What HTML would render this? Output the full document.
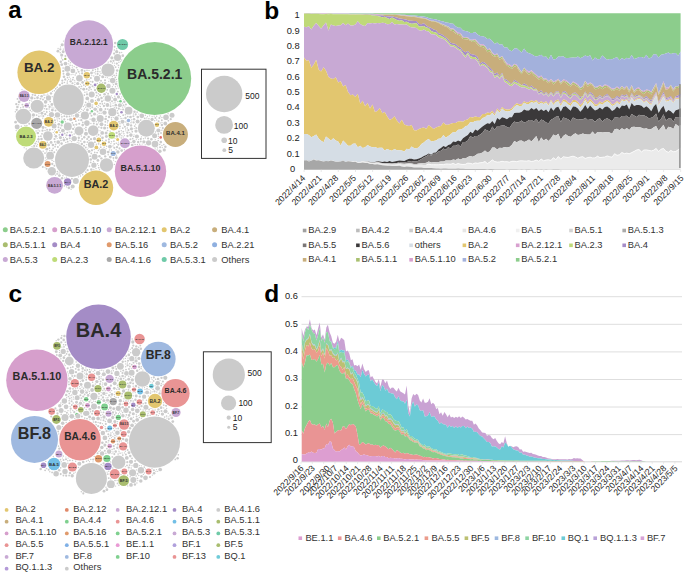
<!DOCTYPE html>
<html><head><meta charset="utf-8"><style>
html,body{margin:0;padding:0;background:#fff;width:685px;height:574px;overflow:hidden}
svg{display:block;font-family:"Liberation Sans", sans-serif}
</style></head><body>
<svg width="685" height="574" viewBox="0 0 685 574">
<rect width="685" height="574" fill="#fff"/>
<text x="8.3" y="17.9" font-size="24" text-anchor="start" font-weight="bold" fill="#000" >a</text>
<text x="264.3" y="18.6" font-size="24.5" text-anchor="start" font-weight="bold" fill="#000" >b</text>
<text x="8.5" y="302.0" font-size="24.5" text-anchor="start" font-weight="bold" fill="#000" >c</text>
<text x="264.2" y="302.3" font-size="24.5" text-anchor="start" font-weight="bold" fill="#000" >d</text>
<circle cx="154.7" cy="78.5" r="36.50" fill="#8ccd8c"/>
<circle cx="88.7" cy="44.7" r="24.40" fill="#c8a9d4"/>
<circle cx="39.2" cy="72.3" r="21.80" fill="#e2c66f"/>
<circle cx="140.5" cy="171.3" r="25.70" fill="#d69fcc"/>
<circle cx="96.0" cy="187.8" r="17.20" fill="#e2c66f"/>
<circle cx="175.4" cy="134.5" r="12.50" fill="#c8ae7c"/>
<circle cx="26.0" cy="136.6" r="10.00" fill="#bedb78"/>
<circle cx="122.5" cy="44.5" r="5.60" fill="#6fcaa8"/>
<circle cx="24.1" cy="96.2" r="5.70" fill="#c8a9d4"/>
<circle cx="36.7" cy="123.4" r="5.60" fill="#a9a9a9"/>
<circle cx="48.7" cy="121.8" r="4.90" fill="#e2c66f"/>
<circle cx="101.3" cy="88.3" r="4.70" fill="#a9bd6f"/>
<circle cx="54.6" cy="185.3" r="8.40" fill="#c8a9d4"/>
<circle cx="124.9" cy="143.2" r="5.00" fill="#c8a9d4"/>
<circle cx="113.7" cy="125.6" r="4.90" fill="#e2c66f"/>
<circle cx="111.8" cy="135.4" r="3.30" fill="#bedb78"/>
<circle cx="67.6" cy="182.0" r="3.70" fill="#a48cc6"/>
<circle cx="26.7" cy="105.4" r="2.30" fill="#c8a9d4"/>
<circle cx="86.8" cy="75.2" r="3.20" fill="#e2c66f"/>
<circle cx="87.3" cy="83.5" r="2.30" fill="#e2c66f"/>
<circle cx="42.8" cy="144.8" r="3.90" fill="#e2c66f"/>
<circle cx="47.6" cy="164.0" r="3.00" fill="#e09a6c"/>
<circle cx="113.2" cy="153.5" r="2.60" fill="#9fb9e0"/>
<circle cx="128.5" cy="120.5" r="1.80" fill="#9fb9e0"/>
<circle cx="98.8" cy="140.0" r="2.40" fill="#e2c66f"/>
<circle cx="104.0" cy="143.7" r="2.30" fill="#e2c66f"/>
<circle cx="96.4" cy="147.4" r="1.90" fill="#e2c66f"/>
<circle cx="117.6" cy="139.5" r="1.50" fill="#e2c66f"/>
<circle cx="157.0" cy="124.7" r="2.20" fill="#e2c66f"/>
<circle cx="96.1" cy="103.4" r="1.80" fill="#e2c66f"/>
<circle cx="160.7" cy="137.4" r="1.30" fill="#e07070"/>
<circle cx="62.2" cy="122.0" r="1.70" fill="#7fd08f"/>
<circle cx="65.3" cy="58.9" r="1.20" fill="#a9bd6f"/>
<circle cx="120.5" cy="101.3" r="1.30" fill="#7fd08f"/>
<circle cx="91.9" cy="111.2" r="1.20" fill="#7fd08f"/>
<circle cx="95.1" cy="84.9" r="1.40" fill="#a48cc6"/>
<circle cx="116.8" cy="94.0" r="1.20" fill="#a48cc6"/>
<circle cx="121.5" cy="112.3" r="1.30" fill="#a48cc6"/>
<circle cx="62.3" cy="134.8" r="1.20" fill="#a48cc6"/>
<circle cx="69.9" cy="135.4" r="1.20" fill="#a48cc6"/>
<circle cx="74.4" cy="118.8" r="1.30" fill="#e09a6c"/>
<circle cx="56.7" cy="132.3" r="1.30" fill="#e2c66f"/>
<circle cx="68.4" cy="99.7" r="15.30" fill="#cbcbcb"/>
<circle cx="72.0" cy="159.9" r="17.00" fill="#cbcbcb"/>
<circle cx="33.7" cy="158.1" r="10.50" fill="#cbcbcb"/>
<circle cx="23.4" cy="116.5" r="7.80" fill="#cbcbcb"/>
<circle cx="37.2" cy="106.2" r="6.50" fill="#cbcbcb"/>
<circle cx="108.0" cy="70.0" r="6.60" fill="#cbcbcb"/>
<circle cx="146.3" cy="128.3" r="8.50" fill="#cbcbcb"/>
<circle cx="93.2" cy="130.6" r="5.30" fill="#cbcbcb"/>
<circle cx="106.5" cy="165.0" r="6.70" fill="#cbcbcb"/>
<circle cx="47.9" cy="136.0" r="4.80" fill="#cbcbcb"/>
<circle cx="50.1" cy="155.7" r="3.90" fill="#cbcbcb"/>
<circle cx="51.8" cy="171.3" r="4.20" fill="#cbcbcb"/>
<circle cx="84.9" cy="115.5" r="4.10" fill="#cbcbcb"/>
<circle cx="112.3" cy="112.2" r="4.10" fill="#cbcbcb"/>
<circle cx="128.6" cy="110.7" r="3.90" fill="#cbcbcb"/>
<circle cx="100.2" cy="118.4" r="3.50" fill="#cbcbcb"/>
<circle cx="117.6" cy="57.5" r="3.60" fill="#cbcbcb"/>
<circle cx="79.4" cy="78.3" r="3.30" fill="#cbcbcb"/>
<circle cx="97.0" cy="78.8" r="3.00" fill="#cbcbcb"/>
<circle cx="91.7" cy="94.5" r="3.00" fill="#cbcbcb"/>
<circle cx="107.9" cy="98.5" r="3.20" fill="#cbcbcb"/>
<circle cx="112.4" cy="90.8" r="3.00" fill="#cbcbcb"/>
<circle cx="67.4" cy="68.7" r="3.00" fill="#cbcbcb"/>
<circle cx="67.8" cy="126.4" r="4.00" fill="#cbcbcb"/>
<circle cx="79.0" cy="130.9" r="4.50" fill="#cbcbcb"/>
<circle cx="57.4" cy="114.9" r="2.70" fill="#cbcbcb"/>
<circle cx="91.1" cy="144.8" r="3.20" fill="#cbcbcb"/>
<circle cx="103.0" cy="151.8" r="3.30" fill="#cbcbcb"/>
<circle cx="94.6" cy="156.7" r="3.00" fill="#cbcbcb"/>
<circle cx="155.0" cy="144.1" r="3.40" fill="#cbcbcb"/>
<circle cx="154.6" cy="135.8" r="2.50" fill="#cbcbcb"/>
<circle cx="166.0" cy="117.3" r="2.80" fill="#cbcbcb"/>
<circle cx="172.0" cy="115.2" r="2.50" fill="#cbcbcb"/>
<circle cx="75.8" cy="181.0" r="3.00" fill="#cbcbcb"/>
<circle cx="72.7" cy="186.4" r="2.00" fill="#cbcbcb"/>
<circle cx="54.1" cy="126.0" r="2.50" fill="#cbcbcb"/>
<circle cx="51.5" cy="114.5" r="2.60" fill="#cbcbcb"/>
<circle cx="86.9" cy="123.1" r="2.80" fill="#cbcbcb"/>
<circle cx="63.2" cy="51.8" r="1.48" fill="#cbcbcb"/>
<circle cx="119.0" cy="131.6" r="1.09" fill="#cbcbcb"/>
<circle cx="88.8" cy="105.0" r="2.58" fill="#cbcbcb"/>
<circle cx="94.5" cy="138.7" r="1.58" fill="#cbcbcb"/>
<circle cx="57.9" cy="51.2" r="1.40" fill="#cbcbcb"/>
<circle cx="103.9" cy="106.0" r="1.14" fill="#cbcbcb"/>
<circle cx="81.9" cy="70.4" r="1.28" fill="#cbcbcb"/>
<circle cx="48.5" cy="97.9" r="2.61" fill="#cbcbcb"/>
<circle cx="67.3" cy="83.0" r="0.84" fill="#cbcbcb"/>
<circle cx="52.9" cy="145.1" r="1.26" fill="#cbcbcb"/>
<circle cx="61.7" cy="64.7" r="1.37" fill="#cbcbcb"/>
<circle cx="112.7" cy="80.6" r="2.78" fill="#cbcbcb"/>
<circle cx="73.6" cy="125.0" r="1.05" fill="#cbcbcb"/>
<circle cx="124.9" cy="126.8" r="1.06" fill="#cbcbcb"/>
<circle cx="159.7" cy="144.5" r="0.79" fill="#cbcbcb"/>
<circle cx="132.2" cy="145.0" r="1.37" fill="#cbcbcb"/>
<circle cx="106.1" cy="133.0" r="1.50" fill="#cbcbcb"/>
<circle cx="107.6" cy="130.5" r="0.85" fill="#cbcbcb"/>
<circle cx="107.4" cy="105.0" r="1.91" fill="#cbcbcb"/>
<circle cx="91.5" cy="73.0" r="1.42" fill="#cbcbcb"/>
<circle cx="119.9" cy="105.2" r="2.06" fill="#cbcbcb"/>
<circle cx="67.0" cy="139.2" r="1.16" fill="#cbcbcb"/>
<circle cx="93.9" cy="165.2" r="2.60" fill="#cbcbcb"/>
<circle cx="86.7" cy="79.8" r="0.88" fill="#cbcbcb"/>
<circle cx="86.0" cy="133.8" r="2.02" fill="#cbcbcb"/>
<circle cx="16.7" cy="109.8" r="1.14" fill="#cbcbcb"/>
<circle cx="88.7" cy="137.0" r="1.17" fill="#cbcbcb"/>
<circle cx="117.0" cy="147.1" r="1.18" fill="#cbcbcb"/>
<circle cx="137.1" cy="112.1" r="0.85" fill="#cbcbcb"/>
<circle cx="148.6" cy="142.8" r="2.63" fill="#cbcbcb"/>
<circle cx="130.9" cy="135.1" r="1.80" fill="#cbcbcb"/>
<circle cx="104.5" cy="112.6" r="2.20" fill="#cbcbcb"/>
<circle cx="51.1" cy="142.4" r="1.38" fill="#cbcbcb"/>
<circle cx="71.5" cy="132.2" r="1.01" fill="#cbcbcb"/>
<circle cx="84.4" cy="95.1" r="0.84" fill="#cbcbcb"/>
<circle cx="116.5" cy="118.5" r="2.19" fill="#cbcbcb"/>
<circle cx="52.0" cy="150.6" r="0.99" fill="#cbcbcb"/>
<circle cx="53.1" cy="148.4" r="0.86" fill="#cbcbcb"/>
<circle cx="33.4" cy="114.9" r="1.73" fill="#cbcbcb"/>
<circle cx="94.9" cy="142.2" r="0.88" fill="#cbcbcb"/>
<circle cx="96.9" cy="124.4" r="1.07" fill="#cbcbcb"/>
<circle cx="115.1" cy="99.5" r="1.98" fill="#cbcbcb"/>
<circle cx="159.9" cy="151.2" r="1.72" fill="#cbcbcb"/>
<circle cx="116.6" cy="132.9" r="1.10" fill="#cbcbcb"/>
<circle cx="105.6" cy="119.0" r="1.35" fill="#cbcbcb"/>
<circle cx="41.9" cy="113.3" r="1.48" fill="#cbcbcb"/>
<circle cx="60.4" cy="137.6" r="1.60" fill="#cbcbcb"/>
<circle cx="114.3" cy="107.3" r="0.66" fill="#cbcbcb"/>
<circle cx="58.2" cy="142.1" r="1.90" fill="#cbcbcb"/>
<circle cx="114.1" cy="53.6" r="1.10" fill="#cbcbcb"/>
<circle cx="122.5" cy="121.7" r="2.05" fill="#cbcbcb"/>
<circle cx="127.8" cy="124.5" r="1.74" fill="#cbcbcb"/>
<circle cx="76.6" cy="67.6" r="0.97" fill="#cbcbcb"/>
<circle cx="101.5" cy="124.3" r="1.95" fill="#cbcbcb"/>
<circle cx="133.6" cy="136.6" r="0.75" fill="#cbcbcb"/>
<circle cx="93.5" cy="119.7" r="2.27" fill="#cbcbcb"/>
<circle cx="82.6" cy="82.4" r="1.32" fill="#cbcbcb"/>
<circle cx="128.4" cy="130.1" r="1.09" fill="#cbcbcb"/>
<circle cx="57.9" cy="146.9" r="1.00" fill="#cbcbcb"/>
<circle cx="31.8" cy="97.9" r="1.65" fill="#cbcbcb"/>
<circle cx="46.8" cy="149.2" r="1.40" fill="#cbcbcb"/>
<circle cx="165.3" cy="123.5" r="1.88" fill="#cbcbcb"/>
<circle cx="17.5" cy="98.9" r="0.93" fill="#cbcbcb"/>
<circle cx="158.6" cy="121.3" r="0.97" fill="#cbcbcb"/>
<circle cx="63.9" cy="140.0" r="1.47" fill="#cbcbcb"/>
<circle cx="46.7" cy="109.1" r="1.07" fill="#cbcbcb"/>
<circle cx="76.4" cy="124.6" r="1.12" fill="#cbcbcb"/>
<circle cx="121.7" cy="60.0" r="0.64" fill="#cbcbcb"/>
<circle cx="134.5" cy="111.8" r="1.24" fill="#cbcbcb"/>
<circle cx="131.4" cy="128.8" r="1.61" fill="#cbcbcb"/>
<circle cx="125.5" cy="118.0" r="1.23" fill="#cbcbcb"/>
<circle cx="62.0" cy="178.2" r="1.25" fill="#cbcbcb"/>
<circle cx="115.6" cy="67.1" r="0.94" fill="#cbcbcb"/>
<circle cx="74.2" cy="138.6" r="2.69" fill="#cbcbcb"/>
<circle cx="116.7" cy="51.7" r="1.60" fill="#cbcbcb"/>
<circle cx="59.4" cy="121.3" r="0.66" fill="#cbcbcb"/>
<circle cx="97.2" cy="114.9" r="0.62" fill="#cbcbcb"/>
<circle cx="109.9" cy="146.6" r="1.92" fill="#cbcbcb"/>
<circle cx="101.4" cy="158.3" r="1.17" fill="#cbcbcb"/>
<circle cx="72.9" cy="70.9" r="2.41" fill="#cbcbcb"/>
<circle cx="37.5" cy="97.7" r="1.34" fill="#cbcbcb"/>
<circle cx="49.1" cy="109.1" r="0.76" fill="#cbcbcb"/>
<circle cx="72.7" cy="79.7" r="0.91" fill="#cbcbcb"/>
<circle cx="130.4" cy="139.3" r="1.07" fill="#cbcbcb"/>
<circle cx="29.3" cy="103.0" r="0.68" fill="#cbcbcb"/>
<circle cx="41.5" cy="139.1" r="1.23" fill="#cbcbcb"/>
<circle cx="89.6" cy="87.5" r="1.25" fill="#cbcbcb"/>
<circle cx="36.6" cy="115.1" r="0.97" fill="#cbcbcb"/>
<circle cx="101.5" cy="97.9" r="1.23" fill="#cbcbcb"/>
<circle cx="102.2" cy="132.9" r="1.87" fill="#cbcbcb"/>
<circle cx="104.6" cy="94.2" r="1.31" fill="#cbcbcb"/>
<circle cx="134.1" cy="119.2" r="1.22" fill="#cbcbcb"/>
<circle cx="43.3" cy="116.1" r="1.04" fill="#cbcbcb"/>
<circle cx="127.4" cy="132.7" r="1.12" fill="#cbcbcb"/>
<circle cx="17.2" cy="127.0" r="2.49" fill="#cbcbcb"/>
<circle cx="124.3" cy="101.7" r="1.19" fill="#cbcbcb"/>
<circle cx="37.8" cy="133.0" r="1.29" fill="#cbcbcb"/>
<circle cx="73.2" cy="77.5" r="0.86" fill="#cbcbcb"/>
<circle cx="44.0" cy="111.5" r="0.78" fill="#cbcbcb"/>
<circle cx="92.0" cy="101.0" r="1.97" fill="#cbcbcb"/>
<circle cx="102.5" cy="137.8" r="1.36" fill="#cbcbcb"/>
<circle cx="64.3" cy="116.2" r="0.91" fill="#cbcbcb"/>
<circle cx="59.4" cy="175.6" r="1.38" fill="#cbcbcb"/>
<circle cx="79.1" cy="86.9" r="0.88" fill="#cbcbcb"/>
<circle cx="87.1" cy="139.1" r="1.00" fill="#cbcbcb"/>
<circle cx="76.2" cy="73.0" r="0.87" fill="#cbcbcb"/>
<circle cx="106.1" cy="116.3" r="0.86" fill="#cbcbcb"/>
<circle cx="141.8" cy="115.8" r="2.37" fill="#cbcbcb"/>
<circle cx="137.6" cy="121.5" r="2.03" fill="#cbcbcb"/>
<circle cx="110.9" cy="143.6" r="0.71" fill="#cbcbcb"/>
<circle cx="35.4" cy="143.5" r="1.05" fill="#cbcbcb"/>
<circle cx="122.6" cy="107.1" r="0.69" fill="#cbcbcb"/>
<circle cx="110.6" cy="106.2" r="0.96" fill="#cbcbcb"/>
<circle cx="61.6" cy="143.6" r="1.28" fill="#cbcbcb"/>
<circle cx="118.3" cy="144.6" r="1.12" fill="#cbcbcb"/>
<circle cx="78.8" cy="137.7" r="1.19" fill="#cbcbcb"/>
<circle cx="70.8" cy="119.5" r="1.78" fill="#cbcbcb"/>
<circle cx="49.6" cy="106.7" r="1.18" fill="#cbcbcb"/>
<circle cx="98.5" cy="99.8" r="1.77" fill="#cbcbcb"/>
<circle cx="77.7" cy="83.5" r="1.62" fill="#cbcbcb"/>
<circle cx="83.3" cy="110.5" r="0.63" fill="#cbcbcb"/>
<circle cx="83.4" cy="106.5" r="0.67" fill="#cbcbcb"/>
<circle cx="78.6" cy="71.8" r="1.00" fill="#cbcbcb"/>
<circle cx="73.1" cy="128.9" r="1.14" fill="#cbcbcb"/>
<circle cx="62.9" cy="130.6" r="1.91" fill="#cbcbcb"/>
<circle cx="97.1" cy="152.6" r="0.95" fill="#cbcbcb"/>
<circle cx="134.7" cy="126.1" r="0.90" fill="#cbcbcb"/>
<circle cx="109.0" cy="117.0" r="1.19" fill="#cbcbcb"/>
<circle cx="131.1" cy="125.4" r="1.18" fill="#cbcbcb"/>
<circle cx="105.3" cy="121.8" r="0.91" fill="#cbcbcb"/>
<circle cx="100.1" cy="130.7" r="0.62" fill="#cbcbcb"/>
<circle cx="131.7" cy="119.3" r="0.62" fill="#cbcbcb"/>
<circle cx="87.0" cy="94.3" r="1.15" fill="#cbcbcb"/>
<circle cx="108.9" cy="142.2" r="1.15" fill="#cbcbcb"/>
<circle cx="67.9" cy="74.2" r="1.99" fill="#cbcbcb"/>
<circle cx="140.7" cy="120.1" r="0.82" fill="#cbcbcb"/>
<circle cx="60.6" cy="128.2" r="0.83" fill="#cbcbcb"/>
<circle cx="90.7" cy="162.4" r="0.91" fill="#cbcbcb"/>
<circle cx="118.8" cy="108.7" r="1.09" fill="#cbcbcb"/>
<circle cx="81.3" cy="120.1" r="1.19" fill="#cbcbcb"/>
<circle cx="60.2" cy="52.7" r="0.76" fill="#cbcbcb"/>
<circle cx="96.8" cy="95.6" r="0.90" fill="#cbcbcb"/>
<circle cx="52.3" cy="164.0" r="1.13" fill="#cbcbcb"/>
<circle cx="55.5" cy="175.2" r="0.64" fill="#cbcbcb"/>
<circle cx="82.8" cy="122.4" r="0.88" fill="#cbcbcb"/>
<circle cx="95.0" cy="90.1" r="1.15" fill="#cbcbcb"/>
<circle cx="160.8" cy="142.1" r="1.30" fill="#cbcbcb"/>
<circle cx="65.2" cy="79.5" r="1.14" fill="#cbcbcb"/>
<circle cx="152.1" cy="119.4" r="1.60" fill="#cbcbcb"/>
<circle cx="52.4" cy="110.0" r="1.41" fill="#cbcbcb"/>
<circle cx="54.9" cy="120.3" r="0.97" fill="#cbcbcb"/>
<circle cx="136.9" cy="136.5" r="2.07" fill="#cbcbcb"/>
<circle cx="82.7" cy="125.1" r="1.31" fill="#cbcbcb"/>
<circle cx="123.3" cy="131.6" r="0.94" fill="#cbcbcb"/>
<circle cx="108.5" cy="86.0" r="2.28" fill="#cbcbcb"/>
<circle cx="87.4" cy="110.0" r="1.40" fill="#cbcbcb"/>
<circle cx="121.7" cy="150.6" r="1.33" fill="#cbcbcb"/>
<circle cx="84.2" cy="137.3" r="1.20" fill="#cbcbcb"/>
<circle cx="38.1" cy="130.1" r="0.68" fill="#cbcbcb"/>
<circle cx="48.6" cy="144.9" r="1.35" fill="#cbcbcb"/>
<circle cx="113.5" cy="60.8" r="1.11" fill="#cbcbcb"/>
<circle cx="51.0" cy="93.4" r="1.21" fill="#cbcbcb"/>
<circle cx="109.1" cy="78.8" r="0.63" fill="#cbcbcb"/>
<circle cx="95.2" cy="109.2" r="1.82" fill="#cbcbcb"/>
<circle cx="87.3" cy="98.4" r="1.87" fill="#cbcbcb"/>
<circle cx="152.1" cy="116.6" r="0.68" fill="#cbcbcb"/>
<circle cx="136.2" cy="128.0" r="0.94" fill="#cbcbcb"/>
<circle cx="158.2" cy="140.5" r="0.86" fill="#cbcbcb"/>
<circle cx="55.1" cy="146.7" r="0.91" fill="#cbcbcb"/>
<circle cx="114.8" cy="96.2" r="0.73" fill="#cbcbcb"/>
<circle cx="94.5" cy="114.0" r="1.61" fill="#cbcbcb"/>
<circle cx="89.4" cy="166.3" r="0.97" fill="#cbcbcb"/>
<circle cx="116.8" cy="63.6" r="1.11" fill="#cbcbcb"/>
<circle cx="100.1" cy="95.1" r="1.08" fill="#cbcbcb"/>
<circle cx="139.7" cy="144.3" r="0.74" fill="#cbcbcb"/>
<circle cx="44.5" cy="97.8" r="0.82" fill="#cbcbcb"/>
<circle cx="79.2" cy="123.7" r="1.05" fill="#cbcbcb"/>
<circle cx="45.4" cy="106.0" r="1.19" fill="#cbcbcb"/>
<circle cx="106.0" cy="140.5" r="0.90" fill="#cbcbcb"/>
<circle cx="20.7" cy="107.8" r="0.74" fill="#cbcbcb"/>
<circle cx="90.8" cy="78.0" r="1.11" fill="#cbcbcb"/>
<circle cx="111.5" cy="141.7" r="0.78" fill="#cbcbcb"/>
<circle cx="85.9" cy="130.0" r="0.94" fill="#cbcbcb"/>
<circle cx="65.5" cy="63.6" r="1.90" fill="#cbcbcb"/>
<circle cx="81.8" cy="143.9" r="1.25" fill="#cbcbcb"/>
<circle cx="110.1" cy="131.2" r="0.68" fill="#cbcbcb"/>
<circle cx="117.9" cy="91.6" r="0.91" fill="#cbcbcb"/>
<circle cx="17.4" cy="106.9" r="1.27" fill="#cbcbcb"/>
<circle cx="29.7" cy="100.4" r="0.77" fill="#cbcbcb"/>
<circle cx="90.2" cy="156.2" r="0.87" fill="#cbcbcb"/>
<circle cx="108.9" cy="139.4" r="1.05" fill="#cbcbcb"/>
<circle cx="97.8" cy="68.9" r="0.89" fill="#cbcbcb"/>
<circle cx="71.1" cy="74.7" r="0.62" fill="#cbcbcb"/>
<circle cx="87.4" cy="142.2" r="0.83" fill="#cbcbcb"/>
<circle cx="86.9" cy="92.0" r="0.64" fill="#cbcbcb"/>
<circle cx="62.2" cy="83.3" r="1.03" fill="#cbcbcb"/>
<circle cx="91.2" cy="89.4" r="0.75" fill="#cbcbcb"/>
<circle cx="84.2" cy="128.6" r="0.63" fill="#cbcbcb"/>
<circle cx="53.9" cy="107.9" r="0.63" fill="#cbcbcb"/>
<circle cx="66.6" cy="135.2" r="1.07" fill="#cbcbcb"/>
<circle cx="110.1" cy="102.3" r="0.62" fill="#cbcbcb"/>
<circle cx="70.6" cy="81.3" r="1.17" fill="#cbcbcb"/>
<circle cx="137.4" cy="144.5" r="0.70" fill="#cbcbcb"/>
<circle cx="122.8" cy="55.7" r="1.36" fill="#cbcbcb"/>
<circle cx="161.8" cy="120.2" r="0.94" fill="#cbcbcb"/>
<circle cx="119.6" cy="52.7" r="0.89" fill="#cbcbcb"/>
<circle cx="15.6" cy="122.2" r="1.34" fill="#cbcbcb"/>
<circle cx="103.9" cy="100.2" r="0.63" fill="#cbcbcb"/>
<circle cx="55.9" cy="136.3" r="1.36" fill="#cbcbcb"/>
<circle cx="61.6" cy="125.4" r="1.16" fill="#cbcbcb"/>
<circle cx="96.3" cy="92.4" r="1.01" fill="#cbcbcb"/>
<circle cx="116.4" cy="107.9" r="0.89" fill="#cbcbcb"/>
<circle cx="100.7" cy="109.7" r="1.87" fill="#cbcbcb"/>
<circle cx="92.5" cy="81.8" r="1.09" fill="#cbcbcb"/>
<circle cx="51.9" cy="104.5" r="1.38" fill="#cbcbcb"/>
<circle cx="84.4" cy="141.9" r="1.26" fill="#cbcbcb"/>
<circle cx="58.5" cy="127.3" r="0.96" fill="#cbcbcb"/>
<circle cx="108.2" cy="152.1" r="1.34" fill="#cbcbcb"/>
<circle cx="100.6" cy="144.8" r="0.75" fill="#cbcbcb"/>
<circle cx="148.9" cy="118.8" r="0.80" fill="#cbcbcb"/>
<circle cx="54.5" cy="131.1" r="0.70" fill="#cbcbcb"/>
<circle cx="102.7" cy="76.8" r="1.53" fill="#cbcbcb"/>
<circle cx="158.4" cy="130.5" r="2.12" fill="#cbcbcb"/>
<circle cx="40.5" cy="98.8" r="1.00" fill="#cbcbcb"/>
<circle cx="67.2" cy="132.6" r="0.90" fill="#cbcbcb"/>
<circle cx="38.5" cy="139.3" r="1.22" fill="#cbcbcb"/>
<circle cx="61.7" cy="55.1" r="1.57" fill="#cbcbcb"/>
<circle cx="154.7" cy="120.7" r="0.71" fill="#cbcbcb"/>
<circle cx="118.5" cy="65.4" r="0.86" fill="#cbcbcb"/>
<circle cx="89.1" cy="151.5" r="1.45" fill="#cbcbcb"/>
<circle cx="135.7" cy="114.4" r="1.07" fill="#cbcbcb"/>
<circle cx="116.3" cy="157.8" r="1.44" fill="#cbcbcb"/>
<circle cx="84.7" cy="70.9" r="1.02" fill="#cbcbcb"/>
<circle cx="58.9" cy="130.3" r="1.13" fill="#cbcbcb"/>
<circle cx="109.5" cy="149.9" r="0.69" fill="#cbcbcb"/>
<circle cx="118.5" cy="96.9" r="1.57" fill="#cbcbcb"/>
<circle cx="49.8" cy="129.8" r="1.12" fill="#cbcbcb"/>
<circle cx="45.2" cy="114.2" r="1.15" fill="#cbcbcb"/>
<circle cx="123.1" cy="109.4" r="1.02" fill="#cbcbcb"/>
<circle cx="80.9" cy="88.7" r="0.83" fill="#cbcbcb"/>
<circle cx="45.6" cy="101.9" r="1.80" fill="#cbcbcb"/>
<circle cx="42.8" cy="166.9" r="1.02" fill="#cbcbcb"/>
<circle cx="132.7" cy="138.6" r="0.85" fill="#cbcbcb"/>
<circle cx="35.1" cy="95.3" r="1.01" fill="#cbcbcb"/>
<circle cx="95.5" cy="100.4" r="0.70" fill="#cbcbcb"/>
<circle cx="74.7" cy="80.3" r="0.62" fill="#cbcbcb"/>
<circle cx="47.8" cy="115.6" r="0.68" fill="#cbcbcb"/>
<circle cx="38.7" cy="136.6" r="0.88" fill="#cbcbcb"/>
<circle cx="63.3" cy="71.1" r="1.18" fill="#cbcbcb"/>
<circle cx="141.5" cy="136.8" r="0.66" fill="#cbcbcb"/>
<circle cx="97.6" cy="163.8" r="0.81" fill="#cbcbcb"/>
<circle cx="123.9" cy="133.7" r="0.74" fill="#cbcbcb"/>
<circle cx="47.8" cy="94.2" r="0.62" fill="#cbcbcb"/>
<circle cx="122.8" cy="128.1" r="0.87" fill="#cbcbcb"/>
<circle cx="93.8" cy="76.0" r="0.68" fill="#cbcbcb"/>
<circle cx="106.4" cy="136.5" r="1.48" fill="#cbcbcb"/>
<circle cx="101.4" cy="127.8" r="1.10" fill="#cbcbcb"/>
<circle cx="125.3" cy="114.7" r="0.73" fill="#cbcbcb"/>
<circle cx="116.9" cy="136.3" r="1.25" fill="#cbcbcb"/>
<circle cx="70.1" cy="65.3" r="0.83" fill="#cbcbcb"/>
<circle cx="87.0" cy="70.4" r="0.78" fill="#cbcbcb"/>
<circle cx="111.9" cy="57.8" r="1.59" fill="#cbcbcb"/>
<circle cx="127.7" cy="116.5" r="0.86" fill="#cbcbcb"/>
<circle cx="102.4" cy="103.9" r="0.85" fill="#cbcbcb"/>
<circle cx="61.9" cy="116.8" r="0.90" fill="#cbcbcb"/>
<circle cx="158.4" cy="134.0" r="0.90" fill="#cbcbcb"/>
<circle cx="64.0" cy="76.7" r="1.32" fill="#cbcbcb"/>
<circle cx="116.7" cy="48.8" r="0.72" fill="#cbcbcb"/>
<circle cx="91.3" cy="169.4" r="1.23" fill="#cbcbcb"/>
<circle cx="99.4" cy="156.2" r="1.19" fill="#cbcbcb"/>
<circle cx="69.5" cy="116.4" r="0.89" fill="#cbcbcb"/>
<circle cx="60.8" cy="61.7" r="1.21" fill="#cbcbcb"/>
<circle cx="161.0" cy="133.0" r="0.91" fill="#cbcbcb"/>
<circle cx="59.8" cy="85.0" r="1.15" fill="#cbcbcb"/>
<circle cx="164.3" cy="149.9" r="1.60" fill="#cbcbcb"/>
<circle cx="43.2" cy="151.2" r="0.69" fill="#cbcbcb"/>
<circle cx="143.9" cy="141.8" r="1.63" fill="#cbcbcb"/>
<circle cx="115.3" cy="77.3" r="0.88" fill="#cbcbcb"/>
<circle cx="98.5" cy="134.8" r="0.93" fill="#cbcbcb"/>
<circle cx="120.0" cy="123.8" r="0.72" fill="#cbcbcb"/>
<circle cx="114.6" cy="46.8" r="0.99" fill="#cbcbcb"/>
<circle cx="70.5" cy="78.9" r="0.65" fill="#cbcbcb"/>
<circle cx="116.5" cy="79.4" r="0.67" fill="#cbcbcb"/>
<circle cx="92.3" cy="107.2" r="1.05" fill="#cbcbcb"/>
<circle cx="72.2" cy="65.3" r="0.67" fill="#cbcbcb"/>
<circle cx="52.1" cy="160.4" r="0.70" fill="#cbcbcb"/>
<circle cx="118.2" cy="88.1" r="0.72" fill="#cbcbcb"/>
<circle cx="41.6" cy="96.2" r="1.29" fill="#cbcbcb"/>
<circle cx="101.1" cy="113.2" r="0.70" fill="#cbcbcb"/>
<circle cx="116.3" cy="143.2" r="0.81" fill="#cbcbcb"/>
<circle cx="78.7" cy="120.1" r="0.85" fill="#cbcbcb"/>
<circle cx="110.8" cy="61.4" r="1.11" fill="#cbcbcb"/>
<circle cx="107.8" cy="109.1" r="0.85" fill="#cbcbcb"/>
<circle cx="44.0" cy="95.1" r="0.81" fill="#cbcbcb"/>
<circle cx="156.7" cy="116.2" r="0.69" fill="#cbcbcb"/>
<circle cx="104.6" cy="128.0" r="1.53" fill="#cbcbcb"/>
<circle cx="117.8" cy="113.2" r="0.91" fill="#cbcbcb"/>
<circle cx="138.2" cy="142.0" r="1.19" fill="#cbcbcb"/>
<circle cx="121.7" cy="52.5" r="0.65" fill="#cbcbcb"/>
<circle cx="105.2" cy="156.3" r="1.17" fill="#cbcbcb"/>
<circle cx="90.1" cy="119.2" r="0.62" fill="#cbcbcb"/>
<circle cx="62.2" cy="44.8" r="1.55" fill="#cbcbcb"/>
<circle cx="82.1" cy="73.3" r="1.11" fill="#cbcbcb"/>
<circle cx="162.8" cy="128.1" r="1.08" fill="#cbcbcb"/>
<circle cx="43.1" cy="127.6" r="1.49" fill="#cbcbcb"/>
<circle cx="161.9" cy="125.0" r="1.19" fill="#cbcbcb"/>
<circle cx="133.9" cy="141.6" r="1.79" fill="#cbcbcb"/>
<circle cx="60.2" cy="132.5" r="0.81" fill="#cbcbcb"/>
<circle cx="116.4" cy="75.4" r="0.81" fill="#cbcbcb"/>
<circle cx="93.8" cy="123.5" r="0.98" fill="#cbcbcb"/>
<circle cx="46.7" cy="151.9" r="0.65" fill="#cbcbcb"/>
<circle cx="81.7" cy="109.4" r="0.64" fill="#cbcbcb"/>
<circle cx="112.3" cy="97.7" r="0.69" fill="#cbcbcb"/>
<circle cx="91.5" cy="115.7" r="0.99" fill="#cbcbcb"/>
<circle cx="136.3" cy="139.6" r="0.62" fill="#cbcbcb"/>
<circle cx="105.1" cy="83.1" r="1.21" fill="#cbcbcb"/>
<circle cx="75.2" cy="74.9" r="0.75" fill="#cbcbcb"/>
<circle cx="68.9" cy="187.8" r="1.38" fill="#cbcbcb"/>
<circle cx="151.4" cy="139.3" r="1.26" fill="#cbcbcb"/>
<circle cx="136.0" cy="131.1" r="1.64" fill="#cbcbcb"/>
<circle cx="160.1" cy="147.3" r="1.01" fill="#cbcbcb"/>
<circle cx="99.1" cy="113.2" r="0.75" fill="#cbcbcb"/>
<circle cx="29.3" cy="107.8" r="0.68" fill="#cbcbcb"/>
<circle cx="113.4" cy="158.0" r="0.93" fill="#cbcbcb"/>
<circle cx="38.4" cy="141.9" r="0.78" fill="#cbcbcb"/>
<circle cx="87.2" cy="149.6" r="0.67" fill="#cbcbcb"/>
<circle cx="99.2" cy="148.9" r="0.74" fill="#cbcbcb"/>
<circle cx="118.6" cy="115.4" r="0.95" fill="#cbcbcb"/>
<circle cx="88.1" cy="148.0" r="0.62" fill="#cbcbcb"/>
<circle cx="131.7" cy="121.0" r="0.62" fill="#cbcbcb"/>
<circle cx="83.7" cy="89.2" r="1.46" fill="#cbcbcb"/>
<circle cx="86.7" cy="89.0" r="1.01" fill="#cbcbcb"/>
<circle cx="148.1" cy="138.5" r="1.09" fill="#cbcbcb"/>
<circle cx="121.3" cy="138.0" r="0.81" fill="#cbcbcb"/>
<circle cx="67.8" cy="119.4" r="0.73" fill="#cbcbcb"/>
<circle cx="23.2" cy="106.9" r="0.95" fill="#cbcbcb"/>
<circle cx="120.7" cy="98.7" r="0.75" fill="#cbcbcb"/>
<circle cx="105.0" cy="80.3" r="0.99" fill="#cbcbcb"/>
<circle cx="110.3" cy="157.1" r="1.47" fill="#cbcbcb"/>
<circle cx="63.5" cy="73.7" r="0.95" fill="#cbcbcb"/>
<circle cx="61.6" cy="58.0" r="0.71" fill="#cbcbcb"/>
<circle cx="149.6" cy="115.8" r="0.64" fill="#cbcbcb"/>
<circle cx="96.4" cy="144.2" r="0.71" fill="#cbcbcb"/>
<circle cx="85.8" cy="147.5" r="0.97" fill="#cbcbcb"/>
<circle cx="97.6" cy="73.9" r="1.03" fill="#cbcbcb"/>
<circle cx="19.1" cy="101.9" r="1.38" fill="#cbcbcb"/>
<circle cx="60.3" cy="49.3" r="1.11" fill="#cbcbcb"/>
<circle cx="107.9" cy="120.7" r="0.99" fill="#cbcbcb"/>
<circle cx="123.3" cy="99.6" r="0.67" fill="#cbcbcb"/>
<circle cx="165.4" cy="146.7" r="1.24" fill="#cbcbcb"/>
<circle cx="101.0" cy="80.8" r="0.95" fill="#cbcbcb"/>
<circle cx="87.6" cy="170.2" r="1.12" fill="#cbcbcb"/>
<circle cx="41.0" cy="116.0" r="0.69" fill="#cbcbcb"/>
<circle cx="108.1" cy="93.8" r="0.95" fill="#cbcbcb"/>
<circle cx="70.5" cy="62.8" r="0.73" fill="#cbcbcb"/>
<circle cx="137.8" cy="117.1" r="1.36" fill="#cbcbcb"/>
<circle cx="115.8" cy="105.2" r="1.35" fill="#cbcbcb"/>
<circle cx="119.5" cy="148.4" r="1.04" fill="#cbcbcb"/>
<circle cx="158.3" cy="138.4" r="0.66" fill="#cbcbcb"/>
<circle cx="160.3" cy="115.9" r="0.75" fill="#cbcbcb"/>
<circle cx="52.0" cy="107.1" r="0.67" fill="#cbcbcb"/>
<circle cx="95.4" cy="69.6" r="0.78" fill="#cbcbcb"/>
<circle cx="55.6" cy="144.4" r="0.85" fill="#cbcbcb"/>
<circle cx="108.2" cy="154.8" r="0.78" fill="#cbcbcb"/>
<circle cx="155.3" cy="139.5" r="0.61" fill="#cbcbcb"/>
<circle cx="31.9" cy="111.7" r="0.64" fill="#cbcbcb"/>
<circle cx="130.5" cy="117.0" r="1.37" fill="#cbcbcb"/>
<circle cx="117.5" cy="110.7" r="0.74" fill="#cbcbcb"/>
<circle cx="21.3" cy="126.3" r="0.77" fill="#cbcbcb"/>
<circle cx="80.4" cy="84.3" r="0.64" fill="#cbcbcb"/>
<circle cx="91.0" cy="139.2" r="1.12" fill="#cbcbcb"/>
<circle cx="97.3" cy="83.4" r="0.77" fill="#cbcbcb"/>
<circle cx="32.6" cy="94.7" r="0.96" fill="#cbcbcb"/>
<circle cx="123.1" cy="118.3" r="0.61" fill="#cbcbcb"/>
<circle cx="117.2" cy="70.5" r="1.28" fill="#cbcbcb"/>
<circle cx="72.3" cy="135.0" r="0.69" fill="#cbcbcb"/>
<circle cx="97.8" cy="71.4" r="0.90" fill="#cbcbcb"/>
<circle cx="60.5" cy="46.9" r="0.63" fill="#cbcbcb"/>
<circle cx="107.2" cy="89.8" r="0.87" fill="#cbcbcb"/>
<circle cx="159.4" cy="118.0" r="1.03" fill="#cbcbcb"/>
<circle cx="124.4" cy="149.7" r="0.69" fill="#cbcbcb"/>
<circle cx="107.3" cy="77.7" r="0.61" fill="#cbcbcb"/>
<circle cx="112.4" cy="86.6" r="0.69" fill="#cbcbcb"/>
<circle cx="162.3" cy="147.5" r="0.64" fill="#cbcbcb"/>
<circle cx="119.6" cy="134.4" r="1.28" fill="#cbcbcb"/>
<circle cx="99.9" cy="71.8" r="0.73" fill="#cbcbcb"/>
<circle cx="112.0" cy="101.3" r="0.96" fill="#cbcbcb"/>
<circle cx="72.3" cy="67.2" r="0.67" fill="#cbcbcb"/>
<circle cx="81.4" cy="86.3" r="0.91" fill="#cbcbcb"/>
<circle cx="54.3" cy="152.3" r="0.97" fill="#cbcbcb"/>
<circle cx="97.9" cy="160.4" r="1.38" fill="#cbcbcb"/>
<circle cx="111.4" cy="150.0" r="0.67" fill="#cbcbcb"/>
<circle cx="46.7" cy="112.0" r="0.92" fill="#cbcbcb"/>
<circle cx="155.4" cy="118.0" r="1.02" fill="#cbcbcb"/>
<circle cx="77.0" cy="115.6" r="2.26" fill="#cbcbcb"/>
<circle cx="64.3" cy="119.4" r="1.10" fill="#cbcbcb"/>
<circle cx="120.1" cy="93.9" r="0.85" fill="#cbcbcb"/>
<circle cx="22.4" cy="104.6" r="0.94" fill="#cbcbcb"/>
<circle cx="65.6" cy="137.3" r="0.64" fill="#cbcbcb"/>
<circle cx="40.9" cy="136.2" r="0.84" fill="#cbcbcb"/>
<circle cx="114.3" cy="147.8" r="1.09" fill="#cbcbcb"/>
<circle cx="57.6" cy="120.8" r="0.62" fill="#cbcbcb"/>
<circle cx="63.1" cy="68.1" r="0.78" fill="#cbcbcb"/>
<circle cx="45.8" cy="127.7" r="0.72" fill="#cbcbcb"/>
<circle cx="120.4" cy="116.6" r="0.68" fill="#cbcbcb"/>
<circle cx="116.1" cy="83.9" r="1.41" fill="#cbcbcb"/>
<circle cx="82.1" cy="139.1" r="0.98" fill="#cbcbcb"/>
<circle cx="54.5" cy="139.0" r="1.12" fill="#cbcbcb"/>
<circle cx="92.0" cy="150.3" r="1.13" fill="#cbcbcb"/>
<circle cx="105.2" cy="125.0" r="0.96" fill="#cbcbcb"/>
<circle cx="123.2" cy="115.2" r="0.91" fill="#cbcbcb"/>
<circle cx="75.8" cy="121.2" r="0.90" fill="#cbcbcb"/>
<circle cx="111.6" cy="119.7" r="0.78" fill="#cbcbcb"/>
<circle cx="144.7" cy="118.3" r="0.90" fill="#cbcbcb"/>
<circle cx="103.8" cy="96.6" r="0.71" fill="#cbcbcb"/>
<circle cx="102.0" cy="101.4" r="1.04" fill="#cbcbcb"/>
<circle cx="157.1" cy="149.9" r="0.75" fill="#cbcbcb"/>
<circle cx="84.9" cy="92.2" r="0.76" fill="#cbcbcb"/>
<circle cx="39.7" cy="131.0" r="0.65" fill="#cbcbcb"/>
<circle cx="114.2" cy="143.9" r="0.88" fill="#cbcbcb"/>
<circle cx="66.8" cy="116.6" r="1.09" fill="#cbcbcb"/>
<circle cx="155.5" cy="132.0" r="0.65" fill="#cbcbcb"/>
<circle cx="58.8" cy="124.3" r="1.35" fill="#cbcbcb"/>
<circle cx="18.7" cy="104.8" r="0.70" fill="#cbcbcb"/>
<circle cx="93.5" cy="161.4" r="0.67" fill="#cbcbcb"/>
<circle cx="62.3" cy="80.6" r="1.08" fill="#cbcbcb"/>
<circle cx="140.8" cy="138.9" r="1.04" fill="#cbcbcb"/>
<circle cx="100.7" cy="147.2" r="0.90" fill="#cbcbcb"/>
<circle cx="134.1" cy="134.8" r="0.61" fill="#cbcbcb"/>
<circle cx="84.0" cy="145.7" r="1.01" fill="#cbcbcb"/>
<circle cx="90.9" cy="123.5" r="0.66" fill="#cbcbcb"/>
<circle cx="44.5" cy="108.7" r="0.65" fill="#cbcbcb"/>
<circle cx="79.0" cy="112.5" r="0.79" fill="#cbcbcb"/>
<circle cx="123.5" cy="105.2" r="0.96" fill="#cbcbcb"/>
<circle cx="73.0" cy="74.5" r="0.62" fill="#cbcbcb"/>
<circle cx="90.3" cy="108.5" r="0.70" fill="#cbcbcb"/>
<circle cx="54.4" cy="165.8" r="0.96" fill="#cbcbcb"/>
<circle cx="106.2" cy="148.6" r="0.63" fill="#cbcbcb"/>
<circle cx="95.7" cy="71.7" r="0.71" fill="#cbcbcb"/>
<circle cx="160.0" cy="127.6" r="0.61" fill="#cbcbcb"/>
<circle cx="116.2" cy="88.7" r="0.77" fill="#cbcbcb"/>
<circle cx="117.9" cy="101.5" r="0.76" fill="#cbcbcb"/>
<circle cx="26.9" cy="125.4" r="0.71" fill="#cbcbcb"/>
<circle cx="34.2" cy="145.9" r="1.08" fill="#cbcbcb"/>
<circle cx="140.8" cy="141.5" r="0.89" fill="#cbcbcb"/>
<circle cx="67.5" cy="77.6" r="0.88" fill="#cbcbcb"/>
<circle cx="85.7" cy="102.4" r="0.82" fill="#cbcbcb"/>
<circle cx="49.5" cy="148.2" r="0.91" fill="#cbcbcb"/>
<circle cx="115.4" cy="161.6" r="0.66" fill="#cbcbcb"/>
<circle cx="59.3" cy="118.6" r="0.88" fill="#cbcbcb"/>
<circle cx="115.2" cy="43.0" r="1.26" fill="#cbcbcb"/>
<circle cx="38.9" cy="116.4" r="0.88" fill="#cbcbcb"/>
<circle cx="104.1" cy="147.3" r="0.75" fill="#cbcbcb"/>
<circle cx="16.3" cy="104.2" r="1.16" fill="#cbcbcb"/>
<circle cx="58.1" cy="48.5" r="0.63" fill="#cbcbcb"/>
<circle cx="104.6" cy="103.3" r="0.75" fill="#cbcbcb"/>
<circle cx="120.0" cy="126.4" r="0.89" fill="#cbcbcb"/>
<circle cx="55.7" cy="88.8" r="0.89" fill="#cbcbcb"/>
<circle cx="125.6" cy="129.0" r="0.67" fill="#cbcbcb"/>
<circle cx="32.0" cy="146.6" r="0.61" fill="#cbcbcb"/>
<circle cx="145.2" cy="144.8" r="0.65" fill="#cbcbcb"/>
<circle cx="124.9" cy="106.9" r="0.72" fill="#cbcbcb"/>
<circle cx="125.8" cy="130.8" r="0.61" fill="#cbcbcb"/>
<circle cx="127.5" cy="136.0" r="1.15" fill="#cbcbcb"/>
<circle cx="163.8" cy="144.6" r="0.83" fill="#cbcbcb"/>
<circle cx="114.4" cy="65.3" r="0.66" fill="#cbcbcb"/>
<circle cx="64.8" cy="177.9" r="0.71" fill="#cbcbcb"/>
<circle cx="133.6" cy="122.4" r="1.13" fill="#cbcbcb"/>
<circle cx="91.3" cy="153.4" r="0.88" fill="#cbcbcb"/>
<circle cx="95.4" cy="73.9" r="0.62" fill="#cbcbcb"/>
<circle cx="113.9" cy="141.1" r="0.92" fill="#cbcbcb"/>
<circle cx="57.4" cy="171.6" r="0.84" fill="#cbcbcb"/>
<circle cx="48.3" cy="104.6" r="0.66" fill="#cbcbcb"/>
<circle cx="69.7" cy="138.2" r="1.01" fill="#cbcbcb"/>
<circle cx="36.5" cy="141.5" r="0.65" fill="#cbcbcb"/>
<circle cx="72.4" cy="122.8" r="0.87" fill="#cbcbcb"/>
<circle cx="90.8" cy="84.6" r="0.79" fill="#cbcbcb"/>
<circle cx="65.4" cy="121.7" r="0.72" fill="#cbcbcb"/>
<circle cx="123.6" cy="124.9" r="0.67" fill="#cbcbcb"/>
<circle cx="90.8" cy="159.6" r="1.23" fill="#cbcbcb"/>
<circle cx="62.9" cy="175.8" r="0.79" fill="#cbcbcb"/>
<circle cx="117.9" cy="152.1" r="1.73" fill="#cbcbcb"/>
<circle cx="22.0" cy="89.6" r="0.62" fill="#cbcbcb"/>
<circle cx="74.2" cy="66.6" r="0.71" fill="#cbcbcb"/>
<circle cx="115.4" cy="86.8" r="0.71" fill="#cbcbcb"/>
<circle cx="43.0" cy="99.6" r="1.00" fill="#cbcbcb"/>
<circle cx="78.9" cy="143.0" r="0.68" fill="#cbcbcb"/>
<circle cx="97.5" cy="111.5" r="0.93" fill="#cbcbcb"/>
<circle cx="100.3" cy="106.5" r="0.72" fill="#cbcbcb"/>
<circle cx="107.5" cy="127.9" r="0.80" fill="#cbcbcb"/>
<circle cx="29.3" cy="123.8" r="1.05" fill="#cbcbcb"/>
<circle cx="98.7" cy="167.7" r="0.92" fill="#cbcbcb"/>
<circle cx="71.9" cy="178.7" r="0.97" fill="#cbcbcb"/>
<circle cx="162.0" cy="122.6" r="0.68" fill="#cbcbcb"/>
<circle cx="54.6" cy="134.2" r="0.60" fill="#cbcbcb"/>
<circle cx="125.9" cy="104.4" r="1.00" fill="#cbcbcb"/>
<circle cx="107.4" cy="122.8" r="0.67" fill="#cbcbcb"/>
<circle cx="98.8" cy="127.0" r="0.84" fill="#cbcbcb"/>
<circle cx="135.6" cy="124.2" r="0.66" fill="#cbcbcb"/>
<circle cx="155.2" cy="148.8" r="0.64" fill="#cbcbcb"/>
<circle cx="56.5" cy="150.0" r="0.78" fill="#cbcbcb"/>
<circle cx="57.2" cy="87.2" r="0.81" fill="#cbcbcb"/>
<circle cx="26.3" cy="148.9" r="0.70" fill="#cbcbcb"/>
<circle cx="92.8" cy="70.3" r="0.99" fill="#cbcbcb"/>
<circle cx="54.8" cy="141.7" r="0.95" fill="#cbcbcb"/>
<circle cx="59.3" cy="134.8" r="0.89" fill="#cbcbcb"/>
<circle cx="67.4" cy="80.9" r="0.74" fill="#cbcbcb"/>
<circle cx="132.3" cy="131.7" r="0.85" fill="#cbcbcb"/>
<circle cx="94.2" cy="149.5" r="0.64" fill="#cbcbcb"/>
<circle cx="42.0" cy="133.8" r="0.92" fill="#cbcbcb"/>
<circle cx="36.7" cy="146.1" r="0.86" fill="#cbcbcb"/>
<circle cx="64.4" cy="82.5" r="0.83" fill="#cbcbcb"/>
<circle cx="63.4" cy="41.1" r="0.61" fill="#cbcbcb"/>
<circle cx="94.7" cy="152.3" r="0.85" fill="#cbcbcb"/>
<circle cx="121.8" cy="135.7" r="0.71" fill="#cbcbcb"/>
<circle cx="118.4" cy="142.1" r="0.63" fill="#cbcbcb"/>
<circle cx="68.7" cy="61.0" r="0.84" fill="#cbcbcb"/>
<circle cx="72.5" cy="83.3" r="1.05" fill="#cbcbcb"/>
<circle cx="77.6" cy="69.7" r="0.77" fill="#cbcbcb"/>
<circle cx="78.6" cy="140.4" r="0.93" fill="#cbcbcb"/>
<circle cx="85.5" cy="86.5" r="0.64" fill="#cbcbcb"/>
<circle cx="47.1" cy="129.7" r="0.97" fill="#cbcbcb"/>
<circle cx="107.5" cy="125.4" r="0.72" fill="#cbcbcb"/>
<circle cx="90.2" cy="81.5" r="0.70" fill="#cbcbcb"/>
<circle cx="98.7" cy="105.5" r="0.71" fill="#cbcbcb"/>
<circle cx="118.6" cy="67.6" r="0.63" fill="#cbcbcb"/>
<circle cx="135.1" cy="144.5" r="0.80" fill="#cbcbcb"/>
<circle cx="71.6" cy="141.7" r="0.67" fill="#cbcbcb"/>
<circle cx="80.8" cy="141.1" r="0.83" fill="#cbcbcb"/>
<circle cx="122.5" cy="103.2" r="0.61" fill="#cbcbcb"/>
<circle cx="158.4" cy="136.2" r="0.69" fill="#cbcbcb"/>
<circle cx="54.4" cy="90.8" r="0.74" fill="#cbcbcb"/>
<circle cx="100.1" cy="103.6" r="0.94" fill="#cbcbcb"/>
<circle cx="138.6" cy="139.5" r="0.62" fill="#cbcbcb"/>
<circle cx="92.7" cy="105.0" r="0.64" fill="#cbcbcb"/>
<circle cx="85.9" cy="127.4" r="0.88" fill="#cbcbcb"/>
<circle cx="102.7" cy="82.6" r="0.63" fill="#cbcbcb"/>
<circle cx="95.7" cy="97.4" r="0.62" fill="#cbcbcb"/>
<circle cx="42.5" cy="130.7" r="1.11" fill="#cbcbcb"/>
<circle cx="113.0" cy="105.8" r="0.72" fill="#cbcbcb"/>
<circle cx="67.7" cy="141.7" r="0.88" fill="#cbcbcb"/>
<circle cx="77.2" cy="142.3" r="0.61" fill="#cbcbcb"/>
<circle cx="96.8" cy="136.1" r="0.66" fill="#cbcbcb"/>
<circle cx="59.1" cy="173.0" r="0.63" fill="#cbcbcb"/>
<circle cx="133.4" cy="114.0" r="0.64" fill="#cbcbcb"/>
<circle cx="61.0" cy="140.5" r="0.81" fill="#cbcbcb"/>
<circle cx="113.4" cy="84.8" r="0.73" fill="#cbcbcb"/>
<circle cx="96.3" cy="121.7" r="0.67" fill="#cbcbcb"/>
<circle cx="83.8" cy="85.1" r="0.94" fill="#cbcbcb"/>
<circle cx="53.3" cy="132.5" r="0.62" fill="#cbcbcb"/>
<circle cx="116.1" cy="149.7" r="0.73" fill="#cbcbcb"/>
<circle cx="73.6" cy="115.8" r="0.62" fill="#cbcbcb"/>
<circle cx="114.4" cy="50.0" r="0.74" fill="#cbcbcb"/>
<circle cx="55.5" cy="110.6" r="1.02" fill="#cbcbcb"/>
<circle cx="85.8" cy="172.2" r="0.88" fill="#cbcbcb"/>
<circle cx="105.4" cy="109.0" r="0.95" fill="#cbcbcb"/>
<circle cx="112.5" cy="63.0" r="0.74" fill="#cbcbcb"/>
<circle cx="92.5" cy="86.3" r="1.02" fill="#cbcbcb"/>
<circle cx="24.2" cy="147.7" r="0.65" fill="#cbcbcb"/>
<circle cx="65.4" cy="56.0" r="0.97" fill="#cbcbcb"/>
<circle cx="121.1" cy="118.6" r="0.81" fill="#cbcbcb"/>
<circle cx="66.5" cy="186.9" r="0.60" fill="#cbcbcb"/>
<circle cx="168.1" cy="113.8" r="0.70" fill="#cbcbcb"/>
<circle cx="99.8" cy="75.4" r="0.88" fill="#cbcbcb"/>
<circle cx="24.9" cy="125.4" r="0.68" fill="#cbcbcb"/>
<circle cx="46.6" cy="168.8" r="1.02" fill="#cbcbcb"/>
<circle cx="111.4" cy="95.8" r="0.67" fill="#cbcbcb"/>
<circle cx="84.9" cy="105.1" r="0.78" fill="#cbcbcb"/>
<circle cx="110.7" cy="104.0" r="0.65" fill="#cbcbcb"/>
<circle cx="32.9" cy="117.7" r="0.61" fill="#cbcbcb"/>
<circle cx="124.4" cy="135.6" r="0.65" fill="#cbcbcb"/>
<circle cx="86.7" cy="144.6" r="0.62" fill="#cbcbcb"/>
<circle cx="129.7" cy="132.4" r="0.62" fill="#cbcbcb"/>
<circle cx="111.4" cy="117.7" r="0.71" fill="#cbcbcb"/>
<circle cx="49.6" cy="111.3" r="0.61" fill="#cbcbcb"/>
<circle cx="84.7" cy="80.7" r="0.70" fill="#cbcbcb"/>
<circle cx="146.8" cy="118.0" r="0.69" fill="#cbcbcb"/>
<circle cx="116.4" cy="73.2" r="0.78" fill="#cbcbcb"/>
<circle cx="161.9" cy="117.5" r="0.72" fill="#cbcbcb"/>
<circle cx="57.2" cy="138.5" r="0.62" fill="#cbcbcb"/>
<circle cx="49.8" cy="150.5" r="0.70" fill="#cbcbcb"/>
<circle cx="156.7" cy="119.9" r="0.74" fill="#cbcbcb"/>
<circle cx="120.7" cy="61.6" r="0.67" fill="#cbcbcb"/>
<circle cx="47.3" cy="142.3" r="0.72" fill="#cbcbcb"/>
<circle cx="96.0" cy="168.5" r="0.70" fill="#cbcbcb"/>
<circle cx="98.3" cy="93.7" r="0.70" fill="#cbcbcb"/>
<circle cx="52.5" cy="129.5" r="0.76" fill="#cbcbcb"/>
<circle cx="59.5" cy="145.1" r="0.69" fill="#cbcbcb"/>
<circle cx="50.2" cy="101.6" r="0.91" fill="#cbcbcb"/>
<circle cx="15.4" cy="111.8" r="0.74" fill="#cbcbcb"/>
<circle cx="78.4" cy="176.9" r="0.60" fill="#cbcbcb"/>
<circle cx="145.4" cy="115.2" r="0.68" fill="#cbcbcb"/>
<circle cx="119.8" cy="128.5" r="0.67" fill="#cbcbcb"/>
<circle cx="93.8" cy="169.3" r="0.67" fill="#cbcbcb"/>
<circle cx="54.5" cy="117.6" r="0.65" fill="#cbcbcb"/>
<circle cx="114.4" cy="164.4" r="0.70" fill="#cbcbcb"/>
<circle cx="80.1" cy="117.6" r="0.60" fill="#cbcbcb"/>
<circle cx="45.2" cy="160.3" r="0.61" fill="#cbcbcb"/>
<circle cx="98.6" cy="143.8" r="0.84" fill="#cbcbcb"/>
<circle cx="36.1" cy="131.1" r="0.74" fill="#cbcbcb"/>
<circle cx="115.0" cy="138.5" r="0.61" fill="#cbcbcb"/>
<circle cx="55.4" cy="122.5" r="0.72" fill="#cbcbcb"/>
<circle cx="117.7" cy="86.0" r="0.69" fill="#cbcbcb"/>
<circle cx="89.0" cy="79.6" r="0.69" fill="#cbcbcb"/>
<circle cx="100.5" cy="136.1" r="0.76" fill="#cbcbcb"/>
<circle cx="113.1" cy="103.1" r="0.63" fill="#cbcbcb"/>
<circle cx="108.8" cy="81.3" r="0.62" fill="#cbcbcb"/>
<circle cx="147.5" cy="116.3" r="0.61" fill="#cbcbcb"/>
<circle cx="90.2" cy="113.4" r="1.05" fill="#cbcbcb"/>
<circle cx="133.4" cy="116.3" r="1.06" fill="#cbcbcb"/>
<circle cx="115.0" cy="102.7" r="0.69" fill="#cbcbcb"/>
<circle cx="74.6" cy="127.1" r="0.65" fill="#cbcbcb"/>
<circle cx="84.5" cy="109.0" r="0.77" fill="#cbcbcb"/>
<circle cx="127.3" cy="127.9" r="0.77" fill="#cbcbcb"/>
<circle cx="142.2" cy="144.0" r="0.61" fill="#cbcbcb"/>
<circle cx="55.6" cy="129.4" r="0.69" fill="#cbcbcb"/>
<circle cx="52.5" cy="91.3" r="0.63" fill="#cbcbcb"/>
<circle cx="63.4" cy="49.1" r="0.68" fill="#cbcbcb"/>
<circle cx="100.5" cy="68.0" r="0.60" fill="#cbcbcb"/>
<circle cx="102.5" cy="140.5" r="0.67" fill="#cbcbcb"/>
<circle cx="170.7" cy="119.2" r="1.16" fill="#cbcbcb"/>
<circle cx="119.7" cy="136.9" r="0.60" fill="#cbcbcb"/>
<circle cx="82.7" cy="174.7" r="0.75" fill="#cbcbcb"/>
<circle cx="161.9" cy="130.2" r="0.68" fill="#cbcbcb"/>
<circle cx="121.3" cy="130.8" r="0.73" fill="#cbcbcb"/>
<circle cx="98.3" cy="150.6" r="0.73" fill="#cbcbcb"/>
<circle cx="119.0" cy="121.8" r="0.88" fill="#cbcbcb"/>
<circle cx="145.3" cy="138.0" r="0.75" fill="#cbcbcb"/>
<circle cx="65.8" cy="142.4" r="0.68" fill="#cbcbcb"/>
<circle cx="74.9" cy="82.2" r="0.67" fill="#cbcbcb"/>
<circle cx="96.7" cy="106.4" r="0.71" fill="#cbcbcb"/>
<circle cx="160.2" cy="123.0" r="0.65" fill="#cbcbcb"/>
<circle cx="30.2" cy="110.4" r="0.78" fill="#cbcbcb"/>
<circle cx="81.4" cy="136.1" r="0.74" fill="#cbcbcb"/>
<circle cx="69.5" cy="77.1" r="0.71" fill="#cbcbcb"/>
<circle cx="143.5" cy="138.7" r="0.63" fill="#cbcbcb"/>
<circle cx="42.7" cy="118.2" r="0.62" fill="#cbcbcb"/>
<circle cx="74.8" cy="84.5" r="0.66" fill="#cbcbcb"/>
<circle cx="88.9" cy="90.1" r="0.86" fill="#cbcbcb"/>
<circle cx="116.6" cy="155.2" r="0.60" fill="#cbcbcb"/>
<circle cx="16.2" cy="130.5" r="0.63" fill="#cbcbcb"/>
<circle cx="121.8" cy="96.8" r="0.63" fill="#cbcbcb"/>
<circle cx="106.6" cy="146.3" r="0.80" fill="#cbcbcb"/>
<circle cx="98.6" cy="122.8" r="0.63" fill="#cbcbcb"/>
<circle cx="99.5" cy="169.7" r="0.67" fill="#cbcbcb"/>
<circle cx="89.0" cy="70.4" r="0.68" fill="#cbcbcb"/>
<circle cx="64.7" cy="133.4" r="0.87" fill="#cbcbcb"/>
<circle cx="138.8" cy="114.0" r="0.62" fill="#cbcbcb"/>
<circle cx="38.6" cy="95.3" r="0.63" fill="#cbcbcb"/>
<circle cx="70.1" cy="140.7" r="0.61" fill="#cbcbcb"/>
<circle cx="168.4" cy="120.7" r="0.84" fill="#cbcbcb"/>
<circle cx="45.0" cy="130.4" r="0.73" fill="#cbcbcb"/>
<circle cx="57.1" cy="119.0" r="0.66" fill="#cbcbcb"/>
<circle cx="157.6" cy="147.9" r="0.63" fill="#cbcbcb"/>
<circle cx="74.2" cy="134.1" r="0.75" fill="#cbcbcb"/>
<circle cx="45.0" cy="153.1" r="0.88" fill="#cbcbcb"/>
<circle cx="113.0" cy="145.9" r="0.65" fill="#cbcbcb"/>
<circle cx="99.8" cy="82.6" r="0.60" fill="#cbcbcb"/>
<circle cx="62.7" cy="59.8" r="0.89" fill="#cbcbcb"/>
<circle cx="89.0" cy="140.6" r="0.80" fill="#cbcbcb"/>
<circle cx="161.9" cy="145.5" r="0.68" fill="#cbcbcb"/>
<circle cx="114.1" cy="75.3" r="0.89" fill="#cbcbcb"/>
<circle cx="118.9" cy="62.3" r="0.73" fill="#cbcbcb"/>
<circle cx="123.2" cy="137.0" r="0.63" fill="#cbcbcb"/>
<circle cx="85.7" cy="107.3" r="0.71" fill="#cbcbcb"/>
<circle cx="52.2" cy="96.7" r="0.67" fill="#cbcbcb"/>
<circle cx="98.5" cy="165.5" r="0.61" fill="#cbcbcb"/>
<circle cx="131.0" cy="122.8" r="0.77" fill="#cbcbcb"/>
<circle cx="108.2" cy="62.1" r="0.72" fill="#cbcbcb"/>
<circle cx="80.5" cy="176.0" r="0.67" fill="#cbcbcb"/>
<circle cx="114.5" cy="63.1" r="0.65" fill="#cbcbcb"/>
<circle cx="34.8" cy="98.4" r="0.82" fill="#cbcbcb"/>
<circle cx="66.6" cy="177.2" r="0.61" fill="#cbcbcb"/>
<circle cx="31.6" cy="101.0" r="0.61" fill="#cbcbcb"/>
<circle cx="120.9" cy="109.4" r="0.60" fill="#cbcbcb"/>
<circle cx="105.3" cy="77.3" r="0.61" fill="#cbcbcb"/>
<circle cx="64.4" cy="185.9" r="0.81" fill="#cbcbcb"/>
<circle cx="106.3" cy="92.3" r="0.63" fill="#cbcbcb"/>
<circle cx="68.7" cy="63.8" r="0.62" fill="#cbcbcb"/>
<circle cx="68.7" cy="79.4" r="0.64" fill="#cbcbcb"/>
<circle cx="69.2" cy="131.9" r="0.65" fill="#cbcbcb"/>
<circle cx="94.1" cy="72.7" r="0.63" fill="#cbcbcb"/>
<circle cx="37.5" cy="144.3" r="0.63" fill="#cbcbcb"/>
<circle cx="112.4" cy="76.5" r="0.67" fill="#cbcbcb"/>
<circle cx="98.5" cy="96.8" r="0.64" fill="#cbcbcb"/>
<circle cx="45.5" cy="157.9" r="0.61" fill="#cbcbcb"/>
<circle cx="63.4" cy="137.4" r="0.65" fill="#cbcbcb"/>
<circle cx="61.7" cy="119.1" r="0.67" fill="#cbcbcb"/>
<circle cx="88.7" cy="101.1" r="0.64" fill="#cbcbcb"/>
<circle cx="46.9" cy="159.7" r="0.68" fill="#cbcbcb"/>
<circle cx="61.3" cy="114.7" r="0.63" fill="#cbcbcb"/>
<circle cx="101.0" cy="73.4" r="0.61" fill="#cbcbcb"/>
<circle cx="125.9" cy="122.1" r="0.74" fill="#cbcbcb"/>
<circle cx="71.1" cy="189.3" r="0.72" fill="#cbcbcb"/>
<circle cx="39.0" cy="113.7" r="0.64" fill="#cbcbcb"/>
<circle cx="98.0" cy="107.7" r="0.62" fill="#cbcbcb"/>
<circle cx="57.1" cy="173.9" r="0.89" fill="#cbcbcb"/>
<circle cx="116.8" cy="81.3" r="0.65" fill="#cbcbcb"/>
<circle cx="46.0" cy="95.1" r="0.62" fill="#cbcbcb"/>
<circle cx="91.8" cy="75.6" r="0.67" fill="#cbcbcb"/>
<circle cx="45.0" cy="167.3" r="0.60" fill="#cbcbcb"/>
<circle cx="79.6" cy="73.8" r="0.64" fill="#cbcbcb"/>
<circle cx="134.2" cy="128.6" r="0.62" fill="#cbcbcb"/>
<circle cx="131.1" cy="142.5" r="0.64" fill="#cbcbcb"/>
<circle cx="71.8" cy="115.9" r="0.63" fill="#cbcbcb"/>
<circle cx="113.6" cy="160.1" r="0.61" fill="#cbcbcb"/>
<circle cx="94.1" cy="87.8" r="0.60" fill="#cbcbcb"/>
<circle cx="113.3" cy="117.5" r="0.61" fill="#cbcbcb"/>
<circle cx="80.8" cy="111.7" r="0.66" fill="#cbcbcb"/>
<circle cx="154.2" cy="116.2" r="0.63" fill="#cbcbcb"/>
<circle cx="121.7" cy="133.1" r="0.62" fill="#cbcbcb"/>
<circle cx="53.8" cy="161.4" r="0.65" fill="#cbcbcb"/>
<text x="154.7" y="78.5" font-size="14" text-anchor="middle" font-weight="bold" fill="#2b2b2b" >BA.5.2.1</text>
<text x="88.7" y="44.7" font-size="8.4" text-anchor="middle" font-weight="bold" fill="#2b2b2b" >BA.2.12.1</text>
<text x="39.2" y="72.3" font-size="13.4" text-anchor="middle" font-weight="bold" fill="#2b2b2b" >BA.2</text>
<text x="140.5" y="171.3" font-size="8.9" text-anchor="middle" font-weight="bold" fill="#2b2b2b" >BA.5.1.10</text>
<text x="96.0" y="187.8" font-size="10.8" text-anchor="middle" font-weight="bold" fill="#2b2b2b" >BA.2</text>
<text x="175.4" y="134.5" font-size="6" text-anchor="middle" font-weight="bold" fill="#2b2b2b" >BA.4.1</text>
<text x="26.0" y="138.1" font-size="4.2" text-anchor="middle" font-weight="bold" fill="#2b2b2b" >BA.2.3</text>
<text x="122.5" y="45.3" font-size="2.21" text-anchor="middle" font-weight="bold" fill="#333" >BA.5.3.1</text>
<text x="24.1" y="97.2" font-size="2.86" text-anchor="middle" font-weight="bold" fill="#333" >BA.5.3</text>
<text x="36.7" y="124.2" font-size="2.21" text-anchor="middle" font-weight="bold" fill="#333" >BA.4.1.6</text>
<text x="48.7" y="123.0" font-size="3.36" text-anchor="middle" font-weight="bold" fill="#333" >BA.2</text>
<text x="101.3" y="89.0" font-size="1.86" text-anchor="middle" font-weight="bold" fill="#333" >BA.5.1.1</text>
<text x="54.6" y="186.5" font-size="3.32" text-anchor="middle" font-weight="bold" fill="#333" >BA.5.3.1</text>
<text x="124.9" y="143.9" font-size="1.98" text-anchor="middle" font-weight="bold" fill="#333" >BA.5.3.1</text>
<text x="113.7" y="126.8" font-size="3.36" text-anchor="middle" font-weight="bold" fill="#333" >BA.2</text>
<text x="111.8" y="136.0" font-size="1.65" text-anchor="middle" font-weight="bold" fill="#333" >BA.2.3</text>
<text x="67.6" y="182.9" font-size="2.53" text-anchor="middle" font-weight="bold" fill="#333" >BA.4</text>
<text x="26.7" y="105.8" font-size="1.15" text-anchor="middle" font-weight="bold" fill="#333" >BA.5.3</text>
<text x="86.8" y="76.0" font-size="2.19" text-anchor="middle" font-weight="bold" fill="#333" >BA.2</text>
<text x="87.3" y="84.1" font-size="1.58" text-anchor="middle" font-weight="bold" fill="#333" >BA.2</text>
<text x="42.8" y="145.8" font-size="2.67" text-anchor="middle" font-weight="bold" fill="#333" >BA.2</text>
<text x="47.6" y="164.5" font-size="1.28" text-anchor="middle" font-weight="bold" fill="#333" >BA.5.16</text>
<text x="113.2" y="154.0" font-size="1.3" text-anchor="middle" font-weight="bold" fill="#333" >BA.5.2</text>
<text x="98.8" y="140.6" font-size="1.64" text-anchor="middle" font-weight="bold" fill="#333" >BA.2</text>
<text x="104.0" y="144.3" font-size="1.58" text-anchor="middle" font-weight="bold" fill="#333" >BA.2</text>
<text x="157.0" y="125.2" font-size="1.51" text-anchor="middle" font-weight="bold" fill="#333" >BA.2</text>
<circle cx="98.5" cy="336.8" r="32.30" fill="#a48cc6"/>
<circle cx="36.9" cy="380.3" r="30.70" fill="#d69fcc"/>
<circle cx="34.5" cy="439.4" r="23.50" fill="#9fb9e0"/>
<circle cx="80.0" cy="439.7" r="20.70" fill="#e99494"/>
<circle cx="158.3" cy="359.0" r="17.30" fill="#9fb9e0"/>
<circle cx="175.5" cy="393.2" r="14.10" fill="#e99494"/>
<circle cx="154.5" cy="442.1" r="25.60" fill="#cbcbcb"/>
<circle cx="91.4" cy="478.4" r="15.50" fill="#cbcbcb"/>
<circle cx="142.4" cy="379.0" r="7.70" fill="#cbcbcb"/>
<circle cx="118.6" cy="462.2" r="6.80" fill="#cbcbcb"/>
<circle cx="155.0" cy="401.0" r="7.20" fill="#e2c66f"/>
<circle cx="139.6" cy="339.0" r="5.20" fill="#e99494"/>
<circle cx="54.0" cy="464.0" r="6.30" fill="#72bfe6"/>
<circle cx="176.0" cy="412.5" r="4.60" fill="#c8a9d4"/>
<circle cx="58.9" cy="454.0" r="3.50" fill="#c8a9d4"/>
<circle cx="43.5" cy="465.3" r="2.80" fill="#a48cc6"/>
<circle cx="72.4" cy="467.0" r="4.60" fill="#e99494"/>
<circle cx="57.0" cy="345.8" r="3.90" fill="#a9bd6f"/>
<circle cx="56.4" cy="419.5" r="4.40" fill="#a9bd6f"/>
<circle cx="51.7" cy="411.6" r="3.30" fill="#e99494"/>
<circle cx="74.8" cy="383.3" r="4.30" fill="#e99494"/>
<circle cx="91.6" cy="377.3" r="3.70" fill="#e99494"/>
<circle cx="109.6" cy="378.9" r="4.20" fill="#c8a9d4"/>
<circle cx="122.5" cy="384.5" r="3.90" fill="#a9bd6f"/>
<circle cx="98.0" cy="388.7" r="3.60" fill="#a9bd6f"/>
<circle cx="128.2" cy="395.4" r="4.00" fill="#a9bd6f"/>
<circle cx="140.1" cy="391.5" r="2.90" fill="#72bfe6"/>
<circle cx="151.4" cy="386.1" r="2.30" fill="#6fcbd8"/>
<circle cx="108.4" cy="389.0" r="2.40" fill="#d69fcc"/>
<circle cx="118.2" cy="393.6" r="2.50" fill="#e2c66f"/>
<circle cx="134.5" cy="367.0" r="2.30" fill="#d69fcc"/>
<circle cx="113.2" cy="401.6" r="3.70" fill="#a9a9a9"/>
<circle cx="104.6" cy="406.9" r="3.40" fill="#7fd08f"/>
<circle cx="108.5" cy="413.8" r="3.00" fill="#c8a9d4"/>
<circle cx="97.0" cy="413.1" r="3.00" fill="#e99494"/>
<circle cx="86.2" cy="399.2" r="2.30" fill="#7fd08f"/>
<circle cx="87.5" cy="405.3" r="2.40" fill="#d69fcc"/>
<circle cx="80.8" cy="409.8" r="2.80" fill="#a9bd6f"/>
<circle cx="75.3" cy="407.0" r="2.40" fill="#e99494"/>
<circle cx="98.8" cy="402.3" r="2.20" fill="#7fd08f"/>
<circle cx="126.0" cy="404.0" r="2.40" fill="#e99494"/>
<circle cx="139.4" cy="402.0" r="2.80" fill="#e99494"/>
<circle cx="133.3" cy="404.9" r="2.30" fill="#a48cc6"/>
<circle cx="142.8" cy="414.2" r="3.00" fill="#a9bd6f"/>
<circle cx="152.7" cy="412.7" r="2.40" fill="#e99494"/>
<circle cx="118.3" cy="417.4" r="2.60" fill="#7fd08f"/>
<circle cx="109.7" cy="427.9" r="2.50" fill="#72bfe6"/>
<circle cx="114.9" cy="425.6" r="2.00" fill="#e99494"/>
<circle cx="124.1" cy="424.5" r="5.20" fill="#e99494"/>
<circle cx="123.7" cy="434.1" r="3.00" fill="#e99494"/>
<circle cx="113.0" cy="441.3" r="2.20" fill="#e09a6c"/>
<circle cx="119.3" cy="438.5" r="2.00" fill="#e09a6c"/>
<circle cx="109.7" cy="446.1" r="2.30" fill="#d69fcc"/>
<circle cx="123.1" cy="446.4" r="4.20" fill="#e99494"/>
<circle cx="98.5" cy="458.8" r="3.70" fill="#e09a6c"/>
<circle cx="106.9" cy="458.5" r="3.60" fill="#7fd08f"/>
<circle cx="108.0" cy="466.4" r="3.70" fill="#a48cc6"/>
<circle cx="114.7" cy="474.1" r="5.00" fill="#e99494"/>
<circle cx="123.7" cy="480.6" r="5.40" fill="#a9bd6f"/>
<circle cx="124.4" cy="471.5" r="3.00" fill="#e99494"/>
<circle cx="148.6" cy="471.4" r="3.00" fill="#e99494"/>
<circle cx="134.0" cy="389.6" r="2.20" fill="#e99494"/>
<circle cx="76.8" cy="414.3" r="1.60" fill="#7fd08f"/>
<circle cx="101.5" cy="427.5" r="1.80" fill="#e99494"/>
<circle cx="69.3" cy="361.0" r="4.40" fill="#cbcbcb"/>
<circle cx="63.2" cy="351.4" r="2.60" fill="#cbcbcb"/>
<circle cx="136.1" cy="352.3" r="4.20" fill="#cbcbcb"/>
<circle cx="120.4" cy="366.3" r="3.40" fill="#cbcbcb"/>
<circle cx="80.0" cy="376.0" r="3.50" fill="#cbcbcb"/>
<circle cx="87.5" cy="385.3" r="3.50" fill="#cbcbcb"/>
<circle cx="93.9" cy="396.3" r="3.60" fill="#cbcbcb"/>
<circle cx="131.6" cy="372.7" r="3.00" fill="#cbcbcb"/>
<circle cx="108.0" cy="371.6" r="2.40" fill="#cbcbcb"/>
<circle cx="165.3" cy="377.8" r="2.10" fill="#cbcbcb"/>
<circle cx="157.7" cy="383.3" r="2.40" fill="#cbcbcb"/>
<circle cx="157.6" cy="388.3" r="2.40" fill="#cbcbcb"/>
<circle cx="133.3" cy="480.0" r="3.00" fill="#cbcbcb"/>
<circle cx="132.6" cy="472.7" r="3.50" fill="#cbcbcb"/>
<circle cx="140.9" cy="470.3" r="3.20" fill="#cbcbcb"/>
<circle cx="135.8" cy="465.4" r="2.60" fill="#cbcbcb"/>
<circle cx="110.9" cy="484.2" r="3.90" fill="#cbcbcb"/>
<circle cx="65.0" cy="471.5" r="2.70" fill="#cbcbcb"/>
<circle cx="64.2" cy="464.9" r="2.80" fill="#cbcbcb"/>
<circle cx="79.3" cy="463.7" r="2.00" fill="#cbcbcb"/>
<circle cx="65.0" cy="417.4" r="3.50" fill="#cbcbcb"/>
<circle cx="64.4" cy="401.0" r="2.70" fill="#cbcbcb"/>
<circle cx="94.0" cy="406.5" r="3.00" fill="#cbcbcb"/>
<circle cx="126.0" cy="410.3" r="2.70" fill="#cbcbcb"/>
<circle cx="117.4" cy="432.7" r="2.30" fill="#cbcbcb"/>
<circle cx="104.9" cy="437.9" r="2.40" fill="#cbcbcb"/>
<circle cx="137.3" cy="410.8" r="2.40" fill="#cbcbcb"/>
<circle cx="145.9" cy="407.2" r="2.50" fill="#cbcbcb"/>
<circle cx="165.5" cy="411.3" r="2.00" fill="#cbcbcb"/>
<circle cx="131.8" cy="358.7" r="2.60" fill="#cbcbcb"/>
<circle cx="61.1" cy="410.4" r="2.50" fill="#cbcbcb"/>
<circle cx="58.8" cy="427.6" r="2.50" fill="#cbcbcb"/>
<circle cx="71.8" cy="416.3" r="2.40" fill="#cbcbcb"/>
<circle cx="85.4" cy="413.5" r="2.40" fill="#cbcbcb"/>
<circle cx="93.3" cy="418.5" r="2.00" fill="#cbcbcb"/>
<circle cx="77.9" cy="365.8" r="2.20" fill="#cbcbcb"/>
<circle cx="82.1" cy="391.6" r="2.30" fill="#cbcbcb"/>
<circle cx="77.2" cy="397.8" r="2.50" fill="#cbcbcb"/>
<circle cx="118.3" cy="408.3" r="2.60" fill="#cbcbcb"/>
<circle cx="116.9" cy="373.4" r="2.60" fill="#cbcbcb"/>
<circle cx="98.1" cy="373.2" r="2.30" fill="#cbcbcb"/>
<circle cx="126.4" cy="373.4" r="2.30" fill="#cbcbcb"/>
<circle cx="86.9" cy="413.2" r="2.50" fill="#cbcbcb"/>
<circle cx="77.9" cy="416.0" r="2.50" fill="#cbcbcb"/>
<circle cx="123.5" cy="401.2" r="0.80" fill="#cbcbcb"/>
<circle cx="123.1" cy="438.9" r="1.24" fill="#cbcbcb"/>
<circle cx="147.1" cy="392.4" r="1.92" fill="#cbcbcb"/>
<circle cx="133.1" cy="383.6" r="0.99" fill="#cbcbcb"/>
<circle cx="106.8" cy="448.6" r="0.94" fill="#cbcbcb"/>
<circle cx="67.6" cy="351.4" r="1.00" fill="#cbcbcb"/>
<circle cx="86.6" cy="392.5" r="1.32" fill="#cbcbcb"/>
<circle cx="129.0" cy="386.5" r="1.89" fill="#cbcbcb"/>
<circle cx="93.2" cy="459.5" r="1.07" fill="#cbcbcb"/>
<circle cx="136.0" cy="360.9" r="1.62" fill="#cbcbcb"/>
<circle cx="137.2" cy="419.8" r="1.88" fill="#cbcbcb"/>
<circle cx="81.1" cy="384.5" r="1.44" fill="#cbcbcb"/>
<circle cx="88.1" cy="395.4" r="1.37" fill="#cbcbcb"/>
<circle cx="155.1" cy="409.9" r="0.74" fill="#cbcbcb"/>
<circle cx="119.8" cy="404.2" r="1.23" fill="#cbcbcb"/>
<circle cx="153.8" cy="377.4" r="1.07" fill="#cbcbcb"/>
<circle cx="60.7" cy="467.8" r="0.84" fill="#cbcbcb"/>
<circle cx="144.1" cy="396.7" r="2.17" fill="#cbcbcb"/>
<circle cx="100.1" cy="384.0" r="1.02" fill="#cbcbcb"/>
<circle cx="69.7" cy="398.5" r="0.95" fill="#cbcbcb"/>
<circle cx="122.9" cy="415.8" r="1.73" fill="#cbcbcb"/>
<circle cx="130.4" cy="382.8" r="1.27" fill="#cbcbcb"/>
<circle cx="109.6" cy="420.9" r="2.45" fill="#cbcbcb"/>
<circle cx="129.1" cy="415.4" r="1.29" fill="#cbcbcb"/>
<circle cx="60.2" cy="355.5" r="1.94" fill="#cbcbcb"/>
<circle cx="111.7" cy="390.6" r="0.68" fill="#cbcbcb"/>
<circle cx="74.9" cy="392.5" r="2.69" fill="#cbcbcb"/>
<circle cx="100.4" cy="410.3" r="0.83" fill="#cbcbcb"/>
<circle cx="126.0" cy="369.6" r="0.95" fill="#cbcbcb"/>
<circle cx="56.3" cy="351.7" r="1.48" fill="#cbcbcb"/>
<circle cx="122.8" cy="455.1" r="0.86" fill="#cbcbcb"/>
<circle cx="108.3" cy="434.2" r="0.98" fill="#cbcbcb"/>
<circle cx="152.0" cy="468.8" r="0.70" fill="#cbcbcb"/>
<circle cx="127.8" cy="383.3" r="0.85" fill="#cbcbcb"/>
<circle cx="71.6" cy="371.8" r="2.75" fill="#cbcbcb"/>
<circle cx="137.4" cy="478.3" r="0.91" fill="#cbcbcb"/>
<circle cx="71.6" cy="401.3" r="1.02" fill="#cbcbcb"/>
<circle cx="103.5" cy="420.2" r="0.97" fill="#cbcbcb"/>
<circle cx="136.0" cy="386.1" r="1.29" fill="#cbcbcb"/>
<circle cx="127.6" cy="365.3" r="1.10" fill="#cbcbcb"/>
<circle cx="150.4" cy="393.1" r="0.93" fill="#cbcbcb"/>
<circle cx="114.3" cy="388.3" r="1.38" fill="#cbcbcb"/>
<circle cx="120.6" cy="413.9" r="0.68" fill="#cbcbcb"/>
<circle cx="124.0" cy="398.7" r="0.78" fill="#cbcbcb"/>
<circle cx="84.9" cy="370.3" r="1.03" fill="#cbcbcb"/>
<circle cx="130.0" cy="428.2" r="1.21" fill="#cbcbcb"/>
<circle cx="109.1" cy="451.6" r="2.28" fill="#cbcbcb"/>
<circle cx="158.4" cy="415.6" r="0.66" fill="#cbcbcb"/>
<circle cx="141.5" cy="366.7" r="0.61" fill="#cbcbcb"/>
<circle cx="88.3" cy="460.2" r="0.81" fill="#cbcbcb"/>
<circle cx="101.9" cy="447.6" r="1.77" fill="#cbcbcb"/>
<circle cx="112.8" cy="417.5" r="1.63" fill="#cbcbcb"/>
<circle cx="133.3" cy="413.7" r="1.54" fill="#cbcbcb"/>
<circle cx="103.0" cy="379.8" r="1.27" fill="#cbcbcb"/>
<circle cx="66.0" cy="459.2" r="1.07" fill="#cbcbcb"/>
<circle cx="122.5" cy="373.0" r="1.08" fill="#cbcbcb"/>
<circle cx="166.1" cy="405.8" r="1.07" fill="#cbcbcb"/>
<circle cx="125.2" cy="376.9" r="0.83" fill="#cbcbcb"/>
<circle cx="117.7" cy="444.4" r="1.05" fill="#cbcbcb"/>
<circle cx="110.6" cy="435.4" r="1.09" fill="#cbcbcb"/>
<circle cx="79.5" cy="405.9" r="0.73" fill="#cbcbcb"/>
<circle cx="114.7" cy="438.0" r="0.99" fill="#cbcbcb"/>
<circle cx="80.5" cy="403.2" r="1.70" fill="#cbcbcb"/>
<circle cx="116.8" cy="389.2" r="0.80" fill="#cbcbcb"/>
<circle cx="153.9" cy="470.2" r="1.07" fill="#cbcbcb"/>
<circle cx="86.7" cy="374.3" r="1.21" fill="#cbcbcb"/>
<circle cx="130.8" cy="400.8" r="0.97" fill="#cbcbcb"/>
<circle cx="106.9" cy="489.7" r="1.38" fill="#cbcbcb"/>
<circle cx="113.0" cy="412.5" r="1.16" fill="#cbcbcb"/>
<circle cx="145.5" cy="477.8" r="2.38" fill="#cbcbcb"/>
<circle cx="106.1" cy="442.1" r="1.00" fill="#cbcbcb"/>
<circle cx="161.1" cy="407.7" r="1.36" fill="#cbcbcb"/>
<circle cx="84.7" cy="418.1" r="0.82" fill="#cbcbcb"/>
<circle cx="128.5" cy="389.8" r="0.86" fill="#cbcbcb"/>
<circle cx="67.7" cy="368.2" r="1.05" fill="#cbcbcb"/>
<circle cx="102.9" cy="432.9" r="2.26" fill="#cbcbcb"/>
<circle cx="123.6" cy="390.9" r="1.73" fill="#cbcbcb"/>
<circle cx="111.9" cy="394.4" r="1.38" fill="#cbcbcb"/>
<circle cx="61.9" cy="347.1" r="0.65" fill="#cbcbcb"/>
<circle cx="112.9" cy="368.0" r="1.48" fill="#cbcbcb"/>
<circle cx="66.1" cy="406.8" r="2.37" fill="#cbcbcb"/>
<circle cx="141.5" cy="476.4" r="1.32" fill="#cbcbcb"/>
<circle cx="125.4" cy="361.3" r="0.92" fill="#cbcbcb"/>
<circle cx="72.2" cy="376.0" r="0.94" fill="#cbcbcb"/>
<circle cx="69.9" cy="388.5" r="1.35" fill="#cbcbcb"/>
<circle cx="162.4" cy="414.1" r="1.67" fill="#cbcbcb"/>
<circle cx="128.3" cy="436.0" r="0.77" fill="#cbcbcb"/>
<circle cx="123.6" cy="358.9" r="0.63" fill="#cbcbcb"/>
<circle cx="98.2" cy="426.2" r="1.13" fill="#cbcbcb"/>
<circle cx="106.6" cy="431.2" r="1.14" fill="#cbcbcb"/>
<circle cx="126.5" cy="440.1" r="1.84" fill="#cbcbcb"/>
<circle cx="104.9" cy="445.1" r="1.53" fill="#cbcbcb"/>
<circle cx="117.4" cy="441.3" r="0.87" fill="#cbcbcb"/>
<circle cx="74.7" cy="375.9" r="1.07" fill="#cbcbcb"/>
<circle cx="102.1" cy="453.4" r="2.23" fill="#cbcbcb"/>
<circle cx="137.3" cy="405.8" r="0.94" fill="#cbcbcb"/>
<circle cx="133.0" cy="392.8" r="0.65" fill="#cbcbcb"/>
<circle cx="61.2" cy="414.4" r="0.78" fill="#cbcbcb"/>
<circle cx="132.1" cy="425.3" r="1.84" fill="#cbcbcb"/>
<circle cx="136.3" cy="346.4" r="1.18" fill="#cbcbcb"/>
<circle cx="134.9" cy="484.5" r="1.22" fill="#cbcbcb"/>
<circle cx="56.1" cy="473.8" r="2.75" fill="#cbcbcb"/>
<circle cx="128.7" cy="470.1" r="0.64" fill="#cbcbcb"/>
<circle cx="144.5" cy="387.6" r="0.64" fill="#cbcbcb"/>
<circle cx="132.2" cy="398.7" r="0.64" fill="#cbcbcb"/>
<circle cx="59.8" cy="405.8" r="1.77" fill="#cbcbcb"/>
<circle cx="128.8" cy="467.6" r="1.14" fill="#cbcbcb"/>
<circle cx="145.6" cy="403.1" r="1.10" fill="#cbcbcb"/>
<circle cx="115.7" cy="451.5" r="1.28" fill="#cbcbcb"/>
<circle cx="175.3" cy="459.4" r="0.85" fill="#cbcbcb"/>
<circle cx="64.0" cy="346.8" r="0.88" fill="#cbcbcb"/>
<circle cx="55.4" cy="408.4" r="1.08" fill="#cbcbcb"/>
<circle cx="97.6" cy="453.3" r="1.04" fill="#cbcbcb"/>
<circle cx="52.1" cy="472.4" r="0.89" fill="#cbcbcb"/>
<circle cx="107.5" cy="400.2" r="1.60" fill="#cbcbcb"/>
<circle cx="117.3" cy="447.8" r="1.19" fill="#cbcbcb"/>
<circle cx="99.0" cy="393.7" r="0.91" fill="#cbcbcb"/>
<circle cx="105.8" cy="424.0" r="1.08" fill="#cbcbcb"/>
<circle cx="74.3" cy="412.2" r="1.10" fill="#cbcbcb"/>
<circle cx="57.0" cy="410.3" r="0.87" fill="#cbcbcb"/>
<circle cx="120.8" cy="378.9" r="1.36" fill="#cbcbcb"/>
<circle cx="133.6" cy="421.3" r="1.47" fill="#cbcbcb"/>
<circle cx="135.4" cy="399.7" r="1.22" fill="#cbcbcb"/>
<circle cx="129.0" cy="452.8" r="1.48" fill="#cbcbcb"/>
<circle cx="103.9" cy="400.5" r="1.50" fill="#cbcbcb"/>
<circle cx="141.1" cy="368.6" r="0.81" fill="#cbcbcb"/>
<circle cx="105.2" cy="390.8" r="0.68" fill="#cbcbcb"/>
<circle cx="67.5" cy="391.3" r="1.32" fill="#cbcbcb"/>
<circle cx="99.1" cy="379.2" r="0.91" fill="#cbcbcb"/>
<circle cx="103.8" cy="374.3" r="2.04" fill="#cbcbcb"/>
<circle cx="66.2" cy="422.6" r="0.73" fill="#cbcbcb"/>
<circle cx="69.4" cy="403.3" r="0.99" fill="#cbcbcb"/>
<circle cx="103.6" cy="463.4" r="1.09" fill="#cbcbcb"/>
<circle cx="100.3" cy="423.1" r="1.09" fill="#cbcbcb"/>
<circle cx="118.2" cy="428.5" r="0.94" fill="#cbcbcb"/>
<circle cx="121.6" cy="396.3" r="0.90" fill="#cbcbcb"/>
<circle cx="80.9" cy="400.3" r="0.61" fill="#cbcbcb"/>
<circle cx="103.9" cy="393.4" r="1.74" fill="#cbcbcb"/>
<circle cx="163.1" cy="384.3" r="0.60" fill="#cbcbcb"/>
<circle cx="70.7" cy="408.7" r="1.09" fill="#cbcbcb"/>
<circle cx="166.7" cy="408.4" r="0.62" fill="#cbcbcb"/>
<circle cx="68.4" cy="396.6" r="0.78" fill="#cbcbcb"/>
<circle cx="98.9" cy="407.4" r="1.43" fill="#cbcbcb"/>
<circle cx="108.7" cy="478.1" r="0.96" fill="#cbcbcb"/>
<circle cx="110.9" cy="385.7" r="1.16" fill="#cbcbcb"/>
<circle cx="136.2" cy="396.1" r="1.48" fill="#cbcbcb"/>
<circle cx="126.4" cy="414.8" r="0.89" fill="#cbcbcb"/>
<circle cx="109.1" cy="395.4" r="1.03" fill="#cbcbcb"/>
<circle cx="92.0" cy="402.6" r="0.88" fill="#cbcbcb"/>
<circle cx="92.1" cy="390.0" r="1.89" fill="#cbcbcb"/>
<circle cx="139.6" cy="465.6" r="0.64" fill="#cbcbcb"/>
<circle cx="128.0" cy="358.1" r="0.71" fill="#cbcbcb"/>
<circle cx="128.6" cy="431.8" r="1.72" fill="#cbcbcb"/>
<circle cx="104.0" cy="491.2" r="1.36" fill="#cbcbcb"/>
<circle cx="126.3" cy="356.1" r="0.97" fill="#cbcbcb"/>
<circle cx="115.0" cy="435.6" r="0.82" fill="#cbcbcb"/>
<circle cx="127.6" cy="449.9" r="0.98" fill="#cbcbcb"/>
<circle cx="112.3" cy="456.9" r="0.89" fill="#cbcbcb"/>
<circle cx="139.1" cy="366.9" r="1.32" fill="#cbcbcb"/>
<circle cx="48.7" cy="469.8" r="0.99" fill="#cbcbcb"/>
<circle cx="78.6" cy="369.7" r="1.17" fill="#cbcbcb"/>
<circle cx="108.8" cy="471.3" r="0.72" fill="#cbcbcb"/>
<circle cx="122.6" cy="407.2" r="1.26" fill="#cbcbcb"/>
<circle cx="138.9" cy="358.4" r="1.57" fill="#cbcbcb"/>
<circle cx="101.3" cy="395.4" r="0.93" fill="#cbcbcb"/>
<circle cx="72.2" cy="475.8" r="1.68" fill="#cbcbcb"/>
<circle cx="104.0" cy="417.0" r="1.63" fill="#cbcbcb"/>
<circle cx="65.2" cy="365.6" r="0.65" fill="#cbcbcb"/>
<circle cx="80.4" cy="395.2" r="1.06" fill="#cbcbcb"/>
<circle cx="178.3" cy="454.8" r="0.83" fill="#cbcbcb"/>
<circle cx="106.9" cy="393.3" r="0.71" fill="#cbcbcb"/>
<circle cx="150.0" cy="477.0" r="1.11" fill="#cbcbcb"/>
<circle cx="126.8" cy="457.9" r="1.89" fill="#cbcbcb"/>
<circle cx="114.3" cy="454.1" r="1.05" fill="#cbcbcb"/>
<circle cx="72.8" cy="366.9" r="0.96" fill="#cbcbcb"/>
<circle cx="80.1" cy="388.6" r="0.78" fill="#cbcbcb"/>
<circle cx="132.0" cy="465.7" r="0.68" fill="#cbcbcb"/>
<circle cx="157.2" cy="411.8" r="0.96" fill="#cbcbcb"/>
<circle cx="84.7" cy="394.5" r="0.90" fill="#cbcbcb"/>
<circle cx="82.7" cy="368.4" r="1.29" fill="#cbcbcb"/>
<circle cx="159.6" cy="393.4" r="1.17" fill="#cbcbcb"/>
<circle cx="105.4" cy="421.6" r="0.75" fill="#cbcbcb"/>
<circle cx="139.2" cy="363.6" r="1.43" fill="#cbcbcb"/>
<circle cx="131.1" cy="418.8" r="1.50" fill="#cbcbcb"/>
<circle cx="164.6" cy="417.1" r="0.83" fill="#cbcbcb"/>
<circle cx="83.2" cy="396.5" r="1.05" fill="#cbcbcb"/>
<circle cx="113.8" cy="433.9" r="0.71" fill="#cbcbcb"/>
<circle cx="68.4" cy="375.8" r="0.61" fill="#cbcbcb"/>
<circle cx="66.9" cy="412.7" r="1.02" fill="#cbcbcb"/>
<circle cx="105.5" cy="384.1" r="1.84" fill="#cbcbcb"/>
<circle cx="83.6" cy="388.3" r="0.81" fill="#cbcbcb"/>
<circle cx="82.9" cy="405.3" r="0.95" fill="#cbcbcb"/>
<circle cx="63.7" cy="339.9" r="1.28" fill="#cbcbcb"/>
<circle cx="131.0" cy="461.8" r="2.11" fill="#cbcbcb"/>
<circle cx="64.5" cy="364.0" r="0.61" fill="#cbcbcb"/>
<circle cx="137.2" cy="370.7" r="1.23" fill="#cbcbcb"/>
<circle cx="132.0" cy="458.3" r="0.92" fill="#cbcbcb"/>
<circle cx="131.7" cy="364.6" r="0.85" fill="#cbcbcb"/>
<circle cx="154.5" cy="391.4" r="1.10" fill="#cbcbcb"/>
<circle cx="114.7" cy="383.3" r="1.95" fill="#cbcbcb"/>
<circle cx="45.1" cy="470.3" r="0.92" fill="#cbcbcb"/>
<circle cx="114.4" cy="430.5" r="0.87" fill="#cbcbcb"/>
<circle cx="120.3" cy="400.7" r="1.74" fill="#cbcbcb"/>
<circle cx="102.4" cy="442.8" r="1.31" fill="#cbcbcb"/>
<circle cx="101.8" cy="370.2" r="0.69" fill="#cbcbcb"/>
<circle cx="147.0" cy="388.8" r="0.91" fill="#cbcbcb"/>
<circle cx="59.2" cy="470.2" r="1.26" fill="#cbcbcb"/>
<circle cx="127.6" cy="475.2" r="0.70" fill="#cbcbcb"/>
<circle cx="116.0" cy="439.8" r="0.62" fill="#cbcbcb"/>
<circle cx="117.7" cy="380.6" r="0.98" fill="#cbcbcb"/>
<circle cx="145.4" cy="410.9" r="0.64" fill="#cbcbcb"/>
<circle cx="110.4" cy="407.7" r="1.45" fill="#cbcbcb"/>
<circle cx="162.9" cy="381.5" r="1.09" fill="#cbcbcb"/>
<circle cx="107.8" cy="474.1" r="0.90" fill="#cbcbcb"/>
<circle cx="76.5" cy="402.2" r="1.45" fill="#cbcbcb"/>
<circle cx="166.6" cy="416.0" r="0.87" fill="#cbcbcb"/>
<circle cx="140.8" cy="480.9" r="1.74" fill="#cbcbcb"/>
<circle cx="96.9" cy="381.6" r="1.65" fill="#cbcbcb"/>
<circle cx="147.1" cy="411.6" r="0.63" fill="#cbcbcb"/>
<circle cx="151.0" cy="408.4" r="0.66" fill="#cbcbcb"/>
<circle cx="154.1" cy="473.2" r="1.29" fill="#cbcbcb"/>
<circle cx="113.7" cy="408.7" r="1.44" fill="#cbcbcb"/>
<circle cx="140.3" cy="345.6" r="0.92" fill="#cbcbcb"/>
<circle cx="132.2" cy="348.1" r="1.03" fill="#cbcbcb"/>
<circle cx="89.5" cy="461.7" r="0.61" fill="#cbcbcb"/>
<circle cx="63.9" cy="357.7" r="1.34" fill="#cbcbcb"/>
<circle cx="117.3" cy="423.5" r="0.64" fill="#cbcbcb"/>
<circle cx="140.9" cy="348.8" r="1.18" fill="#cbcbcb"/>
<circle cx="89.9" cy="409.2" r="1.34" fill="#cbcbcb"/>
<circle cx="82.8" cy="401.1" r="0.76" fill="#cbcbcb"/>
<circle cx="118.1" cy="454.1" r="0.78" fill="#cbcbcb"/>
<circle cx="143.0" cy="400.1" r="0.73" fill="#cbcbcb"/>
<circle cx="125.4" cy="451.3" r="0.68" fill="#cbcbcb"/>
<circle cx="135.1" cy="461.0" r="0.95" fill="#cbcbcb"/>
<circle cx="89.6" cy="416.9" r="1.49" fill="#cbcbcb"/>
<circle cx="130.0" cy="412.4" r="1.23" fill="#cbcbcb"/>
<circle cx="89.4" cy="401.8" r="1.06" fill="#cbcbcb"/>
<circle cx="89.8" cy="372.0" r="1.32" fill="#cbcbcb"/>
<circle cx="121.4" cy="440.9" r="0.68" fill="#cbcbcb"/>
<circle cx="122.6" cy="412.6" r="0.83" fill="#cbcbcb"/>
<circle cx="92.1" cy="413.7" r="0.98" fill="#cbcbcb"/>
<circle cx="81.9" cy="416.6" r="0.98" fill="#cbcbcb"/>
<circle cx="112.1" cy="449.6" r="0.75" fill="#cbcbcb"/>
<circle cx="132.8" cy="342.0" r="1.63" fill="#cbcbcb"/>
<circle cx="58.4" cy="339.6" r="1.19" fill="#cbcbcb"/>
<circle cx="99.0" cy="451.5" r="0.65" fill="#cbcbcb"/>
<circle cx="133.3" cy="345.6" r="1.12" fill="#cbcbcb"/>
<circle cx="132.6" cy="409.5" r="1.78" fill="#cbcbcb"/>
<circle cx="98.1" cy="418.4" r="1.84" fill="#cbcbcb"/>
<circle cx="67.8" cy="460.7" r="0.74" fill="#cbcbcb"/>
<circle cx="130.2" cy="456.1" r="1.29" fill="#cbcbcb"/>
<circle cx="100.9" cy="419.9" r="0.75" fill="#cbcbcb"/>
<circle cx="163.7" cy="405.1" r="0.87" fill="#cbcbcb"/>
<circle cx="83.2" cy="462.0" r="1.31" fill="#cbcbcb"/>
<circle cx="120.1" cy="453.3" r="0.81" fill="#cbcbcb"/>
<circle cx="117.3" cy="385.2" r="0.76" fill="#cbcbcb"/>
<circle cx="119.7" cy="376.2" r="0.82" fill="#cbcbcb"/>
<circle cx="119.0" cy="451.7" r="0.67" fill="#cbcbcb"/>
<circle cx="68.0" cy="410.7" r="0.67" fill="#cbcbcb"/>
<circle cx="133.4" cy="417.3" r="0.70" fill="#cbcbcb"/>
<circle cx="128.8" cy="351.1" r="0.67" fill="#cbcbcb"/>
<circle cx="128.0" cy="417.7" r="0.79" fill="#cbcbcb"/>
<circle cx="103.5" cy="412.3" r="0.91" fill="#cbcbcb"/>
<circle cx="129.9" cy="421.8" r="0.67" fill="#cbcbcb"/>
<circle cx="172.8" cy="421.6" r="1.35" fill="#cbcbcb"/>
<circle cx="118.9" cy="485.3" r="0.76" fill="#cbcbcb"/>
<circle cx="122.7" cy="361.7" r="1.18" fill="#cbcbcb"/>
<circle cx="62.7" cy="423.3" r="1.80" fill="#cbcbcb"/>
<circle cx="136.9" cy="483.0" r="0.73" fill="#cbcbcb"/>
<circle cx="66.2" cy="475.7" r="1.08" fill="#cbcbcb"/>
<circle cx="113.7" cy="446.1" r="1.14" fill="#cbcbcb"/>
<circle cx="168.9" cy="419.1" r="1.00" fill="#cbcbcb"/>
<circle cx="128.8" cy="354.9" r="1.28" fill="#cbcbcb"/>
<circle cx="77.9" cy="404.6" r="0.62" fill="#cbcbcb"/>
<circle cx="78.5" cy="467.6" r="0.75" fill="#cbcbcb"/>
<circle cx="170.4" cy="415.2" r="1.04" fill="#cbcbcb"/>
<circle cx="69.2" cy="393.6" r="0.92" fill="#cbcbcb"/>
<circle cx="93.1" cy="385.9" r="1.44" fill="#cbcbcb"/>
<circle cx="53.3" cy="456.5" r="0.64" fill="#cbcbcb"/>
<circle cx="116.1" cy="397.5" r="0.71" fill="#cbcbcb"/>
<circle cx="70.0" cy="378.7" r="1.79" fill="#cbcbcb"/>
<circle cx="126.1" cy="389.4" r="0.61" fill="#cbcbcb"/>
<circle cx="110.1" cy="392.3" r="0.74" fill="#cbcbcb"/>
<circle cx="139.2" cy="407.3" r="0.91" fill="#cbcbcb"/>
<circle cx="105.8" cy="402.4" r="0.62" fill="#cbcbcb"/>
<circle cx="63.3" cy="456.1" r="0.80" fill="#cbcbcb"/>
<circle cx="114.9" cy="391.9" r="0.64" fill="#cbcbcb"/>
<circle cx="63.2" cy="360.8" r="1.17" fill="#cbcbcb"/>
<circle cx="72.8" cy="410.5" r="0.64" fill="#cbcbcb"/>
<circle cx="128.7" cy="379.3" r="1.47" fill="#cbcbcb"/>
<circle cx="125.7" cy="366.7" r="0.74" fill="#cbcbcb"/>
<circle cx="112.2" cy="423.4" r="0.64" fill="#cbcbcb"/>
<circle cx="70.0" cy="472.9" r="1.22" fill="#cbcbcb"/>
<circle cx="141.4" cy="418.3" r="0.78" fill="#cbcbcb"/>
<circle cx="161.5" cy="377.8" r="1.17" fill="#cbcbcb"/>
<circle cx="141.5" cy="406.1" r="1.19" fill="#cbcbcb"/>
<circle cx="140.6" cy="409.3" r="0.72" fill="#cbcbcb"/>
<circle cx="149.0" cy="411.8" r="0.67" fill="#cbcbcb"/>
<circle cx="108.6" cy="440.7" r="0.91" fill="#cbcbcb"/>
<circle cx="137.5" cy="473.7" r="0.94" fill="#cbcbcb"/>
<circle cx="132.3" cy="379.9" r="1.64" fill="#cbcbcb"/>
<circle cx="128.0" cy="360.8" r="1.07" fill="#cbcbcb"/>
<circle cx="82.8" cy="380.6" r="1.36" fill="#cbcbcb"/>
<circle cx="116.2" cy="377.6" r="0.93" fill="#cbcbcb"/>
<circle cx="84.6" cy="407.7" r="0.82" fill="#cbcbcb"/>
<circle cx="103.0" cy="397.5" r="1.14" fill="#cbcbcb"/>
<circle cx="98.1" cy="422.5" r="0.70" fill="#cbcbcb"/>
<circle cx="160.2" cy="469.5" r="1.85" fill="#cbcbcb"/>
<circle cx="61.2" cy="461.7" r="0.71" fill="#cbcbcb"/>
<circle cx="153.6" cy="381.0" r="0.91" fill="#cbcbcb"/>
<circle cx="40.7" cy="468.9" r="1.23" fill="#cbcbcb"/>
<circle cx="65.0" cy="411.4" r="0.74" fill="#cbcbcb"/>
<circle cx="158.1" cy="379.1" r="1.26" fill="#cbcbcb"/>
<circle cx="65.3" cy="342.3" r="0.81" fill="#cbcbcb"/>
<circle cx="95.7" cy="422.2" r="1.10" fill="#cbcbcb"/>
<circle cx="93.5" cy="401.1" r="0.62" fill="#cbcbcb"/>
<circle cx="101.2" cy="464.6" r="0.85" fill="#cbcbcb"/>
<circle cx="69.0" cy="384.4" r="0.93" fill="#cbcbcb"/>
<circle cx="158.4" cy="409.4" r="1.19" fill="#cbcbcb"/>
<circle cx="177.6" cy="458.2" r="1.22" fill="#cbcbcb"/>
<circle cx="133.5" cy="362.8" r="1.02" fill="#cbcbcb"/>
<circle cx="130.3" cy="349.3" r="0.63" fill="#cbcbcb"/>
<circle cx="70.3" cy="410.9" r="0.69" fill="#cbcbcb"/>
<circle cx="63.5" cy="344.7" r="0.68" fill="#cbcbcb"/>
<circle cx="119.2" cy="389.1" r="1.05" fill="#cbcbcb"/>
<circle cx="155.6" cy="379.2" r="0.75" fill="#cbcbcb"/>
<circle cx="95.3" cy="384.0" r="0.67" fill="#cbcbcb"/>
<circle cx="138.7" cy="387.4" r="0.90" fill="#cbcbcb"/>
<circle cx="117.5" cy="483.4" r="0.88" fill="#cbcbcb"/>
<circle cx="69.9" cy="460.3" r="0.89" fill="#cbcbcb"/>
<circle cx="60.7" cy="474.1" r="1.03" fill="#cbcbcb"/>
<circle cx="150.1" cy="415.2" r="0.70" fill="#cbcbcb"/>
<circle cx="83.3" cy="493.4" r="1.05" fill="#cbcbcb"/>
<circle cx="62.6" cy="404.5" r="0.67" fill="#cbcbcb"/>
<circle cx="145.4" cy="468.8" r="0.60" fill="#cbcbcb"/>
<circle cx="72.5" cy="460.4" r="0.76" fill="#cbcbcb"/>
<circle cx="57.5" cy="413.5" r="1.14" fill="#cbcbcb"/>
<circle cx="118.5" cy="413.7" r="0.60" fill="#cbcbcb"/>
<circle cx="86.2" cy="379.8" r="0.96" fill="#cbcbcb"/>
<circle cx="126.0" cy="400.2" r="0.76" fill="#cbcbcb"/>
<circle cx="61.3" cy="338.1" r="1.15" fill="#cbcbcb"/>
<circle cx="71.9" cy="399.1" r="0.67" fill="#cbcbcb"/>
<circle cx="103.6" cy="370.9" r="0.64" fill="#cbcbcb"/>
<circle cx="63.5" cy="459.9" r="0.98" fill="#cbcbcb"/>
<circle cx="104.3" cy="388.7" r="1.05" fill="#cbcbcb"/>
<circle cx="141.4" cy="465.8" r="0.63" fill="#cbcbcb"/>
<circle cx="63.4" cy="475.5" r="0.92" fill="#cbcbcb"/>
<circle cx="125.7" cy="363.9" r="0.68" fill="#cbcbcb"/>
<circle cx="45.8" cy="461.4" r="0.70" fill="#cbcbcb"/>
<circle cx="103.0" cy="386.8" r="0.74" fill="#cbcbcb"/>
<circle cx="161.5" cy="411.0" r="0.98" fill="#cbcbcb"/>
<circle cx="120.8" cy="371.3" r="0.78" fill="#cbcbcb"/>
<circle cx="127.3" cy="462.2" r="1.08" fill="#cbcbcb"/>
<circle cx="116.0" cy="413.0" r="0.93" fill="#cbcbcb"/>
<circle cx="159.4" cy="411.7" r="0.67" fill="#cbcbcb"/>
<circle cx="114.9" cy="421.5" r="1.58" fill="#cbcbcb"/>
<circle cx="73.1" cy="403.1" r="0.81" fill="#cbcbcb"/>
<circle cx="67.0" cy="348.7" r="0.80" fill="#cbcbcb"/>
<circle cx="118.3" cy="397.4" r="0.77" fill="#cbcbcb"/>
<circle cx="152.4" cy="475.1" r="0.71" fill="#cbcbcb"/>
<circle cx="129.9" cy="366.5" r="0.91" fill="#cbcbcb"/>
<circle cx="111.5" cy="437.6" r="0.69" fill="#cbcbcb"/>
<circle cx="123.2" cy="370.4" r="1.00" fill="#cbcbcb"/>
<circle cx="80.4" cy="381.5" r="0.63" fill="#cbcbcb"/>
<circle cx="125.8" cy="380.1" r="0.94" fill="#cbcbcb"/>
<circle cx="130.7" cy="352.8" r="0.69" fill="#cbcbcb"/>
<circle cx="75.7" cy="461.2" r="0.70" fill="#cbcbcb"/>
<circle cx="89.5" cy="369.5" r="0.64" fill="#cbcbcb"/>
<circle cx="144.5" cy="472.9" r="0.64" fill="#cbcbcb"/>
<circle cx="111.7" cy="373.2" r="1.07" fill="#cbcbcb"/>
<circle cx="70.1" cy="395.7" r="0.64" fill="#cbcbcb"/>
<circle cx="127.7" cy="442.9" r="0.63" fill="#cbcbcb"/>
<circle cx="127.7" cy="485.9" r="0.67" fill="#cbcbcb"/>
<circle cx="65.1" cy="355.4" r="0.69" fill="#cbcbcb"/>
<circle cx="61.3" cy="342.3" r="1.14" fill="#cbcbcb"/>
<circle cx="102.5" cy="423.7" r="0.61" fill="#cbcbcb"/>
<circle cx="56.8" cy="354.9" r="0.90" fill="#cbcbcb"/>
<circle cx="148.3" cy="395.9" r="0.70" fill="#cbcbcb"/>
<circle cx="122.6" cy="376.0" r="1.31" fill="#cbcbcb"/>
<circle cx="71.8" cy="405.0" r="0.89" fill="#cbcbcb"/>
<circle cx="129.0" cy="407.1" r="1.10" fill="#cbcbcb"/>
<circle cx="168.2" cy="413.3" r="0.80" fill="#cbcbcb"/>
<circle cx="161.1" cy="385.4" r="0.98" fill="#cbcbcb"/>
<circle cx="100.6" cy="381.5" r="0.93" fill="#cbcbcb"/>
<circle cx="122.1" cy="452.9" r="0.66" fill="#cbcbcb"/>
<circle cx="129.0" cy="369.0" r="0.96" fill="#cbcbcb"/>
<circle cx="98.7" cy="398.5" r="1.01" fill="#cbcbcb"/>
<circle cx="136.4" cy="469.9" r="0.69" fill="#cbcbcb"/>
<circle cx="67.9" cy="463.2" r="0.73" fill="#cbcbcb"/>
<circle cx="123.6" cy="378.5" r="0.85" fill="#cbcbcb"/>
<circle cx="138.8" cy="415.5" r="0.61" fill="#cbcbcb"/>
<circle cx="64.4" cy="336.1" r="1.23" fill="#cbcbcb"/>
<circle cx="91.3" cy="370.0" r="0.62" fill="#cbcbcb"/>
<circle cx="152.2" cy="391.8" r="0.67" fill="#cbcbcb"/>
<circle cx="156.8" cy="391.9" r="0.73" fill="#cbcbcb"/>
<circle cx="70.1" cy="406.3" r="0.66" fill="#cbcbcb"/>
<circle cx="136.6" cy="416.4" r="0.98" fill="#cbcbcb"/>
<circle cx="59.5" cy="350.4" r="0.69" fill="#cbcbcb"/>
<circle cx="131.2" cy="468.1" r="0.74" fill="#cbcbcb"/>
<circle cx="75.7" cy="368.8" r="0.92" fill="#cbcbcb"/>
<circle cx="89.3" cy="391.5" r="0.68" fill="#cbcbcb"/>
<circle cx="58.8" cy="433.9" r="0.72" fill="#cbcbcb"/>
<circle cx="69.1" cy="475.5" r="0.88" fill="#cbcbcb"/>
<circle cx="120.6" cy="430.5" r="1.03" fill="#cbcbcb"/>
<circle cx="96.6" cy="378.2" r="0.82" fill="#cbcbcb"/>
<circle cx="163.7" cy="407.9" r="0.64" fill="#cbcbcb"/>
<circle cx="85.7" cy="390.2" r="0.61" fill="#cbcbcb"/>
<circle cx="87.3" cy="370.0" r="0.90" fill="#cbcbcb"/>
<circle cx="49.8" cy="471.8" r="0.73" fill="#cbcbcb"/>
<circle cx="112.0" cy="453.6" r="0.65" fill="#cbcbcb"/>
<circle cx="108.5" cy="436.5" r="0.73" fill="#cbcbcb"/>
<circle cx="81.4" cy="398.3" r="0.95" fill="#cbcbcb"/>
<circle cx="69.3" cy="354.8" r="1.21" fill="#cbcbcb"/>
<circle cx="133.5" cy="376.5" r="0.73" fill="#cbcbcb"/>
<circle cx="150.6" cy="390.9" r="0.61" fill="#cbcbcb"/>
<circle cx="171.8" cy="417.8" r="1.42" fill="#cbcbcb"/>
<circle cx="69.1" cy="400.7" r="0.82" fill="#cbcbcb"/>
<circle cx="101.2" cy="417.7" r="0.72" fill="#cbcbcb"/>
<circle cx="152.1" cy="379.6" r="0.63" fill="#cbcbcb"/>
<circle cx="92.8" cy="411.1" r="1.07" fill="#cbcbcb"/>
<circle cx="133.2" cy="386.3" r="0.68" fill="#cbcbcb"/>
<circle cx="116.3" cy="369.0" r="0.95" fill="#cbcbcb"/>
<circle cx="130.2" cy="476.8" r="0.71" fill="#cbcbcb"/>
<circle cx="58.5" cy="446.1" r="0.84" fill="#cbcbcb"/>
<circle cx="79.5" cy="386.6" r="0.70" fill="#cbcbcb"/>
<circle cx="107.1" cy="472.1" r="0.62" fill="#cbcbcb"/>
<circle cx="92.6" cy="382.3" r="0.80" fill="#cbcbcb"/>
<circle cx="73.0" cy="388.8" r="0.91" fill="#cbcbcb"/>
<circle cx="150.8" cy="381.9" r="0.62" fill="#cbcbcb"/>
<circle cx="122.2" cy="404.2" r="0.63" fill="#cbcbcb"/>
<circle cx="75.7" cy="388.7" r="0.62" fill="#cbcbcb"/>
<circle cx="142.9" cy="370.1" r="0.63" fill="#cbcbcb"/>
<circle cx="118.3" cy="378.2" r="0.64" fill="#cbcbcb"/>
<circle cx="119.4" cy="412.1" r="0.64" fill="#cbcbcb"/>
<circle cx="125.9" cy="454.4" r="0.99" fill="#cbcbcb"/>
<circle cx="62.4" cy="458.0" r="0.62" fill="#cbcbcb"/>
<circle cx="101.0" cy="378.2" r="0.73" fill="#cbcbcb"/>
<circle cx="104.8" cy="450.7" r="1.04" fill="#cbcbcb"/>
<circle cx="112.9" cy="436.4" r="0.62" fill="#cbcbcb"/>
<circle cx="155.9" cy="471.3" r="0.66" fill="#cbcbcb"/>
<circle cx="73.8" cy="399.2" r="0.66" fill="#cbcbcb"/>
<circle cx="106.0" cy="395.4" r="0.63" fill="#cbcbcb"/>
<circle cx="121.2" cy="411.0" r="0.72" fill="#cbcbcb"/>
<circle cx="110.9" cy="433.1" r="0.77" fill="#cbcbcb"/>
<circle cx="168.9" cy="416.8" r="0.67" fill="#cbcbcb"/>
<circle cx="132.2" cy="339.1" r="0.73" fill="#cbcbcb"/>
<circle cx="128.7" cy="376.2" r="0.80" fill="#cbcbcb"/>
<circle cx="73.9" cy="364.2" r="0.61" fill="#cbcbcb"/>
<circle cx="82.5" cy="371.5" r="1.08" fill="#cbcbcb"/>
<circle cx="109.5" cy="404.8" r="0.63" fill="#cbcbcb"/>
<circle cx="87.0" cy="418.6" r="0.95" fill="#cbcbcb"/>
<circle cx="59.3" cy="448.6" r="1.20" fill="#cbcbcb"/>
<circle cx="70.7" cy="367.7" r="0.83" fill="#cbcbcb"/>
<circle cx="161.5" cy="383.3" r="0.63" fill="#cbcbcb"/>
<circle cx="115.0" cy="480.5" r="0.84" fill="#cbcbcb"/>
<circle cx="149.1" cy="409.5" r="0.88" fill="#cbcbcb"/>
<circle cx="84.7" cy="376.1" r="0.61" fill="#cbcbcb"/>
<circle cx="102.7" cy="382.9" r="0.64" fill="#cbcbcb"/>
<circle cx="129.9" cy="402.8" r="0.65" fill="#cbcbcb"/>
<circle cx="103.6" cy="425.4" r="0.62" fill="#cbcbcb"/>
<circle cx="135.2" cy="392.7" r="0.62" fill="#cbcbcb"/>
<circle cx="77.6" cy="388.1" r="0.74" fill="#cbcbcb"/>
<circle cx="113.4" cy="428.4" r="0.65" fill="#cbcbcb"/>
<circle cx="99.9" cy="430.2" r="0.78" fill="#cbcbcb"/>
<circle cx="71.8" cy="395.0" r="0.71" fill="#cbcbcb"/>
<circle cx="105.1" cy="426.6" r="0.66" fill="#cbcbcb"/>
<circle cx="71.4" cy="397.3" r="0.64" fill="#cbcbcb"/>
<circle cx="115.6" cy="486.1" r="0.63" fill="#cbcbcb"/>
<circle cx="76.2" cy="362.0" r="0.82" fill="#cbcbcb"/>
<circle cx="125.3" cy="466.6" r="0.62" fill="#cbcbcb"/>
<circle cx="94.7" cy="370.2" r="0.81" fill="#cbcbcb"/>
<circle cx="127.0" cy="465.4" r="0.92" fill="#cbcbcb"/>
<circle cx="145.0" cy="389.4" r="0.62" fill="#cbcbcb"/>
<circle cx="131.0" cy="484.9" r="1.87" fill="#cbcbcb"/>
<circle cx="160.0" cy="391.0" r="0.65" fill="#cbcbcb"/>
<circle cx="101.2" cy="412.2" r="0.66" fill="#cbcbcb"/>
<circle cx="106.0" cy="487.2" r="0.68" fill="#cbcbcb"/>
<circle cx="69.4" cy="420.6" r="0.63" fill="#cbcbcb"/>
<circle cx="76.0" cy="372.2" r="1.11" fill="#cbcbcb"/>
<circle cx="89.9" cy="419.6" r="0.65" fill="#cbcbcb"/>
<circle cx="148.1" cy="413.4" r="0.62" fill="#cbcbcb"/>
<circle cx="70.4" cy="391.5" r="0.88" fill="#cbcbcb"/>
<circle cx="125.4" cy="358.4" r="0.69" fill="#cbcbcb"/>
<circle cx="121.0" cy="474.4" r="0.74" fill="#cbcbcb"/>
<circle cx="147.6" cy="415.5" r="0.99" fill="#cbcbcb"/>
<circle cx="116.1" cy="428.7" r="0.66" fill="#cbcbcb"/>
<circle cx="75.3" cy="472.1" r="0.70" fill="#cbcbcb"/>
<circle cx="118.9" cy="449.8" r="0.62" fill="#cbcbcb"/>
<circle cx="60.5" cy="459.7" r="0.84" fill="#cbcbcb"/>
<circle cx="66.2" cy="395.0" r="1.22" fill="#cbcbcb"/>
<circle cx="146.5" cy="400.3" r="0.77" fill="#cbcbcb"/>
<circle cx="152.9" cy="409.1" r="0.63" fill="#cbcbcb"/>
<circle cx="115.5" cy="366.6" r="0.93" fill="#cbcbcb"/>
<circle cx="135.2" cy="423.6" r="0.63" fill="#cbcbcb"/>
<circle cx="139.8" cy="396.7" r="1.15" fill="#cbcbcb"/>
<circle cx="156.5" cy="469.6" r="0.65" fill="#cbcbcb"/>
<circle cx="153.1" cy="389.4" r="0.79" fill="#cbcbcb"/>
<circle cx="102.7" cy="414.3" r="0.64" fill="#cbcbcb"/>
<circle cx="129.7" cy="363.7" r="0.82" fill="#cbcbcb"/>
<circle cx="138.7" cy="347.3" r="0.82" fill="#cbcbcb"/>
<circle cx="136.2" cy="475.9" r="0.73" fill="#cbcbcb"/>
<circle cx="102.8" cy="390.5" r="0.74" fill="#cbcbcb"/>
<circle cx="137.8" cy="480.6" r="0.68" fill="#cbcbcb"/>
<circle cx="112.7" cy="414.8" r="0.60" fill="#cbcbcb"/>
<circle cx="152.6" cy="382.9" r="0.60" fill="#cbcbcb"/>
<circle cx="135.6" cy="407.6" r="0.62" fill="#cbcbcb"/>
<circle cx="143.4" cy="474.4" r="0.68" fill="#cbcbcb"/>
<circle cx="94.4" cy="373.3" r="0.62" fill="#cbcbcb"/>
<circle cx="115.2" cy="380.0" r="0.79" fill="#cbcbcb"/>
<circle cx="106.3" cy="419.1" r="0.74" fill="#cbcbcb"/>
<circle cx="87.9" cy="390.0" r="0.71" fill="#cbcbcb"/>
<circle cx="114.6" cy="396.4" r="0.61" fill="#cbcbcb"/>
<circle cx="82.0" cy="387.0" r="0.68" fill="#cbcbcb"/>
<circle cx="66.6" cy="353.9" r="0.84" fill="#cbcbcb"/>
<circle cx="130.7" cy="390.9" r="0.64" fill="#cbcbcb"/>
<circle cx="159.3" cy="413.5" r="0.63" fill="#cbcbcb"/>
<circle cx="109.7" cy="438.6" r="0.78" fill="#cbcbcb"/>
<circle cx="128.5" cy="419.6" r="0.60" fill="#cbcbcb"/>
<circle cx="78.3" cy="390.5" r="0.70" fill="#cbcbcb"/>
<circle cx="149.0" cy="389.6" r="0.63" fill="#cbcbcb"/>
<circle cx="125.8" cy="416.8" r="0.64" fill="#cbcbcb"/>
<circle cx="65.9" cy="457.0" r="0.62" fill="#cbcbcb"/>
<circle cx="73.8" cy="473.3" r="0.74" fill="#cbcbcb"/>
<circle cx="122.2" cy="393.7" r="0.90" fill="#cbcbcb"/>
<circle cx="151.4" cy="377.8" r="0.73" fill="#cbcbcb"/>
<circle cx="157.7" cy="471.3" r="0.65" fill="#cbcbcb"/>
<circle cx="73.4" cy="377.8" r="0.63" fill="#cbcbcb"/>
<circle cx="86.5" cy="461.3" r="0.73" fill="#cbcbcb"/>
<circle cx="160.1" cy="380.5" r="0.61" fill="#cbcbcb"/>
<circle cx="114.1" cy="448.7" r="0.92" fill="#cbcbcb"/>
<circle cx="113.0" cy="452.0" r="0.65" fill="#cbcbcb"/>
<circle cx="124.4" cy="452.9" r="0.60" fill="#cbcbcb"/>
<circle cx="84.5" cy="373.1" r="0.65" fill="#cbcbcb"/>
<circle cx="115.4" cy="444.5" r="0.60" fill="#cbcbcb"/>
<circle cx="107.9" cy="397.4" r="0.68" fill="#cbcbcb"/>
<circle cx="93.2" cy="371.6" r="0.67" fill="#cbcbcb"/>
<circle cx="60.9" cy="358.7" r="0.79" fill="#cbcbcb"/>
<circle cx="90.8" cy="400.0" r="0.65" fill="#cbcbcb"/>
<circle cx="96.2" cy="424.7" r="0.82" fill="#cbcbcb"/>
<circle cx="108.5" cy="409.5" r="0.65" fill="#cbcbcb"/>
<circle cx="93.0" cy="461.8" r="0.64" fill="#cbcbcb"/>
<circle cx="86.4" cy="377.3" r="0.92" fill="#cbcbcb"/>
<circle cx="163.5" cy="402.7" r="0.66" fill="#cbcbcb"/>
<circle cx="133.4" cy="395.8" r="0.67" fill="#cbcbcb"/>
<circle cx="127.4" cy="363.0" r="0.63" fill="#cbcbcb"/>
<circle cx="76.9" cy="410.5" r="0.64" fill="#cbcbcb"/>
<circle cx="114.7" cy="414.9" r="0.85" fill="#cbcbcb"/>
<circle cx="103.0" cy="465.7" r="0.72" fill="#cbcbcb"/>
<circle cx="68.5" cy="414.2" r="0.61" fill="#cbcbcb"/>
<circle cx="110.8" cy="479.0" r="0.70" fill="#cbcbcb"/>
<circle cx="85.9" cy="367.9" r="0.69" fill="#cbcbcb"/>
<circle cx="156.5" cy="414.8" r="0.89" fill="#cbcbcb"/>
<circle cx="101.1" cy="392.6" r="0.62" fill="#cbcbcb"/>
<circle cx="99.0" cy="396.3" r="0.66" fill="#cbcbcb"/>
<circle cx="60.9" cy="402.9" r="0.75" fill="#cbcbcb"/>
<circle cx="110.9" cy="397.0" r="0.82" fill="#cbcbcb"/>
<circle cx="101.2" cy="376.3" r="0.64" fill="#cbcbcb"/>
<circle cx="142.3" cy="387.9" r="0.61" fill="#cbcbcb"/>
<circle cx="67.6" cy="371.9" r="0.61" fill="#cbcbcb"/>
<circle cx="100.7" cy="415.4" r="0.81" fill="#cbcbcb"/>
<circle cx="105.6" cy="428.8" r="0.94" fill="#cbcbcb"/>
<circle cx="105.9" cy="453.3" r="0.77" fill="#cbcbcb"/>
<circle cx="117.6" cy="421.6" r="0.64" fill="#cbcbcb"/>
<circle cx="86.2" cy="409.5" r="0.73" fill="#cbcbcb"/>
<circle cx="81.1" cy="413.8" r="0.70" fill="#cbcbcb"/>
<circle cx="70.8" cy="412.8" r="0.68" fill="#cbcbcb"/>
<circle cx="99.1" cy="376.9" r="0.92" fill="#cbcbcb"/>
<circle cx="112.8" cy="467.9" r="0.75" fill="#cbcbcb"/>
<circle cx="90.8" cy="459.5" r="0.77" fill="#cbcbcb"/>
<circle cx="139.4" cy="369.6" r="0.60" fill="#cbcbcb"/>
<circle cx="111.6" cy="371.0" r="0.66" fill="#cbcbcb"/>
<circle cx="61.8" cy="335.7" r="0.77" fill="#cbcbcb"/>
<circle cx="108.2" cy="403.0" r="0.69" fill="#cbcbcb"/>
<circle cx="155.1" cy="385.8" r="0.63" fill="#cbcbcb"/>
<circle cx="106.0" cy="397.8" r="0.67" fill="#cbcbcb"/>
<circle cx="143.1" cy="409.9" r="0.74" fill="#cbcbcb"/>
<circle cx="95.3" cy="401.4" r="0.74" fill="#cbcbcb"/>
<circle cx="46.6" cy="468.5" r="0.85" fill="#cbcbcb"/>
<circle cx="133.2" cy="401.1" r="0.83" fill="#cbcbcb"/>
<circle cx="166.9" cy="418.1" r="0.66" fill="#cbcbcb"/>
<circle cx="144.3" cy="467.1" r="0.86" fill="#cbcbcb"/>
<circle cx="100.3" cy="450.2" r="0.72" fill="#cbcbcb"/>
<circle cx="58.2" cy="431.5" r="0.90" fill="#cbcbcb"/>
<circle cx="131.3" cy="368.3" r="0.63" fill="#cbcbcb"/>
<circle cx="93.4" cy="422.0" r="0.70" fill="#cbcbcb"/>
<circle cx="84.2" cy="378.1" r="0.64" fill="#cbcbcb"/>
<circle cx="111.1" cy="410.3" r="0.75" fill="#cbcbcb"/>
<circle cx="115.2" cy="411.1" r="0.60" fill="#cbcbcb"/>
<circle cx="144.1" cy="392.8" r="0.61" fill="#cbcbcb"/>
<circle cx="120.3" cy="470.9" r="0.60" fill="#cbcbcb"/>
<circle cx="128.2" cy="401.0" r="0.75" fill="#cbcbcb"/>
<circle cx="143.1" cy="403.8" r="0.78" fill="#cbcbcb"/>
<circle cx="56.2" cy="340.7" r="0.68" fill="#cbcbcb"/>
<circle cx="119.4" cy="441.8" r="0.70" fill="#cbcbcb"/>
<circle cx="129.6" cy="465.1" r="0.93" fill="#cbcbcb"/>
<circle cx="73.3" cy="397.0" r="0.69" fill="#cbcbcb"/>
<circle cx="65.6" cy="344.8" r="0.91" fill="#cbcbcb"/>
<circle cx="108.1" cy="442.8" r="0.62" fill="#cbcbcb"/>
<circle cx="138.8" cy="475.5" r="0.67" fill="#cbcbcb"/>
<circle cx="113.4" cy="370.7" r="0.68" fill="#cbcbcb"/>
<circle cx="94.2" cy="456.4" r="0.66" fill="#cbcbcb"/>
<circle cx="112.6" cy="432.1" r="0.62" fill="#cbcbcb"/>
<circle cx="83.9" cy="402.8" r="0.72" fill="#cbcbcb"/>
<circle cx="110.5" cy="461.9" r="0.71" fill="#cbcbcb"/>
<circle cx="135.8" cy="357.9" r="0.84" fill="#cbcbcb"/>
<circle cx="66.7" cy="397.7" r="0.68" fill="#cbcbcb"/>
<circle cx="99.9" cy="370.3" r="0.61" fill="#cbcbcb"/>
<circle cx="136.3" cy="414.3" r="0.64" fill="#cbcbcb"/>
<circle cx="74.8" cy="418.4" r="0.65" fill="#cbcbcb"/>
<circle cx="59.5" cy="352.4" r="0.71" fill="#cbcbcb"/>
<circle cx="147.1" cy="386.6" r="0.69" fill="#cbcbcb"/>
<circle cx="81.3" cy="491.8" r="0.76" fill="#cbcbcb"/>
<circle cx="68.9" cy="381.9" r="0.82" fill="#cbcbcb"/>
<circle cx="130.6" cy="377.2" r="0.74" fill="#cbcbcb"/>
<circle cx="108.9" cy="431.6" r="0.66" fill="#cbcbcb"/>
<circle cx="117.1" cy="480.5" r="0.66" fill="#cbcbcb"/>
<circle cx="102.4" cy="384.9" r="0.69" fill="#cbcbcb"/>
<circle cx="51.2" cy="416.5" r="1.03" fill="#cbcbcb"/>
<circle cx="101.2" cy="399.2" r="0.82" fill="#cbcbcb"/>
<circle cx="90.5" cy="411.8" r="0.78" fill="#cbcbcb"/>
<circle cx="89.6" cy="393.4" r="0.60" fill="#cbcbcb"/>
<circle cx="68.3" cy="373.9" r="0.61" fill="#cbcbcb"/>
<circle cx="68.1" cy="458.1" r="0.66" fill="#cbcbcb"/>
<circle cx="114.5" cy="394.6" r="0.67" fill="#cbcbcb"/>
<circle cx="62.5" cy="426.5" r="0.71" fill="#cbcbcb"/>
<circle cx="86.3" cy="371.9" r="0.60" fill="#cbcbcb"/>
<circle cx="117.9" cy="387.2" r="0.75" fill="#cbcbcb"/>
<circle cx="139.3" cy="417.4" r="0.75" fill="#cbcbcb"/>
<circle cx="136.6" cy="363.6" r="0.62" fill="#cbcbcb"/>
<circle cx="81.5" cy="366.1" r="0.79" fill="#cbcbcb"/>
<circle cx="116.9" cy="436.1" r="0.61" fill="#cbcbcb"/>
<text x="98.5" y="336.8" font-size="20" text-anchor="middle" font-weight="bold" fill="#2b2b2b" >BA.4</text>
<text x="36.9" y="380.3" font-size="10.8" text-anchor="middle" font-weight="bold" fill="#2b2b2b" >BA.5.1.10</text>
<text x="34.5" y="439.4" font-size="16.2" text-anchor="middle" font-weight="bold" fill="#2b2b2b" >BF.8</text>
<text x="80.0" y="439.7" font-size="10.2" text-anchor="middle" font-weight="bold" fill="#2b2b2b" >BA.4.6</text>
<text x="158.3" y="359.0" font-size="12.2" text-anchor="middle" font-weight="bold" fill="#2b2b2b" >BF.8</text>
<text x="175.5" y="393.2" font-size="7" text-anchor="middle" font-weight="bold" fill="#2b2b2b" >BA.4.6</text>
<text x="155.0" y="402.8" font-size="4.93" text-anchor="middle" font-weight="bold" fill="#333" >BA.2</text>
<text x="139.6" y="339.8" font-size="2.21" text-anchor="middle" font-weight="bold" fill="#333" >BA.2.12</text>
<text x="54.0" y="465.6" font-size="4.31" text-anchor="middle" font-weight="bold" fill="#333" >BA.5</text>
<text x="176.0" y="413.7" font-size="3.31" text-anchor="middle" font-weight="bold" fill="#333" >BF.7</text>
<text x="58.9" y="454.9" font-size="2.52" text-anchor="middle" font-weight="bold" fill="#333" >BF.7</text>
<text x="43.5" y="466.0" font-size="1.92" text-anchor="middle" font-weight="bold" fill="#333" >BA.4</text>
<text x="72.4" y="467.8" font-size="2.31" text-anchor="middle" font-weight="bold" fill="#333" >BA.5.5</text>
<text x="57.0" y="346.8" font-size="2.81" text-anchor="middle" font-weight="bold" fill="#333" >BF.5</text>
<text x="56.4" y="420.6" font-size="3.17" text-anchor="middle" font-weight="bold" fill="#333" >BF.5</text>
<text x="51.7" y="412.2" font-size="1.65" text-anchor="middle" font-weight="bold" fill="#333" >BA.4.6</text>
<text x="74.8" y="384.1" font-size="2.16" text-anchor="middle" font-weight="bold" fill="#333" >BA.5.5</text>
<text x="91.6" y="378.0" font-size="1.85" text-anchor="middle" font-weight="bold" fill="#333" >BA.4.6</text>
<text x="109.6" y="379.7" font-size="2.11" text-anchor="middle" font-weight="bold" fill="#333" >BA.5.3</text>
<text x="122.5" y="385.1" font-size="1.54" text-anchor="middle" font-weight="bold" fill="#333" >BA.5.1.1</text>
<text x="98.0" y="389.2" font-size="1.42" text-anchor="middle" font-weight="bold" fill="#333" >BA.5.1.1</text>
<text x="128.2" y="396.0" font-size="1.58" text-anchor="middle" font-weight="bold" fill="#333" >BA.5.1.1</text>
<text x="140.1" y="392.2" font-size="1.99" text-anchor="middle" font-weight="bold" fill="#333" >BA.5</text>
<text x="151.4" y="386.7" font-size="1.54" text-anchor="middle" font-weight="bold" fill="#333" >BQ.1</text>
<text x="108.4" y="389.4" font-size="1.22" text-anchor="middle" font-weight="bold" fill="#333" >BE.1.1</text>
<text x="118.2" y="394.2" font-size="1.71" text-anchor="middle" font-weight="bold" fill="#333" >BA.2</text>
<text x="134.5" y="367.4" font-size="1.17" text-anchor="middle" font-weight="bold" fill="#333" >BE.1.1</text>
<text x="113.2" y="402.1" font-size="1.46" text-anchor="middle" font-weight="bold" fill="#333" >BA.4.1.6</text>
<text x="104.6" y="407.6" font-size="1.95" text-anchor="middle" font-weight="bold" fill="#333" >BF.10</text>
<text x="108.5" y="414.3" font-size="1.5" text-anchor="middle" font-weight="bold" fill="#333" >BA.5.3</text>
<text x="97.0" y="413.6" font-size="1.5" text-anchor="middle" font-weight="bold" fill="#333" >BA.4.6</text>
<text x="86.2" y="399.7" font-size="1.32" text-anchor="middle" font-weight="bold" fill="#333" >BF.10</text>
<text x="87.5" y="405.7" font-size="1.22" text-anchor="middle" font-weight="bold" fill="#333" >BE.1.1</text>
<text x="80.8" y="410.2" font-size="1.11" text-anchor="middle" font-weight="bold" fill="#333" >BA.5.1.1</text>
<text x="75.3" y="407.4" font-size="1.2" text-anchor="middle" font-weight="bold" fill="#333" >BA.4.6</text>
<text x="98.8" y="402.8" font-size="1.26" text-anchor="middle" font-weight="bold" fill="#333" >BF.10</text>
<text x="126.0" y="404.4" font-size="1.2" text-anchor="middle" font-weight="bold" fill="#333" >BA.4.6</text>
<text x="139.4" y="402.5" font-size="1.4" text-anchor="middle" font-weight="bold" fill="#333" >BA.4.6</text>
<text x="133.3" y="405.5" font-size="1.58" text-anchor="middle" font-weight="bold" fill="#333" >BA.4</text>
<text x="142.8" y="414.6" font-size="1.19" text-anchor="middle" font-weight="bold" fill="#333" >BA.5.1.1</text>
<text x="152.7" y="413.1" font-size="1.2" text-anchor="middle" font-weight="bold" fill="#333" >BA.4.6</text>
<text x="118.3" y="417.9" font-size="1.49" text-anchor="middle" font-weight="bold" fill="#333" >BF.10</text>
<text x="109.7" y="428.5" font-size="1.71" text-anchor="middle" font-weight="bold" fill="#333" >BA.5</text>
<text x="114.9" y="426.0" font-size="1.0" text-anchor="middle" font-weight="bold" fill="#333" >BA.4.6</text>
<text x="124.1" y="425.4" font-size="2.61" text-anchor="middle" font-weight="bold" fill="#333" >BA.5.5</text>
<text x="123.7" y="434.6" font-size="1.5" text-anchor="middle" font-weight="bold" fill="#333" >BA.4.6</text>
<text x="113.0" y="441.6" font-size="0.94" text-anchor="middle" font-weight="bold" fill="#333" >BA.5.16</text>
<text x="119.3" y="438.8" font-size="0.85" text-anchor="middle" font-weight="bold" fill="#333" >BA.5.16</text>
<text x="109.7" y="446.5" font-size="1.17" text-anchor="middle" font-weight="bold" fill="#333" >BE.1.1</text>
<text x="123.1" y="447.2" font-size="2.11" text-anchor="middle" font-weight="bold" fill="#333" >BA.4.6</text>
<text x="98.5" y="459.4" font-size="1.57" text-anchor="middle" font-weight="bold" fill="#333" >BA.5.16</text>
<text x="106.9" y="459.2" font-size="2.06" text-anchor="middle" font-weight="bold" fill="#333" >BF.10</text>
<text x="108.0" y="467.3" font-size="2.53" text-anchor="middle" font-weight="bold" fill="#333" >BA.4</text>
<text x="114.7" y="475.0" font-size="2.51" text-anchor="middle" font-weight="bold" fill="#333" >BA.5.5</text>
<text x="123.7" y="482.0" font-size="3.89" text-anchor="middle" font-weight="bold" fill="#333" >BF.5</text>
<text x="124.4" y="472.0" font-size="1.5" text-anchor="middle" font-weight="bold" fill="#333" >BA.4.6</text>
<text x="148.6" y="471.9" font-size="1.5" text-anchor="middle" font-weight="bold" fill="#333" >BA.4.6</text>
<text x="134.0" y="390.0" font-size="1.1" text-anchor="middle" font-weight="bold" fill="#333" >BA.4.6</text>
<rect x="201.5" y="69.2" width="64.5" height="89.2" fill="none" stroke="#333" stroke-width="1"/>
<circle cx="224.2" cy="94.0" r="18.20" fill="#cbcbcb"/>
<circle cx="224.1" cy="124.9" r="8.90" fill="#cbcbcb"/>
<circle cx="224.2" cy="140.2" r="2.80" fill="#cbcbcb"/>
<circle cx="224.3" cy="150.2" r="1.90" fill="#cbcbcb"/>
<text x="245.3" y="99.0" font-size="8.5" text-anchor="start" font-weight="normal" fill="#222" >500</text>
<text x="233.8" y="129.0" font-size="8.5" text-anchor="start" font-weight="normal" fill="#222" >100</text>
<text x="228.0" y="143.6" font-size="8.5" text-anchor="start" font-weight="normal" fill="#222" >10</text>
<text x="228.2" y="153.0" font-size="8.5" text-anchor="start" font-weight="normal" fill="#222" >5</text>
<rect x="203.4" y="351.8" width="67.79999999999998" height="90.80000000000001" fill="none" stroke="#333" stroke-width="1"/>
<circle cx="228.8" cy="374.7" r="16.10" fill="#cbcbcb"/>
<circle cx="228.6" cy="403.0" r="7.60" fill="#cbcbcb"/>
<circle cx="228.7" cy="417.7" r="2.10" fill="#cbcbcb"/>
<circle cx="228.7" cy="427.3" r="1.50" fill="#cbcbcb"/>
<text x="247.6" y="376.2" font-size="8.5" text-anchor="start" font-weight="normal" fill="#222" >500</text>
<text x="238.4" y="406.4" font-size="8.5" text-anchor="start" font-weight="normal" fill="#222" >100</text>
<text x="232.7" y="421.0" font-size="8.5" text-anchor="start" font-weight="normal" fill="#222" >10</text>
<text x="232.7" y="430.4" font-size="8.5" text-anchor="start" font-weight="normal" fill="#222" >5</text>
<polygon points="304.0,13.2 306.4,13.2 308.9,13.2 311.3,13.2 313.8,13.2 316.2,13.2 318.7,13.2 321.1,13.2 323.6,13.2 326.0,13.2 328.5,13.2 330.9,13.2 333.3,13.2 335.8,13.2 338.2,13.2 340.7,13.2 343.1,13.2 345.6,13.2 348.0,13.2 350.5,13.2 352.9,13.2 355.4,13.2 357.8,13.2 360.2,13.2 362.7,13.2 365.1,13.2 367.6,13.2 370.0,13.2 372.5,13.2 374.9,13.2 377.4,13.2 379.8,13.2 382.3,13.2 384.7,13.2 387.1,13.2 389.6,13.2 392.0,13.2 394.5,13.2 396.9,13.2 399.4,13.2 401.8,13.2 404.3,13.2 406.7,13.2 409.2,13.2 411.6,13.2 414.0,13.2 416.5,13.2 418.9,13.2 421.4,13.2 423.8,13.2 426.3,13.2 428.7,13.2 431.2,13.2 433.6,13.2 436.1,13.2 438.5,13.2 440.9,13.2 443.4,13.2 445.8,13.2 448.3,13.2 450.7,13.2 453.2,13.2 455.6,13.2 458.1,13.2 460.5,13.2 463.0,13.2 465.4,13.2 467.8,13.2 470.3,13.2 472.7,13.2 475.2,13.2 477.6,13.2 480.1,13.2 482.5,13.2 485.0,13.2 487.4,13.2 489.9,13.2 492.3,13.2 494.7,13.2 497.2,13.2 499.6,13.2 502.1,13.2 504.5,13.2 507.0,13.2 509.4,13.2 511.9,13.2 514.3,13.2 516.8,13.2 519.2,13.2 521.6,13.2 524.1,13.2 526.5,13.2 529.0,13.2 531.4,13.2 533.9,13.2 536.3,13.2 538.8,13.2 541.2,13.2 543.7,13.2 546.1,13.2 548.5,13.2 551.0,13.2 553.4,13.2 555.9,13.2 558.3,13.2 560.8,13.2 563.2,13.2 565.7,13.2 568.1,13.2 570.6,13.2 573.0,13.2 575.4,13.2 577.9,13.2 580.3,13.2 582.8,13.2 585.2,13.2 587.7,13.2 590.1,13.2 592.6,13.2 595.0,13.2 597.5,13.2 599.9,13.2 602.3,13.2 604.8,13.2 607.2,13.2 609.7,13.2 612.1,13.2 614.6,13.2 617.0,13.2 619.5,13.2 621.9,13.2 624.4,13.2 626.8,13.2 629.2,13.2 631.7,13.2 634.1,13.2 636.6,13.2 639.0,13.2 641.5,13.2 643.9,13.2 646.4,13.2 648.8,13.2 651.3,13.2 653.7,13.2 656.1,13.2 658.6,13.2 661.0,13.2 663.5,13.2 665.9,13.2 668.4,13.2 670.8,13.2 673.3,13.2 675.7,13.2 678.2,13.2 680.6,13.2 680.6,51.4 678.2,55.7 675.7,53.1 673.3,53.2 670.8,54.0 668.4,52.6 665.9,53.6 663.5,54.3 661.0,54.8 658.6,57.5 656.1,54.2 653.7,54.2 651.3,57.4 648.8,58.5 646.4,54.8 643.9,58.0 641.5,57.1 639.0,57.1 636.6,58.3 634.1,59.0 631.7,55.1 629.2,58.8 626.8,57.8 624.4,59.4 621.9,57.9 619.5,60.2 617.0,57.2 614.6,58.1 612.1,59.3 609.7,58.9 607.2,59.8 604.8,57.8 602.3,55.4 599.9,59.1 597.5,59.2 595.0,57.5 592.6,60.6 590.1,55.3 587.7,56.4 585.2,55.5 582.8,57.0 580.3,58.2 577.9,56.6 575.4,57.8 573.0,57.4 570.6,57.7 568.1,57.9 565.7,57.9 563.2,56.3 560.8,56.7 558.3,56.6 555.9,59.0 553.4,59.4 551.0,54.7 548.5,59.6 546.1,56.4 543.7,56.9 541.2,54.7 538.8,55.8 536.3,56.4 533.9,55.8 531.4,53.9 529.0,53.3 526.5,51.9 524.1,48.6 521.6,52.4 519.2,50.5 516.8,48.3 514.3,48.4 511.9,51.3 509.4,50.3 507.0,47.3 504.5,47.8 502.1,44.3 499.6,44.7 497.2,42.6 494.7,44.1 492.3,41.0 489.9,38.7 487.4,38.9 485.0,37.1 482.5,36.2 480.1,35.9 477.6,34.4 475.2,32.0 472.7,33.1 470.3,33.1 467.8,31.6 465.4,30.9 463.0,30.5 460.5,27.7 458.1,27.7 455.6,26.2 453.2,23.8 450.7,23.6 448.3,22.8 445.8,22.4 443.4,21.6 440.9,20.9 438.5,20.3 436.1,19.4 433.6,18.9 431.2,18.7 428.7,18.1 426.3,17.1 423.8,16.5 421.4,16.4 418.9,16.1 416.5,15.7 414.0,15.4 411.6,15.5 409.2,15.2 406.7,15.0 404.3,14.8 401.8,14.8 399.4,14.5 396.9,14.4 394.5,14.4 392.0,14.3 389.6,14.3 387.1,14.2 384.7,14.2 382.3,14.1 379.8,14.1 377.4,14.0 374.9,13.9 372.5,13.8 370.0,13.8 367.6,13.8 365.1,13.8 362.7,13.7 360.2,13.7 357.8,13.7 355.4,13.7 352.9,13.7 350.5,13.7 348.0,13.6 345.6,13.6 343.1,13.6 340.7,13.6 338.2,13.5 335.8,13.5 333.3,13.5 330.9,13.5 328.5,13.5 326.0,13.5 323.6,13.4 321.1,13.4 318.7,13.4 316.2,13.4 313.8,13.4 311.3,13.3 308.9,13.3 306.4,13.3 304.0,13.3" fill="#8ccd8c"/>
<polygon points="304.0,13.3 306.4,13.3 308.9,13.3 311.3,13.3 313.8,13.4 316.2,13.4 318.7,13.4 321.1,13.4 323.6,13.4 326.0,13.5 328.5,13.5 330.9,13.5 333.3,13.5 335.8,13.5 338.2,13.5 340.7,13.6 343.1,13.6 345.6,13.6 348.0,13.6 350.5,13.7 352.9,13.7 355.4,13.7 357.8,13.7 360.2,13.7 362.7,13.7 365.1,13.8 367.6,13.8 370.0,13.8 372.5,13.8 374.9,13.9 377.4,14.0 379.8,14.1 382.3,14.1 384.7,14.2 387.1,14.2 389.6,14.3 392.0,14.3 394.5,14.4 396.9,14.4 399.4,14.5 401.8,14.8 404.3,14.8 406.7,15.0 409.2,15.2 411.6,15.5 414.0,15.4 416.5,15.7 418.9,16.1 421.4,16.4 423.8,16.5 426.3,17.1 428.7,18.1 431.2,18.7 433.6,18.9 436.1,19.4 438.5,20.3 440.9,20.9 443.4,21.6 445.8,22.4 448.3,22.8 450.7,23.6 453.2,23.8 455.6,26.2 458.1,27.7 460.5,27.7 463.0,30.5 465.4,30.9 467.8,31.6 470.3,33.1 472.7,33.1 475.2,32.0 477.6,34.4 480.1,35.9 482.5,36.2 485.0,37.1 487.4,38.9 489.9,38.7 492.3,41.0 494.7,44.1 497.2,42.6 499.6,44.7 502.1,44.3 504.5,47.8 507.0,47.3 509.4,50.3 511.9,51.3 514.3,48.4 516.8,48.3 519.2,50.5 521.6,52.4 524.1,48.6 526.5,51.9 529.0,53.3 531.4,53.9 533.9,55.8 536.3,56.4 538.8,55.8 541.2,54.7 543.7,56.9 546.1,56.4 548.5,59.6 551.0,54.7 553.4,59.4 555.9,59.0 558.3,56.6 560.8,56.7 563.2,56.3 565.7,57.9 568.1,57.9 570.6,57.7 573.0,57.4 575.4,57.8 577.9,56.6 580.3,58.2 582.8,57.0 585.2,55.5 587.7,56.4 590.1,55.3 592.6,60.6 595.0,57.5 597.5,59.2 599.9,59.1 602.3,55.4 604.8,57.8 607.2,59.8 609.7,58.9 612.1,59.3 614.6,58.1 617.0,57.2 619.5,60.2 621.9,57.9 624.4,59.4 626.8,57.8 629.2,58.8 631.7,55.1 634.1,59.0 636.6,58.3 639.0,57.1 641.5,57.1 643.9,58.0 646.4,54.8 648.8,58.5 651.3,57.4 653.7,54.2 656.1,54.2 658.6,57.5 661.0,54.8 663.5,54.3 665.9,53.6 668.4,52.6 670.8,54.0 673.3,53.2 675.7,53.1 678.2,55.7 680.6,51.4 680.6,84.5 678.2,85.9 675.7,86.0 673.3,89.0 670.8,84.8 668.4,87.6 665.9,87.8 663.5,81.3 661.0,87.6 658.6,92.9 656.1,82.9 653.7,87.3 651.3,91.7 648.8,89.9 646.4,89.4 643.9,90.9 641.5,90.5 639.0,87.6 636.6,87.9 634.1,90.7 631.7,85.1 629.2,90.3 626.8,85.8 624.4,88.1 621.9,86.1 619.5,88.3 617.0,86.4 614.6,88.5 612.1,88.4 609.7,86.7 607.2,85.1 604.8,84.6 602.3,86.6 599.9,85.1 597.5,86.6 595.0,86.9 592.6,84.0 590.1,82.5 587.7,84.1 585.2,80.8 582.8,85.7 580.3,87.7 577.9,84.3 575.4,82.7 573.0,81.5 570.6,84.5 568.1,82.1 565.7,80.1 563.2,79.5 560.8,82.3 558.3,78.8 555.9,80.5 553.4,81.5 551.0,78.9 548.5,80.9 546.1,78.4 543.7,78.8 541.2,75.6 538.8,77.1 536.3,74.7 533.9,72.6 531.4,70.2 529.0,71.8 526.5,69.9 524.1,67.4 521.6,71.9 519.2,68.5 516.8,64.8 514.3,63.7 511.9,66.2 509.4,64.3 507.0,63.5 504.5,59.8 502.1,55.9 499.6,57.4 497.2,53.4 494.7,54.6 492.3,52.5 489.9,48.4 487.4,49.3 485.0,45.7 482.5,43.9 480.1,44.5 477.6,41.8 475.2,38.9 472.7,39.8 470.3,39.7 467.8,37.3 465.4,37.2 463.0,36.7 460.5,33.1 458.1,32.7 455.6,30.8 453.2,28.5 450.7,28.4 448.3,26.4 445.8,25.5 443.4,24.3 440.9,23.5 438.5,22.3 436.1,21.5 433.6,20.8 431.2,20.7 428.7,19.8 426.3,18.6 423.8,17.9 421.4,17.6 418.9,17.2 416.5,16.7 414.0,16.3 411.6,16.4 409.2,15.9 406.7,15.6 404.3,15.2 401.8,15.2 399.4,14.8 396.9,14.5 394.5,14.4 392.0,14.3 389.6,14.4 387.1,14.3 384.7,14.4 382.3,14.2 379.8,14.3 377.4,14.2 374.9,14.2 372.5,14.1 370.0,14.1 367.6,14.1 365.1,14.1 362.7,14.0 360.2,14.0 357.8,13.9 355.4,13.9 352.9,13.9 350.5,14.0 348.0,13.8 345.6,13.8 343.1,13.8 340.7,13.8 338.2,13.7 335.8,13.7 333.3,13.7 330.9,13.6 328.5,13.6 326.0,13.6 323.6,13.5 321.1,13.5 318.7,13.5 316.2,13.4 313.8,13.4 311.3,13.4 308.9,13.4 306.4,13.3 304.0,13.3" fill="#a3b1dc"/>
<polygon points="304.0,13.3 306.4,13.3 308.9,13.4 311.3,13.4 313.8,13.4 316.2,13.4 318.7,13.5 321.1,13.5 323.6,13.5 326.0,13.6 328.5,13.6 330.9,13.6 333.3,13.7 335.8,13.7 338.2,13.7 340.7,13.8 343.1,13.8 345.6,13.8 348.0,13.8 350.5,14.0 352.9,13.9 355.4,13.9 357.8,13.9 360.2,14.0 362.7,14.0 365.1,14.1 367.6,14.1 370.0,14.1 372.5,14.1 374.9,14.2 377.4,14.2 379.8,14.3 382.3,14.2 384.7,14.4 387.1,14.3 389.6,14.4 392.0,14.3 394.5,14.4 396.9,14.5 399.4,14.8 401.8,15.2 404.3,15.2 406.7,15.6 409.2,15.9 411.6,16.4 414.0,16.3 416.5,16.7 418.9,17.2 421.4,17.6 423.8,17.9 426.3,18.6 428.7,19.8 431.2,20.7 433.6,20.8 436.1,21.5 438.5,22.3 440.9,23.5 443.4,24.3 445.8,25.5 448.3,26.4 450.7,28.4 453.2,28.5 455.6,30.8 458.1,32.7 460.5,33.1 463.0,36.7 465.4,37.2 467.8,37.3 470.3,39.7 472.7,39.8 475.2,38.9 477.6,41.8 480.1,44.5 482.5,43.9 485.0,45.7 487.4,49.3 489.9,48.4 492.3,52.5 494.7,54.6 497.2,53.4 499.6,57.4 502.1,55.9 504.5,59.8 507.0,63.5 509.4,64.3 511.9,66.2 514.3,63.7 516.8,64.8 519.2,68.5 521.6,71.9 524.1,67.4 526.5,69.9 529.0,71.8 531.4,70.2 533.9,72.6 536.3,74.7 538.8,77.1 541.2,75.6 543.7,78.8 546.1,78.4 548.5,80.9 551.0,78.9 553.4,81.5 555.9,80.5 558.3,78.8 560.8,82.3 563.2,79.5 565.7,80.1 568.1,82.1 570.6,84.5 573.0,81.5 575.4,82.7 577.9,84.3 580.3,87.7 582.8,85.7 585.2,80.8 587.7,84.1 590.1,82.5 592.6,84.0 595.0,86.9 597.5,86.6 599.9,85.1 602.3,86.6 604.8,84.6 607.2,85.1 609.7,86.7 612.1,88.4 614.6,88.5 617.0,86.4 619.5,88.3 621.9,86.1 624.4,88.1 626.8,85.8 629.2,90.3 631.7,85.1 634.1,90.7 636.6,87.9 639.0,87.6 641.5,90.5 643.9,90.9 646.4,89.4 648.8,89.9 651.3,91.7 653.7,87.3 656.1,82.9 658.6,92.9 661.0,87.6 663.5,81.3 665.9,87.8 668.4,87.6 670.8,84.8 673.3,89.0 675.7,86.0 678.2,85.9 680.6,84.5 680.6,84.8 678.2,86.5 675.7,86.8 673.3,90.4 670.8,85.3 668.4,88.7 665.9,89.5 663.5,82.7 661.0,88.6 658.6,94.2 656.1,84.1 653.7,88.6 651.3,92.7 648.8,90.8 646.4,90.4 643.9,92.2 641.5,91.3 639.0,88.8 636.6,89.0 634.1,91.7 631.7,85.9 629.2,91.1 626.8,86.6 624.4,89.2 621.9,86.5 619.5,89.4 617.0,87.4 614.6,89.3 612.1,89.7 609.7,87.8 607.2,86.1 604.8,85.6 602.3,87.6 599.9,85.8 597.5,87.6 595.0,87.7 592.6,84.7 590.1,83.2 587.7,85.3 585.2,81.5 582.8,86.8 580.3,88.3 577.9,85.5 575.4,83.8 573.0,82.3 570.6,85.3 568.1,82.8 565.7,81.4 563.2,80.5 560.8,83.1 558.3,79.6 555.9,81.4 553.4,82.6 551.0,79.8 548.5,82.3 546.1,79.6 543.7,79.8 541.2,76.5 538.8,78.6 536.3,75.7 533.9,73.8 531.4,71.3 529.0,73.3 526.5,71.4 524.1,68.1 521.6,72.7 519.2,69.8 516.8,65.7 514.3,64.6 511.9,67.4 509.4,65.5 507.0,64.7 504.5,61.2 502.1,56.5 499.6,58.3 497.2,54.2 494.7,55.6 492.3,53.8 489.9,49.4 487.4,50.3 485.0,46.6 482.5,45.4 480.1,45.5 477.6,43.2 475.2,39.9 472.7,40.6 470.3,40.3 467.8,38.2 465.4,37.5 463.0,38.1 460.5,34.3 458.1,33.9 455.6,32.2 453.2,29.3 450.7,29.5 448.3,27.0 445.8,25.9 443.4,24.9 440.9,23.9 438.5,22.6 436.1,21.8 433.6,21.0 431.2,20.9 428.7,20.1 426.3,19.0 423.8,18.2 421.4,18.0 418.9,17.5 416.5,17.0 414.0,16.6 411.6,16.7 409.2,16.3 406.7,15.9 404.3,15.7 401.8,15.4 399.4,15.0 396.9,14.8 394.5,14.5 392.0,14.5 389.6,14.6 387.1,14.6 384.7,14.6 382.3,14.5 379.8,14.5 377.4,14.9 374.9,14.5 372.5,14.5 370.0,14.3 367.6,14.5 365.1,14.5 362.7,14.4 360.2,14.3 357.8,14.2 355.4,14.4 352.9,14.3 350.5,14.4 348.0,14.1 345.6,14.1 343.1,14.1 340.7,14.0 338.2,14.0 335.8,14.1 333.3,13.9 330.9,13.8 328.5,13.8 326.0,14.0 323.6,14.0 321.1,14.0 318.7,13.8 316.2,13.7 313.8,13.8 311.3,13.7 308.9,13.6 306.4,13.6 304.0,13.4" fill="#d8a0cf"/>
<polygon points="304.0,13.4 306.4,13.6 308.9,13.6 311.3,13.7 313.8,13.8 316.2,13.7 318.7,13.8 321.1,14.0 323.6,14.0 326.0,14.0 328.5,13.8 330.9,13.8 333.3,13.9 335.8,14.1 338.2,14.0 340.7,14.0 343.1,14.1 345.6,14.1 348.0,14.1 350.5,14.4 352.9,14.3 355.4,14.4 357.8,14.2 360.2,14.3 362.7,14.4 365.1,14.5 367.6,14.5 370.0,14.3 372.5,14.5 374.9,14.5 377.4,14.9 379.8,14.5 382.3,14.5 384.7,14.6 387.1,14.6 389.6,14.6 392.0,14.5 394.5,14.5 396.9,14.8 399.4,15.0 401.8,15.4 404.3,15.7 406.7,15.9 409.2,16.3 411.6,16.7 414.0,16.6 416.5,17.0 418.9,17.5 421.4,18.0 423.8,18.2 426.3,19.0 428.7,20.1 431.2,20.9 433.6,21.0 436.1,21.8 438.5,22.6 440.9,23.9 443.4,24.9 445.8,25.9 448.3,27.0 450.7,29.5 453.2,29.3 455.6,32.2 458.1,33.9 460.5,34.3 463.0,38.1 465.4,37.5 467.8,38.2 470.3,40.3 472.7,40.6 475.2,39.9 477.6,43.2 480.1,45.5 482.5,45.4 485.0,46.6 487.4,50.3 489.9,49.4 492.3,53.8 494.7,55.6 497.2,54.2 499.6,58.3 502.1,56.5 504.5,61.2 507.0,64.7 509.4,65.5 511.9,67.4 514.3,64.6 516.8,65.7 519.2,69.8 521.6,72.7 524.1,68.1 526.5,71.4 529.0,73.3 531.4,71.3 533.9,73.8 536.3,75.7 538.8,78.6 541.2,76.5 543.7,79.8 546.1,79.6 548.5,82.3 551.0,79.8 553.4,82.6 555.9,81.4 558.3,79.6 560.8,83.1 563.2,80.5 565.7,81.4 568.1,82.8 570.6,85.3 573.0,82.3 575.4,83.8 577.9,85.5 580.3,88.3 582.8,86.8 585.2,81.5 587.7,85.3 590.1,83.2 592.6,84.7 595.0,87.7 597.5,87.6 599.9,85.8 602.3,87.6 604.8,85.6 607.2,86.1 609.7,87.8 612.1,89.7 614.6,89.3 617.0,87.4 619.5,89.4 621.9,86.5 624.4,89.2 626.8,86.6 629.2,91.1 631.7,85.9 634.1,91.7 636.6,89.0 639.0,88.8 641.5,91.3 643.9,92.2 646.4,90.4 648.8,90.8 651.3,92.7 653.7,88.6 656.1,84.1 658.6,94.2 661.0,88.6 663.5,82.7 665.9,89.5 668.4,88.7 670.8,85.3 673.3,90.4 675.7,86.8 678.2,86.5 680.6,84.8 680.6,85.7 678.2,88.1 675.7,88.1 673.3,91.6 670.8,86.5 668.4,89.0 665.9,89.9 663.5,84.3 661.0,90.1 658.6,95.2 656.1,85.2 653.7,90.4 651.3,94.4 648.8,92.6 646.4,91.5 643.9,94.3 641.5,92.3 639.0,90.1 636.6,90.3 634.1,92.8 631.7,87.2 629.2,92.5 626.8,87.6 624.4,90.0 621.9,88.0 619.5,90.8 617.0,89.0 614.6,90.3 612.1,90.9 609.7,89.0 607.2,86.7 604.8,87.6 602.3,89.2 599.9,87.4 597.5,89.0 595.0,89.2 592.6,85.6 590.1,84.6 587.7,86.8 585.2,82.9 582.8,88.8 580.3,89.7 577.9,87.0 575.4,85.4 573.0,83.8 570.6,86.5 568.1,84.9 565.7,82.7 563.2,81.2 560.8,84.4 558.3,80.1 555.9,82.2 553.4,84.4 551.0,80.4 548.5,83.2 546.1,80.9 543.7,80.8 541.2,78.4 538.8,79.4 536.3,77.2 533.9,75.4 531.4,72.4 529.0,74.8 526.5,72.6 524.1,69.8 521.6,74.2 519.2,71.1 516.8,67.1 514.3,66.2 511.9,68.9 509.4,67.2 507.0,65.6 504.5,62.7 502.1,57.9 499.6,59.8 497.2,55.7 494.7,56.7 492.3,55.4 489.9,51.2 487.4,52.3 485.0,48.2 482.5,47.1 480.1,46.6 477.6,44.8 475.2,41.6 472.7,41.9 470.3,40.8 467.8,39.5 465.4,39.3 463.0,39.1 460.5,35.7 458.1,34.8 455.6,33.6 453.2,31.2 450.7,30.5 448.3,28.1 445.8,26.6 443.4,25.9 440.9,24.5 438.5,23.0 436.1,22.1 433.6,21.4 431.2,21.2 428.7,20.3 426.3,19.3 423.8,18.6 421.4,18.3 418.9,18.0 416.5,17.3 414.0,16.9 411.6,17.1 409.2,16.6 406.7,16.3 404.3,16.0 401.8,15.7 399.4,15.3 396.9,15.0 394.5,14.9 392.0,14.7 389.6,15.0 387.1,15.0 384.7,15.0 382.3,14.8 379.8,14.8 377.4,15.1 374.9,14.5 372.5,14.8 370.0,14.6 367.6,14.9 365.1,15.0 362.7,14.7 360.2,14.6 357.8,14.4 355.4,14.6 352.9,14.4 350.5,14.6 348.0,14.4 345.6,14.4 343.1,14.2 340.7,14.3 338.2,14.3 335.8,14.3 333.3,14.3 330.9,14.1 328.5,14.3 326.0,14.1 323.6,14.3 321.1,14.3 318.7,14.1 316.2,14.0 313.8,14.1 311.3,14.0 308.9,14.0 306.4,13.9 304.0,13.8" fill="#a9c070"/>
<polygon points="304.0,13.8 306.4,13.9 308.9,14.0 311.3,14.0 313.8,14.1 316.2,14.0 318.7,14.1 321.1,14.3 323.6,14.3 326.0,14.1 328.5,14.3 330.9,14.1 333.3,14.3 335.8,14.3 338.2,14.3 340.7,14.3 343.1,14.2 345.6,14.4 348.0,14.4 350.5,14.6 352.9,14.4 355.4,14.6 357.8,14.4 360.2,14.6 362.7,14.7 365.1,15.0 367.6,14.9 370.0,14.6 372.5,14.8 374.9,14.5 377.4,15.1 379.8,14.8 382.3,14.8 384.7,15.0 387.1,15.0 389.6,15.0 392.0,14.7 394.5,14.9 396.9,15.0 399.4,15.3 401.8,15.7 404.3,16.0 406.7,16.3 409.2,16.6 411.6,17.1 414.0,16.9 416.5,17.3 418.9,18.0 421.4,18.3 423.8,18.6 426.3,19.3 428.7,20.3 431.2,21.2 433.6,21.4 436.1,22.1 438.5,23.0 440.9,24.5 443.4,25.9 445.8,26.6 448.3,28.1 450.7,30.5 453.2,31.2 455.6,33.6 458.1,34.8 460.5,35.7 463.0,39.1 465.4,39.3 467.8,39.5 470.3,40.8 472.7,41.9 475.2,41.6 477.6,44.8 480.1,46.6 482.5,47.1 485.0,48.2 487.4,52.3 489.9,51.2 492.3,55.4 494.7,56.7 497.2,55.7 499.6,59.8 502.1,57.9 504.5,62.7 507.0,65.6 509.4,67.2 511.9,68.9 514.3,66.2 516.8,67.1 519.2,71.1 521.6,74.2 524.1,69.8 526.5,72.6 529.0,74.8 531.4,72.4 533.9,75.4 536.3,77.2 538.8,79.4 541.2,78.4 543.7,80.8 546.1,80.9 548.5,83.2 551.0,80.4 553.4,84.4 555.9,82.2 558.3,80.1 560.8,84.4 563.2,81.2 565.7,82.7 568.1,84.9 570.6,86.5 573.0,83.8 575.4,85.4 577.9,87.0 580.3,89.7 582.8,88.8 585.2,82.9 587.7,86.8 590.1,84.6 592.6,85.6 595.0,89.2 597.5,89.0 599.9,87.4 602.3,89.2 604.8,87.6 607.2,86.7 609.7,89.0 612.1,90.9 614.6,90.3 617.0,89.0 619.5,90.8 621.9,88.0 624.4,90.0 626.8,87.6 629.2,92.5 631.7,87.2 634.1,92.8 636.6,90.3 639.0,90.1 641.5,92.3 643.9,94.3 646.4,91.5 648.8,92.6 651.3,94.4 653.7,90.4 656.1,85.2 658.6,95.2 661.0,90.1 663.5,84.3 665.9,89.9 668.4,89.0 670.8,86.5 673.3,91.6 675.7,88.1 678.2,88.1 680.6,85.7 680.6,94.0 678.2,95.3 675.7,96.3 673.3,100.3 670.8,95.9 668.4,97.6 665.9,98.0 663.5,91.9 661.0,97.1 658.6,102.0 656.1,91.7 653.7,95.8 651.3,100.3 648.8,98.7 646.4,96.1 643.9,98.2 641.5,96.1 639.0,95.2 636.6,94.7 634.1,96.8 631.7,93.1 629.2,98.5 626.8,94.3 624.4,95.6 621.9,94.4 619.5,97.6 617.0,95.7 614.6,98.3 612.1,99.0 609.7,96.8 607.2,93.8 604.8,95.5 602.3,97.2 599.9,95.3 597.5,97.5 595.0,97.9 592.6,93.8 590.1,92.1 587.7,95.3 585.2,91.4 582.8,95.9 580.3,97.1 577.9,94.8 575.4,92.5 573.0,93.0 570.6,95.7 568.1,94.7 565.7,91.6 563.2,91.0 560.8,95.6 558.3,91.3 555.9,91.5 553.4,94.3 551.0,91.7 548.5,94.7 546.1,92.1 543.7,93.5 541.2,90.3 538.8,92.2 536.3,88.8 533.9,87.9 531.4,85.5 529.0,87.5 526.5,84.8 524.1,83.5 521.6,85.3 519.2,83.6 516.8,81.3 514.3,79.8 511.9,84.0 509.4,82.2 507.0,79.7 504.5,79.0 502.1,72.7 499.6,76.2 497.2,72.4 494.7,74.0 492.3,69.9 489.9,67.5 487.4,65.6 485.0,62.7 482.5,61.7 480.1,63.6 477.6,56.9 475.2,54.9 472.7,54.6 470.3,53.8 467.8,51.1 465.4,52.3 463.0,50.8 460.5,47.4 458.1,46.6 455.6,44.0 453.2,43.5 450.7,42.8 448.3,39.4 445.8,37.3 443.4,35.3 440.9,33.9 438.5,33.2 436.1,30.2 433.6,29.5 431.2,28.1 428.7,26.9 426.3,25.5 423.8,23.3 421.4,24.2 418.9,24.0 416.5,21.0 414.0,21.1 411.6,20.8 409.2,20.8 406.7,19.7 404.3,19.3 401.8,18.8 399.4,18.4 396.9,17.5 394.5,17.0 392.0,16.3 389.6,16.6 387.1,16.3 384.7,16.0 382.3,15.5 379.8,15.3 377.4,15.5 374.9,14.7 372.5,14.8 370.0,14.6 367.6,14.9 365.1,15.0 362.7,14.7 360.2,14.6 357.8,14.4 355.4,14.6 352.9,14.4 350.5,14.6 348.0,14.4 345.6,14.4 343.1,14.2 340.7,14.3 338.2,14.3 335.8,14.3 333.3,14.3 330.9,14.1 328.5,14.3 326.0,14.1 323.6,14.3 321.1,14.3 318.7,14.1 316.2,14.0 313.8,14.1 311.3,14.0 308.9,14.0 306.4,13.9 304.0,13.8" fill="#c8ae7c"/>
<polygon points="304.0,13.8 306.4,13.9 308.9,14.0 311.3,14.0 313.8,14.1 316.2,14.0 318.7,14.1 321.1,14.3 323.6,14.3 326.0,14.1 328.5,14.3 330.9,14.1 333.3,14.3 335.8,14.3 338.2,14.3 340.7,14.3 343.1,14.2 345.6,14.4 348.0,14.4 350.5,14.6 352.9,14.4 355.4,14.6 357.8,14.4 360.2,14.6 362.7,14.7 365.1,15.0 367.6,14.9 370.0,14.6 372.5,14.8 374.9,14.7 377.4,15.5 379.8,15.3 382.3,15.5 384.7,16.0 387.1,16.3 389.6,16.6 392.0,16.3 394.5,17.0 396.9,17.5 399.4,18.4 401.8,18.8 404.3,19.3 406.7,19.7 409.2,20.8 411.6,20.8 414.0,21.1 416.5,21.0 418.9,24.0 421.4,24.2 423.8,23.3 426.3,25.5 428.7,26.9 431.2,28.1 433.6,29.5 436.1,30.2 438.5,33.2 440.9,33.9 443.4,35.3 445.8,37.3 448.3,39.4 450.7,42.8 453.2,43.5 455.6,44.0 458.1,46.6 460.5,47.4 463.0,50.8 465.4,52.3 467.8,51.1 470.3,53.8 472.7,54.6 475.2,54.9 477.6,56.9 480.1,63.6 482.5,61.7 485.0,62.7 487.4,65.6 489.9,67.5 492.3,69.9 494.7,74.0 497.2,72.4 499.6,76.2 502.1,72.7 504.5,79.0 507.0,79.7 509.4,82.2 511.9,84.0 514.3,79.8 516.8,81.3 519.2,83.6 521.6,85.3 524.1,83.5 526.5,84.8 529.0,87.5 531.4,85.5 533.9,87.9 536.3,88.8 538.8,92.2 541.2,90.3 543.7,93.5 546.1,92.1 548.5,94.7 551.0,91.7 553.4,94.3 555.9,91.5 558.3,91.3 560.8,95.6 563.2,91.0 565.7,91.6 568.1,94.7 570.6,95.7 573.0,93.0 575.4,92.5 577.9,94.8 580.3,97.1 582.8,95.9 585.2,91.4 587.7,95.3 590.1,92.1 592.6,93.8 595.0,97.9 597.5,97.5 599.9,95.3 602.3,97.2 604.8,95.5 607.2,93.8 609.7,96.8 612.1,99.0 614.6,98.3 617.0,95.7 619.5,97.6 621.9,94.4 624.4,95.6 626.8,94.3 629.2,98.5 631.7,93.1 634.1,96.8 636.6,94.7 639.0,95.2 641.5,96.1 643.9,98.2 646.4,96.1 648.8,98.7 651.3,100.3 653.7,95.8 656.1,91.7 658.6,102.0 661.0,97.1 663.5,91.9 665.9,98.0 668.4,97.6 670.8,95.9 673.3,100.3 675.7,96.3 678.2,95.3 680.6,94.0 680.6,95.3 678.2,96.9 675.7,97.1 673.3,101.0 670.8,97.3 668.4,98.4 665.9,99.2 663.5,93.7 661.0,98.3 658.6,102.7 656.1,92.7 653.7,97.0 651.3,102.0 648.8,99.9 646.4,97.7 643.9,99.5 641.5,96.8 639.0,95.6 636.6,96.2 634.1,97.7 631.7,94.0 629.2,99.5 626.8,95.6 624.4,97.0 621.9,95.6 619.5,99.4 617.0,97.3 614.6,99.8 612.1,100.6 609.7,97.6 607.2,95.6 604.8,96.6 602.3,98.6 599.9,96.6 597.5,98.7 595.0,99.2 592.6,95.8 590.1,93.4 587.7,96.4 585.2,92.4 582.8,96.3 580.3,98.7 577.9,96.0 575.4,93.7 573.0,93.7 570.6,97.4 568.1,96.0 565.7,93.1 563.2,92.6 560.8,97.0 558.3,92.3 555.9,92.6 553.4,95.6 551.0,92.5 548.5,96.0 546.1,93.0 543.7,94.7 541.2,91.8 538.8,93.9 536.3,89.1 533.9,89.6 531.4,87.0 529.0,88.0 526.5,86.0 524.1,85.5 521.6,85.5 519.2,84.1 516.8,82.8 514.3,81.4 511.9,84.6 509.4,83.5 507.0,81.5 504.5,80.3 502.1,74.1 499.6,77.4 497.2,74.6 494.7,76.2 492.3,71.2 489.9,70.2 487.4,66.7 485.0,64.7 482.5,63.6 480.1,65.3 477.6,59.8 475.2,57.1 472.7,57.0 470.3,56.1 467.8,52.5 465.4,55.9 463.0,53.2 460.5,49.4 458.1,48.4 455.6,46.1 453.2,44.9 450.7,44.8 448.3,41.7 445.8,38.8 443.4,37.3 440.9,35.8 438.5,35.1 436.1,32.5 433.6,31.9 431.2,31.1 428.7,27.9 426.3,27.4 423.8,25.9 421.4,26.6 418.9,26.5 416.5,23.1 414.0,23.4 411.6,23.8 409.2,22.9 406.7,21.8 404.3,21.9 401.8,20.3 399.4,20.8 396.9,19.9 394.5,18.8 392.0,17.5 389.6,18.9 387.1,18.1 384.7,16.8 382.3,17.2 379.8,16.4 377.4,15.9 374.9,15.5 372.5,15.5 370.0,14.8 367.6,15.1 365.1,15.0 362.7,14.7 360.2,14.6 357.8,14.4 355.4,14.6 352.9,14.4 350.5,14.6 348.0,14.4 345.6,14.4 343.1,14.2 340.7,14.3 338.2,14.3 335.8,14.3 333.3,14.3 330.9,14.1 328.5,14.3 326.0,14.1 323.6,14.3 321.1,14.3 318.7,14.1 316.2,14.0 313.8,14.1 311.3,14.0 308.9,14.0 306.4,13.9 304.0,13.8" fill="#a58cc8"/>
<polygon points="304.0,13.8 306.4,13.9 308.9,14.0 311.3,14.0 313.8,14.1 316.2,14.0 318.7,14.1 321.1,14.3 323.6,14.3 326.0,14.1 328.5,14.3 330.9,14.1 333.3,14.3 335.8,14.3 338.2,14.3 340.7,14.3 343.1,14.2 345.6,14.4 348.0,14.4 350.5,14.6 352.9,14.4 355.4,14.6 357.8,14.4 360.2,14.6 362.7,14.7 365.1,15.0 367.6,15.1 370.0,14.8 372.5,15.5 374.9,15.5 377.4,15.9 379.8,16.4 382.3,17.2 384.7,16.8 387.1,18.1 389.6,18.9 392.0,17.5 394.5,18.8 396.9,19.9 399.4,20.8 401.8,20.3 404.3,21.9 406.7,21.8 409.2,22.9 411.6,23.8 414.0,23.4 416.5,23.1 418.9,26.5 421.4,26.6 423.8,25.9 426.3,27.4 428.7,27.9 431.2,31.1 433.6,31.9 436.1,32.5 438.5,35.1 440.9,35.8 443.4,37.3 445.8,38.8 448.3,41.7 450.7,44.8 453.2,44.9 455.6,46.1 458.1,48.4 460.5,49.4 463.0,53.2 465.4,55.9 467.8,52.5 470.3,56.1 472.7,57.0 475.2,57.1 477.6,59.8 480.1,65.3 482.5,63.6 485.0,64.7 487.4,66.7 489.9,70.2 492.3,71.2 494.7,76.2 497.2,74.6 499.6,77.4 502.1,74.1 504.5,80.3 507.0,81.5 509.4,83.5 511.9,84.6 514.3,81.4 516.8,82.8 519.2,84.1 521.6,85.5 524.1,85.5 526.5,86.0 529.0,88.0 531.4,87.0 533.9,89.6 536.3,89.1 538.8,93.9 541.2,91.8 543.7,94.7 546.1,93.0 548.5,96.0 551.0,92.5 553.4,95.6 555.9,92.6 558.3,92.3 560.8,97.0 563.2,92.6 565.7,93.1 568.1,96.0 570.6,97.4 573.0,93.7 575.4,93.7 577.9,96.0 580.3,98.7 582.8,96.3 585.2,92.4 587.7,96.4 590.1,93.4 592.6,95.8 595.0,99.2 597.5,98.7 599.9,96.6 602.3,98.6 604.8,96.6 607.2,95.6 609.7,97.6 612.1,100.6 614.6,99.8 617.0,97.3 619.5,99.4 621.9,95.6 624.4,97.0 626.8,95.6 629.2,99.5 631.7,94.0 634.1,97.7 636.6,96.2 639.0,95.6 641.5,96.8 643.9,99.5 646.4,97.7 648.8,99.9 651.3,102.0 653.7,97.0 656.1,92.7 658.6,102.7 661.0,98.3 663.5,93.7 665.9,99.2 668.4,98.4 670.8,97.3 673.3,101.0 675.7,97.1 678.2,96.9 680.6,95.3 680.6,95.4 678.2,97.1 675.7,97.2 673.3,101.1 670.8,97.5 668.4,98.6 665.9,99.5 663.5,94.1 661.0,98.6 658.6,103.1 656.1,93.1 653.7,97.4 651.3,102.5 648.8,100.5 646.4,98.3 643.9,100.2 641.5,97.5 639.0,96.2 636.6,96.9 634.1,98.6 631.7,94.7 629.2,100.4 626.8,96.5 624.4,97.5 621.9,96.1 619.5,99.9 617.0,97.7 614.6,100.0 612.1,100.8 609.7,97.8 607.2,95.9 604.8,97.0 602.3,99.1 599.9,97.2 597.5,99.5 595.0,100.2 592.6,96.9 590.1,94.6 587.7,97.7 585.2,93.4 582.8,97.9 580.3,100.1 577.9,97.3 575.4,95.0 573.0,95.2 570.6,98.8 568.1,97.0 565.7,94.4 563.2,93.8 560.8,97.9 558.3,93.1 555.9,93.5 553.4,96.6 551.0,93.5 548.5,97.1 546.1,93.8 543.7,95.6 541.2,92.8 538.8,94.6 536.3,90.3 533.9,90.8 531.4,88.4 529.0,89.5 526.5,88.3 524.1,87.2 521.6,87.6 519.2,86.2 516.8,84.5 514.3,83.6 511.9,86.2 509.4,85.5 507.0,83.2 504.5,82.0 502.1,75.7 499.6,79.1 497.2,76.1 494.7,77.9 492.3,72.8 489.9,72.0 487.4,67.9 485.0,66.2 482.5,64.9 480.1,66.2 477.6,61.4 475.2,59.1 472.7,59.1 470.3,58.4 467.8,54.1 465.4,57.7 463.0,54.8 460.5,50.9 458.1,49.8 455.6,47.7 453.2,46.4 450.7,46.4 448.3,43.5 445.8,40.8 443.4,39.1 440.9,38.2 438.5,37.4 436.1,35.1 433.6,34.2 431.2,34.3 428.7,31.5 426.3,31.1 423.8,29.4 421.4,30.8 418.9,30.3 416.5,28.0 414.0,27.6 411.6,27.6 409.2,26.5 406.7,24.6 404.3,24.8 401.8,24.6 399.4,24.5 396.9,24.1 394.5,24.4 392.0,22.0 389.6,24.1 387.1,24.3 384.7,23.1 382.3,22.8 379.8,23.3 377.4,23.1 374.9,23.4 372.5,23.1 370.0,23.6 367.6,22.9 365.1,25.9 362.7,25.4 360.2,23.9 357.8,21.3 355.4,24.5 352.9,25.4 350.5,25.6 348.0,23.4 345.6,25.2 343.1,22.9 340.7,25.3 338.2,25.6 335.8,26.0 333.3,25.6 330.9,24.4 328.5,30.7 326.0,22.5 323.6,25.3 321.1,28.7 318.7,26.1 316.2,23.0 313.8,25.8 311.3,29.4 308.9,26.2 306.4,27.3 304.0,26.7" fill="#bfd979"/>
<polygon points="304.0,26.7 306.4,27.3 308.9,26.2 311.3,29.4 313.8,25.8 316.2,23.0 318.7,26.1 321.1,28.7 323.6,25.3 326.0,22.5 328.5,30.7 330.9,24.4 333.3,25.6 335.8,26.0 338.2,25.6 340.7,25.3 343.1,22.9 345.6,25.2 348.0,23.4 350.5,25.6 352.9,25.4 355.4,24.5 357.8,21.3 360.2,23.9 362.7,25.4 365.1,25.9 367.6,22.9 370.0,23.6 372.5,23.1 374.9,23.4 377.4,23.1 379.8,23.3 382.3,22.8 384.7,23.1 387.1,24.3 389.6,24.1 392.0,22.0 394.5,24.4 396.9,24.1 399.4,24.5 401.8,24.6 404.3,24.8 406.7,24.6 409.2,26.5 411.6,27.6 414.0,27.6 416.5,28.0 418.9,30.3 421.4,30.8 423.8,29.4 426.3,31.1 428.7,31.5 431.2,34.3 433.6,34.2 436.1,35.1 438.5,37.4 440.9,38.2 443.4,39.1 445.8,40.8 448.3,43.5 450.7,46.4 453.2,46.4 455.6,47.7 458.1,49.8 460.5,50.9 463.0,54.8 465.4,57.7 467.8,54.1 470.3,58.4 472.7,59.1 475.2,59.1 477.6,61.4 480.1,66.2 482.5,64.9 485.0,66.2 487.4,67.9 489.9,72.0 492.3,72.8 494.7,77.9 497.2,76.1 499.6,79.1 502.1,75.7 504.5,82.0 507.0,83.2 509.4,85.5 511.9,86.2 514.3,83.6 516.8,84.5 519.2,86.2 521.6,87.6 524.1,87.2 526.5,88.3 529.0,89.5 531.4,88.4 533.9,90.8 536.3,90.3 538.8,94.6 541.2,92.8 543.7,95.6 546.1,93.8 548.5,97.1 551.0,93.5 553.4,96.6 555.9,93.5 558.3,93.1 560.8,97.9 563.2,93.8 565.7,94.4 568.1,97.0 570.6,98.8 573.0,95.2 575.4,95.0 577.9,97.3 580.3,100.1 582.8,97.9 585.2,93.4 587.7,97.7 590.1,94.6 592.6,96.9 595.0,100.2 597.5,99.5 599.9,97.2 602.3,99.1 604.8,97.0 607.2,95.9 609.7,97.8 612.1,100.8 614.6,100.0 617.0,97.7 619.5,99.9 621.9,96.1 624.4,97.5 626.8,96.5 629.2,100.4 631.7,94.7 634.1,98.6 636.6,96.9 639.0,96.2 641.5,97.5 643.9,100.2 646.4,98.3 648.8,100.5 651.3,102.5 653.7,97.4 656.1,93.1 658.6,103.1 661.0,98.6 663.5,94.1 665.9,99.5 668.4,98.6 670.8,97.5 673.3,101.1 675.7,97.2 678.2,97.1 680.6,95.4 680.6,96.4 678.2,98.2 675.7,98.3 673.3,102.3 670.8,98.8 668.4,100.0 665.9,100.8 663.5,95.5 661.0,100.0 658.6,104.5 656.1,94.6 653.7,98.9 651.3,104.0 648.8,102.3 646.4,99.9 643.9,102.0 641.5,99.2 639.0,98.1 636.6,98.8 634.1,100.4 631.7,96.7 629.2,102.6 626.8,98.9 624.4,100.2 621.9,98.9 619.5,103.0 617.0,100.9 614.6,103.5 612.1,104.4 609.7,101.3 607.2,99.7 604.8,100.7 602.3,103.0 599.9,101.6 597.5,104.2 595.0,104.5 592.6,101.5 590.1,99.1 587.7,102.2 585.2,98.1 582.8,102.7 580.3,105.1 577.9,102.0 575.4,99.9 573.0,100.0 570.6,103.7 568.1,102.4 565.7,99.9 563.2,99.4 560.8,104.4 558.3,99.5 555.9,100.2 553.4,103.6 551.0,99.8 548.5,104.4 546.1,101.2 543.7,102.7 541.2,101.2 538.8,103.1 536.3,99.9 533.9,101.4 531.4,100.3 529.0,102.1 526.5,102.5 524.1,101.3 521.6,104.3 519.2,104.2 516.8,103.2 514.3,105.2 511.9,108.3 509.4,109.4 507.0,109.5 504.5,109.0 502.1,107.0 499.6,110.9 497.2,108.5 494.7,114.2 492.3,110.7 489.9,113.1 487.4,112.4 485.0,113.9 482.5,114.0 480.1,117.3 477.6,116.9 475.2,116.6 472.7,117.6 470.3,117.0 467.8,119.6 465.4,120.1 463.0,121.7 460.5,121.2 458.1,121.6 455.6,123.1 453.2,123.1 450.7,123.7 448.3,124.7 445.8,124.8 443.4,122.6 440.9,125.9 438.5,126.6 436.1,127.5 433.6,129.0 431.2,126.9 428.7,125.3 426.3,128.7 423.8,127.4 421.4,128.0 418.9,129.1 416.5,130.4 414.0,130.2 411.6,125.1 409.2,126.0 406.7,125.6 404.3,124.4 401.8,119.8 399.4,123.4 396.9,120.6 394.5,116.3 392.0,118.8 389.6,120.1 387.1,116.2 384.7,112.1 382.3,113.3 379.8,107.9 377.4,111.0 374.9,112.1 372.5,104.5 370.0,108.4 367.6,103.1 365.1,106.3 362.7,100.7 360.2,103.7 357.8,93.8 355.4,97.1 352.9,94.6 350.5,95.2 348.0,91.9 345.6,85.0 343.1,86.4 340.7,81.3 338.2,82.4 335.8,77.2 333.3,78.9 330.9,78.4 328.5,77.0 326.0,70.8 323.6,67.2 321.1,71.6 318.7,69.8 316.2,59.8 313.8,64.5 311.3,67.8 308.9,60.2 306.4,60.7 304.0,57.6" fill="#c8a9d4"/>
<polygon points="304.0,57.6 306.4,60.7 308.9,60.2 311.3,67.8 313.8,64.5 316.2,59.8 318.7,69.8 321.1,71.6 323.6,67.2 326.0,70.8 328.5,77.0 330.9,78.4 333.3,78.9 335.8,77.2 338.2,82.4 340.7,81.3 343.1,86.4 345.6,85.0 348.0,91.9 350.5,95.2 352.9,94.6 355.4,97.1 357.8,93.8 360.2,103.7 362.7,100.7 365.1,106.3 367.6,103.1 370.0,108.4 372.5,104.5 374.9,112.1 377.4,111.0 379.8,107.9 382.3,113.3 384.7,112.1 387.1,116.2 389.6,120.1 392.0,118.8 394.5,116.3 396.9,120.6 399.4,123.4 401.8,119.8 404.3,124.4 406.7,125.6 409.2,126.0 411.6,125.1 414.0,130.2 416.5,130.4 418.9,129.1 421.4,128.0 423.8,127.4 426.3,128.7 428.7,125.3 431.2,126.9 433.6,129.0 436.1,127.5 438.5,126.6 440.9,125.9 443.4,122.6 445.8,124.8 448.3,124.7 450.7,123.7 453.2,123.1 455.6,123.1 458.1,121.6 460.5,121.2 463.0,121.7 465.4,120.1 467.8,119.6 470.3,117.0 472.7,117.6 475.2,116.6 477.6,116.9 480.1,117.3 482.5,114.0 485.0,113.9 487.4,112.4 489.9,113.1 492.3,110.7 494.7,114.2 497.2,108.5 499.6,110.9 502.1,107.0 504.5,109.0 507.0,109.5 509.4,109.4 511.9,108.3 514.3,105.2 516.8,103.2 519.2,104.2 521.6,104.3 524.1,101.3 526.5,102.5 529.0,102.1 531.4,100.3 533.9,101.4 536.3,99.9 538.8,103.1 541.2,101.2 543.7,102.7 546.1,101.2 548.5,104.4 551.0,99.8 553.4,103.6 555.9,100.2 558.3,99.5 560.8,104.4 563.2,99.4 565.7,99.9 568.1,102.4 570.6,103.7 573.0,100.0 575.4,99.9 577.9,102.0 580.3,105.1 582.8,102.7 585.2,98.1 587.7,102.2 590.1,99.1 592.6,101.5 595.0,104.5 597.5,104.2 599.9,101.6 602.3,103.0 604.8,100.7 607.2,99.7 609.7,101.3 612.1,104.4 614.6,103.5 617.0,100.9 619.5,103.0 621.9,98.9 624.4,100.2 626.8,98.9 629.2,102.6 631.7,96.7 634.1,100.4 636.6,98.8 639.0,98.1 641.5,99.2 643.9,102.0 646.4,99.9 648.8,102.3 651.3,104.0 653.7,98.9 656.1,94.6 658.6,104.5 661.0,100.0 663.5,95.5 665.9,100.8 668.4,100.0 670.8,98.8 673.3,102.3 675.7,98.3 678.2,98.2 680.6,96.4 680.6,97.3 678.2,99.2 675.7,99.3 673.3,103.1 670.8,99.8 668.4,101.0 665.9,101.8 663.5,96.5 661.0,100.9 658.6,105.5 656.1,95.5 653.7,99.8 651.3,104.9 648.8,103.4 646.4,100.8 643.9,103.0 641.5,100.1 639.0,99.1 636.6,99.7 634.1,101.4 631.7,97.6 629.2,103.7 626.8,99.9 624.4,101.3 621.9,100.2 619.5,104.5 617.0,102.2 614.6,104.7 612.1,105.9 609.7,103.0 607.2,101.2 604.8,102.4 602.3,104.8 599.9,103.5 597.5,105.7 595.0,106.6 592.6,103.3 590.1,101.2 587.7,104.4 585.2,100.0 582.8,104.6 580.3,107.3 577.9,104.0 575.4,102.0 573.0,102.2 570.6,106.0 568.1,104.6 565.7,101.9 563.2,101.5 560.8,106.2 558.3,101.3 555.9,101.9 553.4,105.1 551.0,101.0 548.5,105.8 546.1,102.6 543.7,104.1 541.2,102.8 538.8,104.6 536.3,101.5 533.9,103.0 531.4,102.0 529.0,103.9 526.5,104.0 524.1,102.8 521.6,106.1 519.2,106.0 516.8,105.0 514.3,107.0 511.9,110.1 509.4,111.3 507.0,111.5 504.5,110.7 502.1,108.6 499.6,112.7 497.2,110.2 494.7,115.8 492.3,112.8 489.9,115.4 487.4,115.1 485.0,117.2 482.5,117.9 480.1,120.8 477.6,120.7 475.2,120.9 472.7,122.6 470.3,122.1 467.8,125.4 465.4,126.3 463.0,128.6 460.5,129.6 458.1,129.7 455.6,132.5 453.2,131.9 450.7,134.3 448.3,136.0 445.8,137.7 443.4,134.9 440.9,138.4 438.5,138.8 436.1,140.4 433.6,140.9 431.2,141.4 428.7,139.0 426.3,140.2 423.8,142.6 421.4,144.1 418.9,147.3 416.5,148.5 414.0,148.0 411.6,146.6 409.2,149.5 406.7,148.7 404.3,151.6 401.8,150.6 399.4,150.3 396.9,150.3 394.5,149.1 392.0,150.8 389.6,150.0 387.1,149.1 384.7,150.5 382.3,147.8 379.8,147.8 377.4,148.0 374.9,147.0 372.5,147.2 370.0,146.4 367.6,145.1 365.1,147.3 362.7,148.1 360.2,145.8 357.8,147.3 355.4,143.4 352.9,143.7 350.5,145.8 348.0,145.7 345.6,142.9 343.1,140.4 340.7,145.4 338.2,141.5 335.8,140.6 333.3,138.2 330.9,140.5 328.5,138.5 326.0,136.5 323.6,142.3 321.1,140.7 318.7,138.6 316.2,134.4 313.8,135.9 311.3,137.2 308.9,135.1 306.4,133.9 304.0,134.1" fill="#e2c66f"/>
<polygon points="304.0,134.1 306.4,133.9 308.9,135.1 311.3,137.2 313.8,135.9 316.2,134.4 318.7,138.6 321.1,140.7 323.6,142.3 326.0,136.5 328.5,138.5 330.9,140.5 333.3,138.2 335.8,140.6 338.2,141.5 340.7,145.4 343.1,140.4 345.6,142.9 348.0,145.7 350.5,145.8 352.9,143.7 355.4,143.4 357.8,147.3 360.2,145.8 362.7,148.1 365.1,147.3 367.6,145.1 370.0,146.4 372.5,147.2 374.9,147.0 377.4,148.0 379.8,147.8 382.3,147.8 384.7,150.5 387.1,149.1 389.6,150.0 392.0,150.8 394.5,149.1 396.9,150.3 399.4,150.3 401.8,150.6 404.3,151.6 406.7,148.7 409.2,149.5 411.6,146.6 414.0,148.0 416.5,148.5 418.9,147.3 421.4,144.1 423.8,142.6 426.3,140.2 428.7,139.0 431.2,141.4 433.6,140.9 436.1,140.4 438.5,138.8 440.9,138.4 443.4,134.9 445.8,137.7 448.3,136.0 450.7,134.3 453.2,131.9 455.6,132.5 458.1,129.7 460.5,129.6 463.0,128.6 465.4,126.3 467.8,125.4 470.3,122.1 472.7,122.6 475.2,120.9 477.6,120.7 480.1,120.8 482.5,117.9 485.0,117.2 487.4,115.1 489.9,115.4 492.3,112.8 494.7,115.8 497.2,110.2 499.6,112.7 502.1,108.6 504.5,110.7 507.0,111.5 509.4,111.3 511.9,110.1 514.3,107.0 516.8,105.0 519.2,106.0 521.6,106.1 524.1,102.8 526.5,104.0 529.0,103.9 531.4,102.0 533.9,103.0 536.3,101.5 538.8,104.6 541.2,102.8 543.7,104.1 546.1,102.6 548.5,105.8 551.0,101.0 553.4,105.1 555.9,101.9 558.3,101.3 560.8,106.2 563.2,101.5 565.7,101.9 568.1,104.6 570.6,106.0 573.0,102.2 575.4,102.0 577.9,104.0 580.3,107.3 582.8,104.6 585.2,100.0 587.7,104.4 590.1,101.2 592.6,103.3 595.0,106.6 597.5,105.7 599.9,103.5 602.3,104.8 604.8,102.4 607.2,101.2 609.7,103.0 612.1,105.9 614.6,104.7 617.0,102.2 619.5,104.5 621.9,100.2 624.4,101.3 626.8,99.9 629.2,103.7 631.7,97.6 634.1,101.4 636.6,99.7 639.0,99.1 641.5,100.1 643.9,103.0 646.4,100.8 648.8,103.4 651.3,104.9 653.7,99.8 656.1,95.5 658.6,105.5 661.0,100.9 663.5,96.5 665.9,101.8 668.4,101.0 670.8,99.8 673.3,103.1 675.7,99.3 678.2,99.2 680.6,97.3 680.6,108.3 678.2,109.4 675.7,110.2 673.3,113.7 670.8,111.3 668.4,110.0 665.9,112.4 663.5,105.7 661.0,108.8 658.6,112.9 656.1,104.0 653.7,106.6 651.3,111.3 648.8,108.3 646.4,106.3 643.9,108.0 641.5,105.8 639.0,105.1 636.6,105.0 634.1,105.9 631.7,103.1 629.2,109.4 626.8,104.6 624.4,106.0 621.9,105.5 619.5,108.7 617.0,106.5 614.6,109.4 612.1,111.1 609.7,108.2 607.2,106.6 604.8,106.9 602.3,109.5 599.9,107.5 597.5,109.4 595.0,110.5 592.6,108.2 590.1,105.6 587.7,109.0 585.2,105.0 582.8,109.0 580.3,111.8 577.9,108.6 575.4,106.7 573.0,106.4 570.6,110.7 568.1,108.5 565.7,106.3 563.2,107.0 560.8,111.4 558.3,106.8 555.9,107.5 553.4,110.7 551.0,107.6 548.5,112.3 546.1,109.6 543.7,111.1 541.2,109.3 538.8,111.1 536.3,107.9 533.9,109.8 531.4,108.0 529.0,110.4 526.5,110.4 524.1,109.6 521.6,112.1 519.2,112.7 516.8,112.7 514.3,113.1 511.9,117.2 509.4,117.3 507.0,119.3 504.5,118.0 502.1,117.2 499.6,119.8 497.2,117.9 494.7,124.1 492.3,121.0 489.9,123.8 487.4,123.2 485.0,124.7 482.5,126.5 480.1,128.4 477.6,130.8 475.2,129.5 472.7,133.2 470.3,131.8 467.8,135.0 465.4,136.5 463.0,138.3 460.5,141.6 458.1,140.6 455.6,141.9 453.2,141.4 450.7,144.2 448.3,145.0 445.8,146.9 443.4,146.0 440.9,148.1 438.5,149.4 436.1,152.5 433.6,152.7 431.2,154.8 428.7,153.4 426.3,154.9 423.8,156.0 421.4,157.5 418.9,158.6 416.5,159.3 414.0,159.4 411.6,158.8 409.2,158.7 406.7,159.8 404.3,160.9 401.8,160.7 399.4,160.4 396.9,160.9 394.5,161.6 392.0,161.9 389.6,161.1 387.1,161.9 384.7,161.4 382.3,162.0 379.8,161.4 377.4,161.2 374.9,161.9 372.5,162.1 370.0,162.1 367.6,161.3 365.1,161.6 362.7,161.1 360.2,161.9 357.8,162.3 355.4,161.0 352.9,161.5 350.5,161.0 348.0,160.8 345.6,161.9 343.1,160.2 340.7,161.4 338.2,161.6 335.8,161.6 333.3,160.7 330.9,160.2 328.5,161.1 326.0,160.9 323.6,161.3 321.1,160.8 318.7,159.9 316.2,160.1 313.8,159.3 311.3,160.5 308.9,161.0 306.4,159.9 304.0,160.3" fill="#d5dde5"/>
<polygon points="304.0,160.3 306.4,159.9 308.9,161.0 311.3,160.5 313.8,159.3 316.2,160.1 318.7,159.9 321.1,160.8 323.6,161.3 326.0,160.9 328.5,161.1 330.9,160.2 333.3,160.7 335.8,161.6 338.2,161.6 340.7,161.4 343.1,160.2 345.6,161.9 348.0,160.8 350.5,161.0 352.9,161.5 355.4,161.0 357.8,162.3 360.2,161.9 362.7,161.1 365.1,161.6 367.6,161.3 370.0,162.1 372.5,162.1 374.9,161.9 377.4,161.2 379.8,161.4 382.3,162.0 384.7,161.4 387.1,161.9 389.6,161.1 392.0,161.9 394.5,161.6 396.9,160.9 399.4,160.4 401.8,160.7 404.3,160.9 406.7,159.8 409.2,158.7 411.6,158.8 414.0,159.4 416.5,159.3 418.9,158.6 421.4,157.5 423.8,156.0 426.3,154.9 428.7,153.4 431.2,154.8 433.6,152.7 436.1,152.5 438.5,149.4 440.9,148.1 443.4,146.0 445.8,146.9 448.3,145.0 450.7,144.2 453.2,141.4 455.6,141.9 458.1,140.6 460.5,141.6 463.0,138.3 465.4,136.5 467.8,135.0 470.3,131.8 472.7,133.2 475.2,129.5 477.6,130.8 480.1,128.4 482.5,126.5 485.0,124.7 487.4,123.2 489.9,123.8 492.3,121.0 494.7,124.1 497.2,117.9 499.6,119.8 502.1,117.2 504.5,118.0 507.0,119.3 509.4,117.3 511.9,117.2 514.3,113.1 516.8,112.7 519.2,112.7 521.6,112.1 524.1,109.6 526.5,110.4 529.0,110.4 531.4,108.0 533.9,109.8 536.3,107.9 538.8,111.1 541.2,109.3 543.7,111.1 546.1,109.6 548.5,112.3 551.0,107.6 553.4,110.7 555.9,107.5 558.3,106.8 560.8,111.4 563.2,107.0 565.7,106.3 568.1,108.5 570.6,110.7 573.0,106.4 575.4,106.7 577.9,108.6 580.3,111.8 582.8,109.0 585.2,105.0 587.7,109.0 590.1,105.6 592.6,108.2 595.0,110.5 597.5,109.4 599.9,107.5 602.3,109.5 604.8,106.9 607.2,106.6 609.7,108.2 612.1,111.1 614.6,109.4 617.0,106.5 619.5,108.7 621.9,105.5 624.4,106.0 626.8,104.6 629.2,109.4 631.7,103.1 634.1,105.9 636.6,105.0 639.0,105.1 641.5,105.8 643.9,108.0 646.4,106.3 648.8,108.3 651.3,111.3 653.7,106.6 656.1,104.0 658.6,112.9 661.0,108.8 663.5,105.7 665.9,112.4 668.4,110.0 670.8,111.3 673.3,113.7 675.7,110.2 678.2,109.4 680.6,108.3 680.6,117.1 678.2,117.8 675.7,117.0 673.3,121.7 670.8,118.1 668.4,118.5 665.9,120.4 663.5,114.2 661.0,118.9 658.6,121.4 656.1,113.6 653.7,116.5 651.3,117.8 648.8,118.2 646.4,116.6 643.9,115.2 641.5,115.6 639.0,114.7 636.6,117.0 634.1,115.6 631.7,113.9 629.2,118.3 626.8,115.7 624.4,115.9 621.9,115.9 619.5,117.9 617.0,117.4 614.6,117.5 612.1,121.3 609.7,119.7 607.2,118.3 604.8,119.3 602.3,121.4 599.9,118.2 597.5,119.3 595.0,121.8 592.6,119.4 590.1,119.5 587.7,120.1 585.2,117.8 582.8,119.6 580.3,119.2 577.9,119.8 575.4,118.8 573.0,117.6 570.6,121.2 568.1,119.3 565.7,118.2 563.2,117.4 560.8,122.1 558.3,116.1 555.9,116.8 553.4,118.6 551.0,119.7 548.5,123.2 546.1,122.5 543.7,120.6 541.2,119.5 538.8,122.8 536.3,118.7 533.9,121.4 531.4,119.9 529.0,120.1 526.5,121.8 524.1,122.6 521.6,120.5 519.2,121.9 516.8,122.5 514.3,121.4 511.9,124.2 509.4,128.0 507.0,127.1 504.5,125.6 502.1,125.6 499.6,126.0 497.2,126.1 494.7,129.7 492.3,126.5 489.9,131.4 487.4,130.4 485.0,129.2 482.5,132.8 480.1,134.6 477.6,136.1 475.2,136.0 472.7,137.4 470.3,136.0 467.8,140.5 465.4,141.9 463.0,141.9 460.5,146.6 458.1,144.6 455.6,145.7 453.2,145.8 450.7,148.7 448.3,147.1 445.8,149.7 443.4,148.6 440.9,150.7 438.5,151.4 436.1,153.7 433.6,153.8 431.2,155.4 428.7,154.4 426.3,156.3 423.8,157.6 421.4,158.9 418.9,160.4 416.5,161.4 414.0,161.4 411.6,161.0 409.2,161.3 406.7,161.9 404.3,162.4 401.8,162.6 399.4,162.1 396.9,163.0 394.5,163.0 392.0,163.3 389.6,163.2 387.1,163.3 384.7,163.1 382.3,163.0 379.8,162.4 377.4,161.8 374.9,162.4 372.5,162.4 370.0,162.2 367.6,161.3 365.1,161.6 362.7,161.1 360.2,161.9 357.8,162.3 355.4,161.0 352.9,161.5 350.5,161.0 348.0,160.8 345.6,161.9 343.1,160.2 340.7,161.4 338.2,161.6 335.8,161.6 333.3,160.7 330.9,160.2 328.5,161.1 326.0,160.9 323.6,161.3 321.1,160.8 318.7,159.9 316.2,160.1 313.8,159.3 311.3,160.5 308.9,161.0 306.4,160.0 304.0,160.4" fill="#3b393a"/>
<polygon points="304.0,160.4 306.4,160.0 308.9,161.0 311.3,160.5 313.8,159.3 316.2,160.1 318.7,159.9 321.1,160.8 323.6,161.3 326.0,160.9 328.5,161.1 330.9,160.2 333.3,160.7 335.8,161.6 338.2,161.6 340.7,161.4 343.1,160.2 345.6,161.9 348.0,160.8 350.5,161.0 352.9,161.5 355.4,161.0 357.8,162.3 360.2,161.9 362.7,161.1 365.1,161.6 367.6,161.3 370.0,162.2 372.5,162.4 374.9,162.4 377.4,161.8 379.8,162.4 382.3,163.0 384.7,163.1 387.1,163.3 389.6,163.2 392.0,163.3 394.5,163.0 396.9,163.0 399.4,162.1 401.8,162.6 404.3,162.4 406.7,161.9 409.2,161.3 411.6,161.0 414.0,161.4 416.5,161.4 418.9,160.4 421.4,158.9 423.8,157.6 426.3,156.3 428.7,154.4 431.2,155.4 433.6,153.8 436.1,153.7 438.5,151.4 440.9,150.7 443.4,148.6 445.8,149.7 448.3,147.1 450.7,148.7 453.2,145.8 455.6,145.7 458.1,144.6 460.5,146.6 463.0,141.9 465.4,141.9 467.8,140.5 470.3,136.0 472.7,137.4 475.2,136.0 477.6,136.1 480.1,134.6 482.5,132.8 485.0,129.2 487.4,130.4 489.9,131.4 492.3,126.5 494.7,129.7 497.2,126.1 499.6,126.0 502.1,125.6 504.5,125.6 507.0,127.1 509.4,128.0 511.9,124.2 514.3,121.4 516.8,122.5 519.2,121.9 521.6,120.5 524.1,122.6 526.5,121.8 529.0,120.1 531.4,119.9 533.9,121.4 536.3,118.7 538.8,122.8 541.2,119.5 543.7,120.6 546.1,122.5 548.5,123.2 551.0,119.7 553.4,118.6 555.9,116.8 558.3,116.1 560.8,122.1 563.2,117.4 565.7,118.2 568.1,119.3 570.6,121.2 573.0,117.6 575.4,118.8 577.9,119.8 580.3,119.2 582.8,119.6 585.2,117.8 587.7,120.1 590.1,119.5 592.6,119.4 595.0,121.8 597.5,119.3 599.9,118.2 602.3,121.4 604.8,119.3 607.2,118.3 609.7,119.7 612.1,121.3 614.6,117.5 617.0,117.4 619.5,117.9 621.9,115.9 624.4,115.9 626.8,115.7 629.2,118.3 631.7,113.9 634.1,115.6 636.6,117.0 639.0,114.7 641.5,115.6 643.9,115.2 646.4,116.6 648.8,118.2 651.3,117.8 653.7,116.5 656.1,113.6 658.6,121.4 661.0,118.9 663.5,114.2 665.9,120.4 668.4,118.5 670.8,118.1 673.3,121.7 675.7,117.0 678.2,117.8 680.6,117.1 680.6,125.3 678.2,125.9 675.7,124.1 673.3,129.0 670.8,127.2 668.4,126.7 665.9,130.4 663.5,124.7 661.0,127.7 658.6,130.7 656.1,125.9 653.7,127.3 651.3,128.9 648.8,129.4 646.4,128.3 643.9,128.7 641.5,127.7 639.0,127.0 636.6,127.2 634.1,126.7 631.7,126.9 629.2,130.0 626.8,128.1 624.4,129.8 621.9,128.2 619.5,130.3 617.0,128.7 614.6,129.3 612.1,133.8 609.7,132.5 607.2,131.9 604.8,132.3 602.3,132.5 599.9,132.0 597.5,132.1 595.0,134.4 592.6,131.6 590.1,134.4 587.7,134.4 585.2,134.2 582.8,133.5 580.3,134.4 577.9,135.0 575.4,133.2 573.0,134.8 570.6,136.7 568.1,135.9 565.7,134.2 563.2,135.9 560.8,139.4 558.3,133.8 555.9,135.7 553.4,134.6 551.0,138.3 548.5,141.0 546.1,138.8 543.7,140.6 541.2,137.4 538.8,142.2 536.3,136.1 533.9,138.7 531.4,141.5 529.0,139.4 526.5,141.1 524.1,142.0 521.6,140.5 519.2,140.8 516.8,142.3 514.3,141.1 511.9,144.8 509.4,147.1 507.0,147.6 504.5,146.9 502.1,147.9 499.6,147.7 497.2,149.6 494.7,147.6 492.3,147.6 489.9,151.3 487.4,152.4 485.0,150.6 482.5,152.6 480.1,153.6 477.6,153.8 475.2,155.4 472.7,156.8 470.3,155.9 467.8,157.0 465.4,158.4 463.0,158.3 460.5,159.4 458.1,158.5 455.6,160.0 453.2,159.6 450.7,160.6 448.3,160.4 445.8,160.6 443.4,161.5 440.9,161.4 438.5,161.9 436.1,162.1 433.6,162.2 431.2,162.4 428.7,161.6 426.3,162.8 423.8,163.2 421.4,163.2 418.9,163.5 416.5,163.9 414.0,163.9 411.6,163.4 409.2,163.2 406.7,163.5 404.3,163.8 401.8,163.6 399.4,162.9 396.9,163.6 394.5,163.6 392.0,163.8 389.6,163.6 387.1,163.6 384.7,163.5 382.3,163.3 379.8,162.8 377.4,162.1 374.9,162.6 372.5,162.6 370.0,162.4 367.6,161.4 365.1,161.6 362.7,161.1 360.2,161.9 357.8,162.3 355.4,161.0 352.9,161.5 350.5,161.0 348.0,160.8 345.6,161.9 343.1,160.2 340.7,161.4 338.2,161.6 335.8,161.6 333.3,160.7 330.9,160.2 328.5,161.1 326.0,160.9 323.6,161.3 321.1,160.8 318.7,159.9 316.2,160.1 313.8,159.3 311.3,160.6 308.9,161.2 306.4,160.1 304.0,160.5" fill="#7a7676"/>
<polygon points="304.0,160.5 306.4,160.1 308.9,161.2 311.3,160.6 313.8,159.3 316.2,160.1 318.7,159.9 321.1,160.8 323.6,161.3 326.0,160.9 328.5,161.1 330.9,160.2 333.3,160.7 335.8,161.6 338.2,161.6 340.7,161.4 343.1,160.2 345.6,161.9 348.0,160.8 350.5,161.0 352.9,161.5 355.4,161.0 357.8,162.3 360.2,161.9 362.7,161.1 365.1,161.6 367.6,161.4 370.0,162.4 372.5,162.6 374.9,162.6 377.4,162.1 379.8,162.8 382.3,163.3 384.7,163.5 387.1,163.6 389.6,163.6 392.0,163.8 394.5,163.6 396.9,163.6 399.4,162.9 401.8,163.6 404.3,163.8 406.7,163.5 409.2,163.2 411.6,163.4 414.0,163.9 416.5,163.9 418.9,163.5 421.4,163.2 423.8,163.2 426.3,162.8 428.7,161.6 431.2,162.4 433.6,162.2 436.1,162.1 438.5,161.9 440.9,161.4 443.4,161.5 445.8,160.6 448.3,160.4 450.7,160.6 453.2,159.6 455.6,160.0 458.1,158.5 460.5,159.4 463.0,158.3 465.4,158.4 467.8,157.0 470.3,155.9 472.7,156.8 475.2,155.4 477.6,153.8 480.1,153.6 482.5,152.6 485.0,150.6 487.4,152.4 489.9,151.3 492.3,147.6 494.7,147.6 497.2,149.6 499.6,147.7 502.1,147.9 504.5,146.9 507.0,147.6 509.4,147.1 511.9,144.8 514.3,141.1 516.8,142.3 519.2,140.8 521.6,140.5 524.1,142.0 526.5,141.1 529.0,139.4 531.4,141.5 533.9,138.7 536.3,136.1 538.8,142.2 541.2,137.4 543.7,140.6 546.1,138.8 548.5,141.0 551.0,138.3 553.4,134.6 555.9,135.7 558.3,133.8 560.8,139.4 563.2,135.9 565.7,134.2 568.1,135.9 570.6,136.7 573.0,134.8 575.4,133.2 577.9,135.0 580.3,134.4 582.8,133.5 585.2,134.2 587.7,134.4 590.1,134.4 592.6,131.6 595.0,134.4 597.5,132.1 599.9,132.0 602.3,132.5 604.8,132.3 607.2,131.9 609.7,132.5 612.1,133.8 614.6,129.3 617.0,128.7 619.5,130.3 621.9,128.2 624.4,129.8 626.8,128.1 629.2,130.0 631.7,126.9 634.1,126.7 636.6,127.2 639.0,127.0 641.5,127.7 643.9,128.7 646.4,128.3 648.8,129.4 651.3,128.9 653.7,127.3 656.1,125.9 658.6,130.7 661.0,127.7 663.5,124.7 665.9,130.4 668.4,126.7 670.8,127.2 673.3,129.0 675.7,124.1 678.2,125.9 680.6,125.3 680.6,148.1 678.2,149.8 675.7,151.5 673.3,151.8 670.8,150.4 668.4,152.3 665.9,151.3 663.5,148.5 661.0,149.2 658.6,151.6 656.1,148.4 653.7,150.2 651.3,150.9 648.8,150.4 646.4,149.9 643.9,150.0 641.5,151.9 639.0,149.6 636.6,150.0 634.1,151.4 631.7,152.6 629.2,153.8 626.8,153.1 624.4,153.7 621.9,152.5 619.5,154.8 617.0,155.3 614.6,153.7 612.1,157.2 609.7,156.7 607.2,155.9 604.8,157.0 602.3,157.3 599.9,157.6 597.5,156.2 595.0,157.9 592.6,157.9 590.1,157.2 587.7,157.6 585.2,158.5 582.8,156.7 580.3,157.1 577.9,158.3 575.4,156.9 573.0,156.2 570.6,156.7 568.1,157.5 565.7,157.2 563.2,156.7 560.8,159.2 558.3,156.5 555.9,159.7 553.4,157.7 551.0,160.4 548.5,159.8 546.1,160.0 543.7,160.9 541.2,159.0 538.8,161.3 536.3,160.1 533.9,161.1 531.4,161.5 529.0,160.7 526.5,161.1 524.1,161.0 521.6,160.8 519.2,160.9 516.8,161.7 514.3,161.3 511.9,161.3 509.4,162.2 507.0,161.7 504.5,161.8 502.1,161.3 499.6,161.9 497.2,162.1 494.7,161.6 492.3,159.9 489.9,161.9 487.4,163.6 485.0,161.5 482.5,162.5 480.1,162.8 477.6,163.3 475.2,162.9 472.7,164.0 470.3,163.4 467.8,163.1 465.4,164.3 463.0,164.5 460.5,164.2 458.1,163.5 455.6,164.5 453.2,163.4 450.7,164.2 448.3,164.0 445.8,164.0 443.4,164.7 440.9,164.5 438.5,164.8 436.1,164.8 433.6,164.7 431.2,164.8 428.7,164.1 426.3,164.9 423.8,164.9 421.4,164.7 418.9,164.8 416.5,165.0 414.0,164.9 411.6,164.5 409.2,164.2 406.7,164.6 404.3,164.8 401.8,164.8 399.4,163.9 396.9,164.6 394.5,164.7 392.0,164.8 389.6,164.7 387.1,164.6 384.7,164.3 382.3,164.1 379.8,163.5 377.4,162.9 374.9,163.3 372.5,163.1 370.0,163.0 367.6,161.9 365.1,161.9 362.7,161.3 360.2,161.9 357.8,162.3 355.4,161.0 352.9,161.5 350.5,161.0 348.0,160.9 345.6,161.9 343.1,160.2 340.7,161.4 338.2,161.6 335.8,161.6 333.3,160.7 330.9,160.2 328.5,161.1 326.0,160.9 323.6,161.3 321.1,160.8 318.7,160.0 316.2,160.2 313.8,159.4 311.3,160.7 308.9,161.3 306.4,160.2 304.0,160.6" fill="#d3d3d3"/>
<polygon points="304.0,160.6 306.4,160.2 308.9,161.3 311.3,160.7 313.8,159.4 316.2,160.2 318.7,160.0 321.1,160.8 323.6,161.3 326.0,160.9 328.5,161.1 330.9,160.2 333.3,160.7 335.8,161.6 338.2,161.6 340.7,161.4 343.1,160.2 345.6,161.9 348.0,160.9 350.5,161.0 352.9,161.5 355.4,161.0 357.8,162.3 360.2,161.9 362.7,161.3 365.1,161.9 367.6,161.9 370.0,163.0 372.5,163.1 374.9,163.3 377.4,162.9 379.8,163.5 382.3,164.1 384.7,164.3 387.1,164.6 389.6,164.7 392.0,164.8 394.5,164.7 396.9,164.6 399.4,163.9 401.8,164.8 404.3,164.8 406.7,164.6 409.2,164.2 411.6,164.5 414.0,164.9 416.5,165.0 418.9,164.8 421.4,164.7 423.8,164.9 426.3,164.9 428.7,164.1 431.2,164.8 433.6,164.7 436.1,164.8 438.5,164.8 440.9,164.5 443.4,164.7 445.8,164.0 448.3,164.0 450.7,164.2 453.2,163.4 455.6,164.5 458.1,163.5 460.5,164.2 463.0,164.5 465.4,164.3 467.8,163.1 470.3,163.4 472.7,164.0 475.2,162.9 477.6,163.3 480.1,162.8 482.5,162.5 485.0,161.5 487.4,163.6 489.9,161.9 492.3,159.9 494.7,161.6 497.2,162.1 499.6,161.9 502.1,161.3 504.5,161.8 507.0,161.7 509.4,162.2 511.9,161.3 514.3,161.3 516.8,161.7 519.2,160.9 521.6,160.8 524.1,161.0 526.5,161.1 529.0,160.7 531.4,161.5 533.9,161.1 536.3,160.1 538.8,161.3 541.2,159.0 543.7,160.9 546.1,160.0 548.5,159.8 551.0,160.4 553.4,157.7 555.9,159.7 558.3,156.5 560.8,159.2 563.2,156.7 565.7,157.2 568.1,157.5 570.6,156.7 573.0,156.2 575.4,156.9 577.9,158.3 580.3,157.1 582.8,156.7 585.2,158.5 587.7,157.6 590.1,157.2 592.6,157.9 595.0,157.9 597.5,156.2 599.9,157.6 602.3,157.3 604.8,157.0 607.2,155.9 609.7,156.7 612.1,157.2 614.6,153.7 617.0,155.3 619.5,154.8 621.9,152.5 624.4,153.7 626.8,153.1 629.2,153.8 631.7,152.6 634.1,151.4 636.6,150.0 639.0,149.6 641.5,151.9 643.9,150.0 646.4,149.9 648.8,150.4 651.3,150.9 653.7,150.2 656.1,148.4 658.6,151.6 661.0,149.2 663.5,148.5 665.9,151.3 668.4,152.3 670.8,150.4 673.3,151.8 675.7,151.5 678.2,149.8 680.6,148.1 680.6,169.5 678.2,169.5 675.7,169.5 673.3,169.5 670.8,169.5 668.4,169.5 665.9,169.5 663.5,169.5 661.0,169.5 658.6,169.4 656.1,169.5 653.7,169.5 651.3,169.5 648.8,169.5 646.4,169.5 643.9,169.4 641.5,169.5 639.0,169.4 636.6,169.4 634.1,169.4 631.7,169.5 629.2,169.4 626.8,169.4 624.4,169.5 621.9,169.4 619.5,169.4 617.0,169.4 614.6,169.4 612.1,169.4 609.7,169.4 607.2,169.4 604.8,169.4 602.3,169.4 599.9,169.4 597.5,169.4 595.0,169.4 592.6,169.4 590.1,169.4 587.7,169.4 585.2,169.4 582.8,169.4 580.3,169.4 577.9,169.4 575.4,169.4 573.0,169.4 570.6,169.4 568.1,169.4 565.7,169.4 563.2,169.4 560.8,169.4 558.3,169.3 555.9,169.3 553.4,169.3 551.0,169.4 548.5,169.4 546.1,169.3 543.7,169.4 541.2,169.3 538.8,169.4 536.3,169.3 533.9,169.4 531.4,169.4 529.0,169.3 526.5,169.3 524.1,169.4 521.6,169.3 519.2,169.4 516.8,169.3 514.3,169.3 511.9,169.3 509.4,169.3 507.0,169.4 504.5,169.3 502.1,169.3 499.6,169.3 497.2,169.3 494.7,169.2 492.3,169.1 489.9,169.1 487.4,169.2 485.0,169.1 482.5,169.1 480.1,169.0 477.6,169.0 475.2,169.0 472.7,168.9 470.3,168.9 467.8,168.9 465.4,168.9 463.0,168.8 460.5,168.8 458.1,168.6 455.6,168.8 453.2,168.8 450.7,168.7 448.3,168.7 445.8,168.6 443.4,168.5 440.9,168.7 438.5,168.5 436.1,168.4 433.6,168.2 431.2,168.1 428.7,168.0 426.3,167.9 423.8,167.9 421.4,167.6 418.9,167.4 416.5,167.5 414.0,167.4 411.6,166.9 409.2,166.7 406.7,166.6 404.3,166.9 401.8,166.4 399.4,165.8 396.9,166.0 394.5,166.0 392.0,166.0 389.6,165.8 387.1,165.7 384.7,165.4 382.3,165.3 379.8,164.8 377.4,164.2 374.9,164.4 372.5,164.1 370.0,164.1 367.6,163.0 365.1,162.9 362.7,162.4 360.2,163.0 357.8,163.1 355.4,161.8 352.9,162.0 350.5,161.4 348.0,161.2 345.6,162.1 343.1,160.6 340.7,161.6 338.2,161.8 335.8,161.8 333.3,161.0 330.9,160.4 328.5,161.3 326.0,161.1 323.6,161.5 321.1,161.0 318.7,160.2 316.2,160.4 313.8,159.6 311.3,160.8 308.9,161.4 306.4,160.3 304.0,160.7" fill="#ebebeb"/>
<polygon points="304.0,160.7 306.4,160.3 308.9,161.4 311.3,160.8 313.8,159.6 316.2,160.4 318.7,160.2 321.1,161.0 323.6,161.5 326.0,161.1 328.5,161.3 330.9,160.4 333.3,161.0 335.8,161.8 338.2,161.8 340.7,161.6 343.1,160.6 345.6,162.1 348.0,161.2 350.5,161.4 352.9,162.0 355.4,161.8 357.8,163.1 360.2,163.0 362.7,162.4 365.1,162.9 367.6,163.0 370.0,164.1 372.5,164.1 374.9,164.4 377.4,164.2 379.8,164.8 382.3,165.3 384.7,165.4 387.1,165.7 389.6,165.8 392.0,166.0 394.5,166.0 396.9,166.0 399.4,165.8 401.8,166.4 404.3,166.9 406.7,166.6 409.2,166.7 411.6,166.9 414.0,167.4 416.5,167.5 418.9,167.4 421.4,167.6 423.8,167.9 426.3,167.9 428.7,168.0 431.2,168.1 433.6,168.2 436.1,168.4 438.5,168.5 440.9,168.7 443.4,168.5 445.8,168.6 448.3,168.7 450.7,168.7 453.2,168.8 455.6,168.8 458.1,168.6 460.5,168.8 463.0,168.8 465.4,168.9 467.8,168.9 470.3,168.9 472.7,168.9 475.2,169.0 477.6,169.0 480.1,169.0 482.5,169.1 485.0,169.1 487.4,169.2 489.9,169.1 492.3,169.1 494.7,169.2 497.2,169.3 499.6,169.3 502.1,169.3 504.5,169.3 507.0,169.4 509.4,169.3 511.9,169.3 514.3,169.3 516.8,169.3 519.2,169.4 521.6,169.3 524.1,169.4 526.5,169.3 529.0,169.3 531.4,169.4 533.9,169.4 536.3,169.3 538.8,169.4 541.2,169.3 543.7,169.4 546.1,169.3 548.5,169.4 551.0,169.4 553.4,169.3 555.9,169.3 558.3,169.3 560.8,169.4 563.2,169.4 565.7,169.4 568.1,169.4 570.6,169.4 573.0,169.4 575.4,169.4 577.9,169.4 580.3,169.4 582.8,169.4 585.2,169.4 587.7,169.4 590.1,169.4 592.6,169.4 595.0,169.4 597.5,169.4 599.9,169.4 602.3,169.4 604.8,169.4 607.2,169.4 609.7,169.4 612.1,169.4 614.6,169.4 617.0,169.4 619.5,169.4 621.9,169.4 624.4,169.5 626.8,169.4 629.2,169.4 631.7,169.5 634.1,169.4 636.6,169.4 639.0,169.4 641.5,169.5 643.9,169.4 646.4,169.5 648.8,169.5 651.3,169.5 653.7,169.5 656.1,169.5 658.6,169.4 661.0,169.5 663.5,169.5 665.9,169.5 668.4,169.5 670.8,169.5 673.3,169.5 675.7,169.5 678.2,169.5 680.6,169.5 680.6,169.8 678.2,169.8 675.7,169.8 673.3,169.8 670.8,169.8 668.4,169.8 665.9,169.8 663.5,169.8 661.0,169.8 658.6,169.8 656.1,169.8 653.7,169.8 651.3,169.8 648.8,169.8 646.4,169.8 643.9,169.8 641.5,169.8 639.0,169.8 636.6,169.8 634.1,169.8 631.7,169.8 629.2,169.8 626.8,169.8 624.4,169.8 621.9,169.8 619.5,169.8 617.0,169.8 614.6,169.8 612.1,169.8 609.7,169.8 607.2,169.8 604.8,169.8 602.3,169.8 599.9,169.8 597.5,169.8 595.0,169.8 592.6,169.8 590.1,169.8 587.7,169.8 585.2,169.8 582.8,169.8 580.3,169.8 577.9,169.8 575.4,169.8 573.0,169.8 570.6,169.8 568.1,169.8 565.7,169.8 563.2,169.8 560.8,169.8 558.3,169.8 555.9,169.8 553.4,169.8 551.0,169.8 548.5,169.8 546.1,169.8 543.7,169.8 541.2,169.8 538.8,169.8 536.3,169.8 533.9,169.8 531.4,169.8 529.0,169.8 526.5,169.8 524.1,169.8 521.6,169.8 519.2,169.8 516.8,169.8 514.3,169.8 511.9,169.8 509.4,169.8 507.0,169.8 504.5,169.8 502.1,169.8 499.6,169.8 497.2,169.8 494.7,169.8 492.3,169.8 489.9,169.8 487.4,169.8 485.0,169.8 482.5,169.8 480.1,169.8 477.6,169.8 475.2,169.8 472.7,169.8 470.3,169.8 467.8,169.8 465.4,169.8 463.0,169.8 460.5,169.8 458.1,169.8 455.6,169.8 453.2,169.8 450.7,169.8 448.3,169.8 445.8,169.8 443.4,169.8 440.9,169.8 438.5,169.8 436.1,169.8 433.6,169.8 431.2,169.8 428.7,169.8 426.3,169.8 423.8,169.8 421.4,169.8 418.9,169.8 416.5,169.8 414.0,169.8 411.6,169.8 409.2,169.8 406.7,169.8 404.3,169.8 401.8,169.8 399.4,169.8 396.9,169.8 394.5,169.8 392.0,169.8 389.6,169.8 387.1,169.8 384.7,169.8 382.3,169.8 379.8,169.8 377.4,169.8 374.9,169.8 372.5,169.8 370.0,169.8 367.6,169.8 365.1,169.8 362.7,169.8 360.2,169.8 357.8,169.8 355.4,169.8 352.9,169.8 350.5,169.8 348.0,169.8 345.6,169.8 343.1,169.8 340.7,169.8 338.2,169.8 335.8,169.8 333.3,169.8 330.9,169.8 328.5,169.8 326.0,169.8 323.6,169.8 321.1,169.8 318.7,169.8 316.2,169.8 313.8,169.8 311.3,169.8 308.9,169.8 306.4,169.8 304.0,169.8" fill="#a7a7a7"/>
<polyline points="426.3,164.9 428.7,164.1 431.2,164.8 433.6,164.7 436.1,164.8 438.5,164.8 440.9,164.5 443.4,164.7 445.8,164.0 448.3,164.0 450.7,164.2 453.2,163.4 455.6,164.5 458.1,163.5 460.5,164.2 463.0,164.5 465.4,164.3 467.8,163.1 470.3,163.4 472.7,164.0 475.2,162.9 477.6,163.3 480.1,162.8 482.5,162.5 485.0,161.5 487.4,163.6 489.9,161.9 492.3,159.9 494.7,161.6 497.2,162.1 499.6,161.9 502.1,161.3 504.5,161.8 507.0,161.7 509.4,162.2 511.9,161.3 514.3,161.3 516.8,161.7 519.2,160.9 521.6,160.8 524.1,161.0 526.5,161.1 529.0,160.7 531.4,161.5 533.9,161.1 536.3,160.1 538.8,161.3 541.2,159.0 543.7,160.9 546.1,160.0 548.5,159.8 551.0,160.4 553.4,157.7 555.9,159.7 558.3,156.5 560.8,159.2 563.2,156.7 565.7,157.2 568.1,157.5 570.6,156.7 573.0,156.2 575.4,156.9 577.9,158.3 580.3,157.1 582.8,156.7 585.2,158.5 587.7,157.6 590.1,157.2 592.6,157.9 595.0,157.9 597.5,156.2 599.9,157.6 602.3,157.3 604.8,157.0 607.2,155.9 609.7,156.7 612.1,157.2 614.6,153.7 617.0,155.3 619.5,154.8 621.9,152.5 624.4,153.7 626.8,153.1 629.2,153.8 631.7,152.6 634.1,151.4 636.6,150.0 639.0,149.6 641.5,151.9 643.9,150.0 646.4,149.9 648.8,150.4 651.3,150.9 653.7,150.2 656.1,148.4 658.6,151.6 661.0,149.2 663.5,148.5 665.9,151.3 668.4,152.3 670.8,150.4 673.3,151.8 675.7,151.5 678.2,149.8 680.6,148.1" fill="none" stroke="#fafafa" stroke-width="0.9"/>
<rect x="679.2" y="84" width="1.4" height="84" fill="#8a8a8a"/>
<line x1="304.1" y1="169.8" x2="304.1" y2="172" stroke="#e2e2e2" stroke-width="0.8"/>
<line x1="321.2" y1="169.8" x2="321.2" y2="172" stroke="#e2e2e2" stroke-width="0.8"/>
<line x1="338.3" y1="169.8" x2="338.3" y2="172" stroke="#e2e2e2" stroke-width="0.8"/>
<line x1="355.5" y1="169.8" x2="355.5" y2="172" stroke="#e2e2e2" stroke-width="0.8"/>
<line x1="372.6" y1="169.8" x2="372.6" y2="172" stroke="#e2e2e2" stroke-width="0.8"/>
<line x1="389.7" y1="169.8" x2="389.7" y2="172" stroke="#e2e2e2" stroke-width="0.8"/>
<line x1="406.8" y1="169.8" x2="406.8" y2="172" stroke="#e2e2e2" stroke-width="0.8"/>
<line x1="423.9" y1="169.8" x2="423.9" y2="172" stroke="#e2e2e2" stroke-width="0.8"/>
<line x1="441.1" y1="169.8" x2="441.1" y2="172" stroke="#e2e2e2" stroke-width="0.8"/>
<line x1="458.2" y1="169.8" x2="458.2" y2="172" stroke="#e2e2e2" stroke-width="0.8"/>
<line x1="475.3" y1="169.8" x2="475.3" y2="172" stroke="#e2e2e2" stroke-width="0.8"/>
<line x1="492.4" y1="169.8" x2="492.4" y2="172" stroke="#e2e2e2" stroke-width="0.8"/>
<line x1="509.5" y1="169.8" x2="509.5" y2="172" stroke="#e2e2e2" stroke-width="0.8"/>
<line x1="526.7" y1="169.8" x2="526.7" y2="172" stroke="#e2e2e2" stroke-width="0.8"/>
<line x1="543.8" y1="169.8" x2="543.8" y2="172" stroke="#e2e2e2" stroke-width="0.8"/>
<line x1="560.9" y1="169.8" x2="560.9" y2="172" stroke="#e2e2e2" stroke-width="0.8"/>
<line x1="578.0" y1="169.8" x2="578.0" y2="172" stroke="#e2e2e2" stroke-width="0.8"/>
<line x1="595.1" y1="169.8" x2="595.1" y2="172" stroke="#e2e2e2" stroke-width="0.8"/>
<line x1="612.3" y1="169.8" x2="612.3" y2="172" stroke="#e2e2e2" stroke-width="0.8"/>
<line x1="629.4" y1="169.8" x2="629.4" y2="172" stroke="#e2e2e2" stroke-width="0.8"/>
<line x1="646.5" y1="169.8" x2="646.5" y2="172" stroke="#e2e2e2" stroke-width="0.8"/>
<line x1="663.6" y1="169.8" x2="663.6" y2="172" stroke="#e2e2e2" stroke-width="0.8"/>
<line x1="680.7" y1="169.8" x2="680.7" y2="172" stroke="#e2e2e2" stroke-width="0.8"/>
<text x="295.1" y="171.9" font-size="9.3" text-anchor="end" fill="#222">0</text>
<text x="299.6" y="156.5" font-size="9.3" text-anchor="end" fill="#222">0.1</text>
<text x="299.6" y="141.2" font-size="9.3" text-anchor="end" fill="#222">0.2</text>
<text x="299.6" y="125.8" font-size="9.3" text-anchor="end" fill="#222">0.3</text>
<text x="299.6" y="110.4" font-size="9.3" text-anchor="end" fill="#222">0.4</text>
<text x="299.6" y="95.0" font-size="9.3" text-anchor="end" fill="#222">0.5</text>
<text x="299.6" y="79.7" font-size="9.3" text-anchor="end" fill="#222">0.6</text>
<text x="299.6" y="64.3" font-size="9.3" text-anchor="end" fill="#222">0.7</text>
<text x="299.6" y="48.9" font-size="9.3" text-anchor="end" fill="#222">0.8</text>
<text x="299.6" y="33.6" font-size="9.3" text-anchor="end" fill="#222">0.9</text>
<text x="299.6" y="18.2" font-size="9.3" text-anchor="end" fill="#222">1</text>
<text x="305.8" y="178.7" font-size="8.65" text-anchor="end" fill="#222" transform="rotate(-45 305.8 178.7)">2022/4/14</text>
<text x="322.3" y="178.7" font-size="8.65" text-anchor="end" fill="#222" transform="rotate(-45 322.3 178.7)">2022/4/21</text>
<text x="338.9" y="178.7" font-size="8.65" text-anchor="end" fill="#222" transform="rotate(-45 338.9 178.7)">2022/4/28</text>
<text x="356.6" y="178.7" font-size="8.65" text-anchor="end" fill="#222" transform="rotate(-45 356.6 178.7)">2022/5/5</text>
<text x="373.8" y="178.7" font-size="8.65" text-anchor="end" fill="#222" transform="rotate(-45 373.8 178.7)">2022/5/12</text>
<text x="391.8" y="178.7" font-size="8.65" text-anchor="end" fill="#222" transform="rotate(-45 391.8 178.7)">2022/5/19</text>
<text x="409.0" y="178.7" font-size="8.65" text-anchor="end" fill="#222" transform="rotate(-45 409.0 178.7)">2022/5/26</text>
<text x="425.9" y="178.7" font-size="8.65" text-anchor="end" fill="#222" transform="rotate(-45 425.9 178.7)">2022/6/2</text>
<text x="441.4" y="178.7" font-size="8.65" text-anchor="end" fill="#222" transform="rotate(-45 441.4 178.7)">2022/6/9</text>
<text x="457.5" y="178.7" font-size="8.65" text-anchor="end" fill="#222" transform="rotate(-45 457.5 178.7)">2022/6/16</text>
<text x="472.7" y="178.7" font-size="8.65" text-anchor="end" fill="#222" transform="rotate(-45 472.7 178.7)">2022/6/23</text>
<text x="492.5" y="178.7" font-size="8.65" text-anchor="end" fill="#222" transform="rotate(-45 492.5 178.7)">2022/6/30</text>
<text x="510.1" y="178.7" font-size="8.65" text-anchor="end" fill="#222" transform="rotate(-45 510.1 178.7)">2022/7/7</text>
<text x="526.3" y="178.7" font-size="8.65" text-anchor="end" fill="#222" transform="rotate(-45 526.3 178.7)">2022/7/14</text>
<text x="543.6" y="178.7" font-size="8.65" text-anchor="end" fill="#222" transform="rotate(-45 543.6 178.7)">2022/7/21</text>
<text x="560.8" y="178.7" font-size="8.65" text-anchor="end" fill="#222" transform="rotate(-45 560.8 178.7)">2022/7/28</text>
<text x="577.2" y="178.7" font-size="8.65" text-anchor="end" fill="#222" transform="rotate(-45 577.2 178.7)">2022/8/4</text>
<text x="595.6" y="178.7" font-size="8.65" text-anchor="end" fill="#222" transform="rotate(-45 595.6 178.7)">2022/8/11</text>
<text x="614.2" y="178.7" font-size="8.65" text-anchor="end" fill="#222" transform="rotate(-45 614.2 178.7)">2022/8/18</text>
<text x="633.1" y="178.7" font-size="8.65" text-anchor="end" fill="#222" transform="rotate(-45 633.1 178.7)">2022/8/25</text>
<text x="649.8" y="178.7" font-size="8.65" text-anchor="end" fill="#222" transform="rotate(-45 649.8 178.7)">2022/9/1</text>
<text x="668.2" y="178.7" font-size="8.65" text-anchor="end" fill="#222" transform="rotate(-45 668.2 178.7)">2022/9/8</text>
<text x="684.2" y="178.7" font-size="8.65" text-anchor="end" fill="#222" transform="rotate(-45 684.2 178.7)">2022/9/15</text>
<line x1="301.5" y1="434.6" x2="682" y2="434.6" stroke="#dedede" stroke-width="1"/>
<line x1="301.5" y1="407.0" x2="682" y2="407.0" stroke="#dedede" stroke-width="1"/>
<line x1="301.5" y1="379.5" x2="682" y2="379.5" stroke="#dedede" stroke-width="1"/>
<line x1="301.5" y1="351.9" x2="682" y2="351.9" stroke="#dedede" stroke-width="1"/>
<line x1="301.5" y1="324.3" x2="682" y2="324.3" stroke="#dedede" stroke-width="1"/>
<line x1="301.5" y1="296.7" x2="682" y2="296.7" stroke="#dedede" stroke-width="1"/>
<line x1="301.5" y1="461.8" x2="682" y2="461.8" stroke="#d8d8d8" stroke-width="1"/>
<polygon points="301.7,328.0 303.3,335.8 305.0,329.5 306.6,326.6 308.3,326.8 309.9,319.3 311.5,327.9 313.2,330.4 314.8,329.6 316.5,335.2 318.1,328.4 319.7,322.6 321.4,337.8 323.0,334.2 324.7,339.8 326.3,327.5 327.9,324.8 329.6,332.3 331.2,336.0 332.9,342.7 334.5,343.8 336.1,341.7 337.8,334.7 339.4,341.6 341.1,337.7 342.7,338.8 344.3,340.2 346.0,351.5 347.6,350.5 349.3,353.5 350.9,360.2 352.5,359.3 354.2,365.4 355.8,365.1 357.5,366.2 359.1,364.5 360.7,369.8 362.4,363.5 364.0,369.1 365.7,372.1 367.3,370.5 368.9,370.3 370.6,377.4 372.2,376.1 373.9,379.1 375.5,381.9 377.1,383.5 378.8,379.0 380.4,386.7 382.1,379.5 383.7,379.7 385.3,383.3 387.0,380.4 388.6,386.0 390.3,389.0 391.9,387.5 393.5,387.7 395.2,390.0 396.8,391.5 398.5,387.8 400.1,391.3 401.7,392.3 403.4,393.2 405.0,394.6 406.7,385.4 408.3,405.5 409.9,413.0 411.6,398.6 413.2,394.0 414.9,395.4 416.5,393.7 418.1,395.0 419.8,400.6 421.4,402.6 423.1,398.5 424.7,402.7 426.3,402.8 428.0,401.8 429.6,398.2 431.3,404.3 432.9,402.8 434.5,404.3 436.2,408.9 437.8,408.0 439.5,414.2 441.1,412.3 442.7,415.8 444.4,411.9 446.0,414.2 447.7,417.2 449.3,414.3 450.9,417.6 452.6,416.7 454.2,418.0 455.9,416.7 457.5,417.8 459.1,416.2 460.8,418.1 462.4,416.6 464.1,417.7 465.7,419.4 467.3,418.9 469.0,420.1 470.6,420.7 472.3,420.7 473.9,424.7 475.5,423.5 477.2,425.5 478.8,428.4 480.5,430.3 482.1,432.6 483.7,432.8 485.4,433.0 487.0,435.8 488.7,435.0 490.3,435.6 491.9,438.1 493.6,439.2 495.2,437.9 496.9,441.1 498.5,443.2 500.1,444.3 501.8,442.0 503.4,443.3 505.1,436.2 506.7,442.8 508.3,446.7 510.0,445.7 511.6,446.3 513.3,447.3 514.9,446.5 516.5,446.2 518.2,447.1 519.8,449.5 521.5,449.3 523.1,451.8 524.7,451.4 526.4,452.0 528.0,452.6 529.7,453.0 531.3,452.8 532.9,453.9 534.6,454.3 536.2,454.7 537.9,455.5 539.5,456.1 541.1,455.9 542.8,456.9 544.4,457.0 546.1,457.5 547.7,458.3 549.3,458.5 551.0,458.7 552.6,459.3 554.3,459.2 555.9,459.3 557.5,459.1 559.2,459.2 560.8,459.3 562.5,459.3 564.1,459.2 565.7,459.2 567.4,459.5 569.0,459.0 570.7,459.3 572.3,459.0 573.9,458.1 575.6,458.5 577.2,458.3 578.9,458.6 580.5,458.6 582.1,459.8 583.8,461.3 585.4,461.5 587.1,461.4 588.7,461.4 590.3,461.4 592.0,461.3 593.6,461.3 595.3,461.3 596.9,461.3 598.5,461.2 600.2,461.2 601.8,461.1 603.5,461.1 605.1,461.0 606.7,461.0 608.4,460.9 610.0,460.9 611.7,460.8 613.3,460.8 614.9,460.8 616.6,460.7 618.2,460.7 619.9,460.7 621.5,460.6 623.1,460.5 624.8,460.5 626.4,460.3 628.1,460.3 629.7,460.4 631.3,460.3 633.0,460.1 634.6,460.1 636.3,460.2 637.9,460.0 639.5,459.8 641.2,460.3 642.8,460.9 644.5,461.3 646.1,461.5 647.7,461.5 649.4,461.5 651.0,461.5 652.7,461.5 654.3,461.5 655.9,461.5 657.6,461.5 659.2,461.5 660.9,461.5 662.5,461.5 664.1,461.5 665.8,461.5 667.4,461.5 669.1,461.5 670.7,461.5 672.3,461.5 674.0,461.5 675.6,461.5 677.3,461.5 678.9,461.5 680.5,461.5 680.5,461.5 678.9,461.5 677.3,461.5 675.6,461.5 674.0,461.5 672.3,461.5 670.7,461.5 669.1,461.5 667.4,461.5 665.8,461.5 664.1,461.5 662.5,461.5 660.9,461.5 659.2,461.5 657.6,461.5 655.9,461.5 654.3,461.5 652.7,461.5 651.0,461.5 649.4,461.5 647.7,461.5 646.1,461.5 644.5,461.3 642.8,461.3 641.2,461.3 639.5,461.3 637.9,461.3 636.3,461.3 634.6,461.3 633.0,461.3 631.3,461.3 629.7,461.2 628.1,461.2 626.4,461.2 624.8,461.2 623.1,461.2 621.5,461.2 619.9,461.2 618.2,461.2 616.6,461.2 614.9,461.2 613.3,461.1 611.7,461.2 610.0,461.1 608.4,461.1 606.7,461.1 605.1,461.1 603.5,461.1 601.8,461.1 600.2,461.2 598.5,461.2 596.9,461.3 595.3,461.3 593.6,461.3 592.0,461.3 590.3,461.4 588.7,461.4 587.1,461.4 585.4,461.5 583.8,461.3 582.1,461.0 580.5,461.0 578.9,460.9 577.2,460.9 575.6,460.9 573.9,460.9 572.3,460.8 570.7,460.7 569.0,460.6 567.4,460.6 565.7,460.6 564.1,460.5 562.5,460.5 560.8,460.3 559.2,460.3 557.5,460.1 555.9,460.0 554.3,459.9 552.6,459.9 551.0,459.6 549.3,459.6 547.7,459.6 546.1,459.3 544.4,459.1 542.8,459.0 541.1,458.6 539.5,458.3 537.9,458.2 536.2,457.7 534.6,457.7 532.9,457.0 531.3,456.5 529.7,456.7 528.0,455.7 526.4,455.6 524.7,454.6 523.1,454.7 521.5,452.6 519.8,452.7 518.2,450.8 516.5,450.5 514.9,450.1 513.3,449.3 511.6,447.2 510.0,445.7 508.3,446.7 506.7,444.1 505.1,442.4 503.4,447.6 501.8,446.2 500.1,449.6 498.5,448.9 496.9,447.5 495.2,446.6 493.6,446.3 491.9,446.5 490.3,443.0 488.7,442.1 487.0,442.1 485.4,440.0 483.7,438.2 482.1,436.5 480.5,436.1 478.8,434.4 477.2,432.2 475.5,431.8 473.9,432.0 472.3,428.7 470.6,427.6 469.0,428.1 467.3,426.6 465.7,428.2 464.1,426.1 462.4,426.0 460.8,427.6 459.1,426.4 457.5,428.1 455.9,426.2 454.2,428.0 452.6,426.0 450.9,426.9 449.3,424.9 447.7,427.7 446.0,425.0 444.4,424.5 442.7,424.1 441.1,422.6 439.5,423.9 437.8,420.8 436.2,419.5 434.5,416.4 432.9,416.2 431.3,416.9 429.6,412.1 428.0,415.5 426.3,416.2 424.7,416.6 423.1,410.2 421.4,411.0 419.8,410.3 418.1,405.6 416.5,404.2 414.9,406.7 413.2,401.5 411.6,405.0 409.9,416.5 408.3,413.2 406.7,399.8 405.0,403.7 403.4,401.3 401.7,401.2 400.1,399.9 398.5,396.2 396.8,399.3 395.2,397.4 393.5,393.8 391.9,393.4 390.3,392.9 388.6,392.4 387.0,388.5 385.3,390.8 383.7,386.6 382.1,385.1 380.4,391.3 378.8,382.6 377.1,386.0 375.5,384.7 373.9,382.2 372.2,379.5 370.6,381.2 368.9,374.4 367.3,375.1 365.7,376.6 364.0,373.8 362.4,369.8 360.7,377.2 359.1,374.5 357.5,374.6 355.8,370.8 354.2,369.9 352.5,365.7 350.9,367.4 349.3,362.3 347.6,359.6 346.0,360.3 344.3,350.2 342.7,350.5 341.1,349.5 339.4,351.5 337.8,341.1 336.1,347.1 334.5,347.9 332.9,347.4 331.2,341.4 329.6,340.7 327.9,332.1 326.3,332.2 324.7,342.7 323.0,337.3 321.4,341.6 319.7,328.1 318.1,335.0 316.5,340.5 314.8,333.7 313.2,332.9 311.5,329.8 309.9,323.9 308.3,330.2 306.6,326.9 305.0,332.4 303.3,341.4 301.7,332.3" fill="#c9a2d3"/>
<polygon points="301.7,332.3 303.3,341.4 305.0,332.4 306.6,326.9 308.3,330.2 309.9,323.9 311.5,329.8 313.2,332.9 314.8,333.7 316.5,340.5 318.1,335.0 319.7,328.1 321.4,341.6 323.0,337.3 324.7,342.7 326.3,332.2 327.9,332.1 329.6,340.7 331.2,341.4 332.9,347.4 334.5,347.9 336.1,347.1 337.8,341.1 339.4,351.5 341.1,349.5 342.7,350.5 344.3,350.2 346.0,360.3 347.6,359.6 349.3,362.3 350.9,367.4 352.5,365.7 354.2,369.9 355.8,370.8 357.5,374.6 359.1,374.5 360.7,377.2 362.4,369.8 364.0,373.8 365.7,376.6 367.3,375.1 368.9,374.4 370.6,381.2 372.2,379.5 373.9,382.2 375.5,384.7 377.1,386.0 378.8,382.6 380.4,391.3 382.1,385.1 383.7,386.6 385.3,390.8 387.0,388.5 388.6,392.4 390.3,392.9 391.9,393.4 393.5,393.8 395.2,397.4 396.8,399.3 398.5,396.2 400.1,399.9 401.7,401.2 403.4,401.3 405.0,403.7 406.7,399.8 408.3,413.2 409.9,416.5 411.6,405.0 413.2,401.5 414.9,406.7 416.5,404.2 418.1,405.6 419.8,410.3 421.4,411.0 423.1,410.2 424.7,416.6 426.3,416.2 428.0,415.5 429.6,412.1 431.3,416.9 432.9,416.2 434.5,416.4 436.2,419.5 437.8,420.8 439.5,423.9 441.1,422.6 442.7,424.1 444.4,424.5 446.0,425.0 447.7,427.7 449.3,424.9 450.9,426.9 452.6,426.0 454.2,428.0 455.9,426.2 457.5,428.1 459.1,426.4 460.8,427.6 462.4,426.0 464.1,426.1 465.7,428.2 467.3,426.6 469.0,428.1 470.6,427.6 472.3,428.7 473.9,432.0 475.5,431.8 477.2,432.2 478.8,434.4 480.5,436.1 482.1,436.5 483.7,438.2 485.4,440.0 487.0,442.1 488.7,442.1 490.3,443.0 491.9,446.5 493.6,446.3 495.2,446.6 496.9,447.5 498.5,448.9 500.1,449.6 501.8,446.2 503.4,447.6 505.1,442.4 506.7,444.1 508.3,446.7 510.0,445.7 511.6,447.2 513.3,449.3 514.9,450.1 516.5,450.5 518.2,450.8 519.8,452.7 521.5,452.6 523.1,454.7 524.7,454.6 526.4,455.6 528.0,455.7 529.7,456.7 531.3,456.5 532.9,457.0 534.6,457.7 536.2,457.7 537.9,458.2 539.5,458.3 541.1,458.6 542.8,459.0 544.4,459.1 546.1,459.3 547.7,459.6 549.3,459.6 551.0,459.6 552.6,459.9 554.3,459.9 555.9,460.0 557.5,460.1 559.2,460.3 560.8,460.3 562.5,460.5 564.1,460.5 565.7,460.6 567.4,460.6 569.0,460.6 570.7,460.7 572.3,460.8 573.9,460.9 575.6,460.9 577.2,460.9 578.9,460.9 580.5,461.0 582.1,461.0 583.8,461.3 585.4,461.5 587.1,461.4 588.7,461.4 590.3,461.4 592.0,461.3 593.6,461.3 595.3,461.3 596.9,461.3 598.5,461.2 600.2,461.2 601.8,461.1 603.5,461.1 605.1,461.1 606.7,461.1 608.4,461.1 610.0,461.1 611.7,461.2 613.3,461.1 614.9,461.2 616.6,461.2 618.2,461.2 619.9,461.2 621.5,461.2 623.1,461.2 624.8,461.2 626.4,461.2 628.1,461.2 629.7,461.2 631.3,461.3 633.0,461.3 634.6,461.3 636.3,461.3 637.9,461.3 639.5,461.3 641.2,461.3 642.8,461.3 644.5,461.3 646.1,461.5 647.7,461.5 649.4,461.5 651.0,461.5 652.7,461.5 654.3,461.5 655.9,461.5 657.6,461.5 659.2,461.5 660.9,461.5 662.5,461.5 664.1,461.5 665.8,461.5 667.4,461.5 669.1,461.5 670.7,461.5 672.3,461.5 674.0,461.5 675.6,461.5 677.3,461.5 678.9,461.5 680.5,461.5 680.5,461.5 678.9,461.5 677.3,461.5 675.6,461.5 674.0,461.5 672.3,461.5 670.7,461.5 669.1,461.5 667.4,461.5 665.8,461.5 664.1,461.5 662.5,461.5 660.9,461.5 659.2,461.5 657.6,461.5 655.9,461.5 654.3,461.5 652.7,461.5 651.0,461.5 649.4,461.5 647.7,461.5 646.1,461.5 644.5,461.3 642.8,461.3 641.2,461.3 639.5,461.3 637.9,461.3 636.3,461.3 634.6,461.3 633.0,461.3 631.3,461.3 629.7,461.2 628.1,461.2 626.4,461.2 624.8,461.2 623.1,461.2 621.5,461.2 619.9,461.2 618.2,461.2 616.6,461.2 614.9,461.2 613.3,461.1 611.7,461.2 610.0,461.1 608.4,461.1 606.7,461.1 605.1,461.1 603.5,461.1 601.8,461.1 600.2,461.2 598.5,461.2 596.9,461.3 595.3,461.3 593.6,461.3 592.0,461.3 590.3,461.4 588.7,461.4 587.1,461.4 585.4,461.5 583.8,461.3 582.1,461.0 580.5,461.0 578.9,460.9 577.2,460.9 575.6,460.9 573.9,461.0 572.3,460.9 570.7,460.9 569.0,460.9 567.4,460.9 565.7,460.9 564.1,460.9 562.5,460.9 560.8,460.8 559.2,460.9 557.5,460.8 555.9,460.9 554.3,460.8 552.6,460.9 551.0,460.8 549.3,460.8 547.7,460.9 546.1,460.8 544.4,460.8 542.8,460.8 541.1,460.8 539.5,460.7 537.9,460.7 536.2,460.7 534.6,460.7 532.9,460.7 531.3,460.7 529.7,460.7 528.0,460.7 526.4,460.7 524.7,460.7 523.1,460.7 521.5,460.7 519.8,460.7 518.2,460.6 516.5,460.6 514.9,460.6 513.3,460.7 511.6,460.6 510.0,460.5 508.3,460.5 506.7,460.5 505.1,460.5 503.4,460.3 501.8,460.2 500.1,460.1 498.5,460.0 496.9,459.9 495.2,459.9 493.6,459.9 491.9,459.7 490.3,459.7 488.7,459.6 487.0,459.5 485.4,459.4 483.7,459.5 482.1,459.3 480.5,459.1 478.8,458.8 477.2,458.0 475.5,457.7 473.9,457.5 472.3,456.9 470.6,457.0 469.0,456.7 467.3,456.1 465.7,455.6 464.1,455.6 462.4,454.3 460.8,454.7 459.1,455.1 457.5,454.0 455.9,454.3 454.2,454.2 452.6,454.1 450.9,453.7 449.3,453.6 447.7,453.5 446.0,453.9 444.4,453.3 442.7,452.7 441.1,452.1 439.5,451.2 437.8,450.8 436.2,449.2 434.5,449.2 432.9,449.1 431.3,447.9 429.6,446.6 428.0,446.4 426.3,446.8 424.7,444.5 423.1,445.2 421.4,443.9 419.8,442.9 418.1,439.9 416.5,439.2 414.9,438.7 413.2,437.6 411.6,436.0 409.9,436.1 408.3,433.2 406.7,429.0 405.0,431.3 403.4,427.2 401.7,427.7 400.1,423.7 398.5,421.2 396.8,420.9 395.2,420.6 393.5,419.1 391.9,415.9 390.3,414.1 388.6,414.9 387.0,412.0 385.3,411.8 383.7,409.9 382.1,409.4 380.4,413.4 378.8,406.3 377.1,408.9 375.5,408.2 373.9,407.0 372.2,405.9 370.6,406.0 368.9,400.2 367.3,400.7 365.7,401.3 364.0,395.8 362.4,392.6 360.7,392.5 359.1,383.2 357.5,378.7 355.8,374.5 354.2,372.4 352.5,367.5 350.9,368.3 349.3,363.2 347.6,361.0 346.0,362.4 344.3,352.5 342.7,353.1 341.1,351.8 339.4,353.6 337.8,343.2 336.1,348.7 334.5,349.3 332.9,348.3 331.2,342.1 329.6,341.0 327.9,332.1 326.3,332.2 324.7,342.7 323.0,337.3 321.4,341.6 319.7,328.1 318.1,335.0 316.5,340.5 314.8,333.7 313.2,332.9 311.5,329.8 309.9,323.9 308.3,330.2 306.6,326.9 305.0,332.4 303.3,341.4 301.7,332.3" fill="#6ccbd6"/>
<polygon points="301.7,332.3 303.3,341.4 305.0,332.4 306.6,326.9 308.3,330.2 309.9,323.9 311.5,329.8 313.2,332.9 314.8,333.7 316.5,340.5 318.1,335.0 319.7,328.1 321.4,341.6 323.0,337.3 324.7,342.7 326.3,332.2 327.9,332.1 329.6,341.0 331.2,342.1 332.9,348.3 334.5,349.3 336.1,348.7 337.8,343.2 339.4,353.6 341.1,351.8 342.7,353.1 344.3,352.5 346.0,362.4 347.6,361.0 349.3,363.2 350.9,368.3 352.5,367.5 354.2,372.4 355.8,374.5 357.5,378.7 359.1,383.2 360.7,392.5 362.4,392.6 364.0,395.8 365.7,401.3 367.3,400.7 368.9,400.2 370.6,406.0 372.2,405.9 373.9,407.0 375.5,408.2 377.1,408.9 378.8,406.3 380.4,413.4 382.1,409.4 383.7,409.9 385.3,411.8 387.0,412.0 388.6,414.9 390.3,414.1 391.9,415.9 393.5,419.1 395.2,420.6 396.8,420.9 398.5,421.2 400.1,423.7 401.7,427.7 403.4,427.2 405.0,431.3 406.7,429.0 408.3,433.2 409.9,436.1 411.6,436.0 413.2,437.6 414.9,438.7 416.5,439.2 418.1,439.9 419.8,442.9 421.4,443.9 423.1,445.2 424.7,444.5 426.3,446.8 428.0,446.4 429.6,446.6 431.3,447.9 432.9,449.1 434.5,449.2 436.2,449.2 437.8,450.8 439.5,451.2 441.1,452.1 442.7,452.7 444.4,453.3 446.0,453.9 447.7,453.5 449.3,453.6 450.9,453.7 452.6,454.1 454.2,454.2 455.9,454.3 457.5,454.0 459.1,455.1 460.8,454.7 462.4,454.3 464.1,455.6 465.7,455.6 467.3,456.1 469.0,456.7 470.6,457.0 472.3,456.9 473.9,457.5 475.5,457.7 477.2,458.0 478.8,458.8 480.5,459.1 482.1,459.3 483.7,459.5 485.4,459.4 487.0,459.5 488.7,459.6 490.3,459.7 491.9,459.7 493.6,459.9 495.2,459.9 496.9,459.9 498.5,460.0 500.1,460.1 501.8,460.2 503.4,460.3 505.1,460.5 506.7,460.5 508.3,460.5 510.0,460.5 511.6,460.6 513.3,460.7 514.9,460.6 516.5,460.6 518.2,460.6 519.8,460.7 521.5,460.7 523.1,460.7 524.7,460.7 526.4,460.7 528.0,460.7 529.7,460.7 531.3,460.7 532.9,460.7 534.6,460.7 536.2,460.7 537.9,460.7 539.5,460.7 541.1,460.8 542.8,460.8 544.4,460.8 546.1,460.8 547.7,460.9 549.3,460.8 551.0,460.8 552.6,460.9 554.3,460.8 555.9,460.9 557.5,460.8 559.2,460.9 560.8,460.8 562.5,460.9 564.1,460.9 565.7,460.9 567.4,460.9 569.0,460.9 570.7,460.9 572.3,460.9 573.9,461.0 575.6,460.9 577.2,460.9 578.9,460.9 580.5,461.0 582.1,461.0 583.8,461.3 585.4,461.5 587.1,461.4 588.7,461.4 590.3,461.4 592.0,461.3 593.6,461.3 595.3,461.3 596.9,461.3 598.5,461.2 600.2,461.2 601.8,461.1 603.5,461.1 605.1,461.1 606.7,461.1 608.4,461.1 610.0,461.1 611.7,461.2 613.3,461.1 614.9,461.2 616.6,461.2 618.2,461.2 619.9,461.2 621.5,461.2 623.1,461.2 624.8,461.2 626.4,461.2 628.1,461.2 629.7,461.2 631.3,461.3 633.0,461.3 634.6,461.3 636.3,461.3 637.9,461.3 639.5,461.3 641.2,461.3 642.8,461.3 644.5,461.3 646.1,461.5 647.7,461.5 649.4,461.5 651.0,461.5 652.7,461.5 654.3,461.5 655.9,461.5 657.6,461.5 659.2,461.5 660.9,461.5 662.5,461.5 664.1,461.5 665.8,461.5 667.4,461.5 669.1,461.5 670.7,461.5 672.3,461.5 674.0,461.5 675.6,461.5 677.3,461.5 678.9,461.5 680.5,461.5 680.5,461.5 678.9,461.5 677.3,461.5 675.6,461.5 674.0,461.5 672.3,461.5 670.7,461.5 669.1,461.5 667.4,461.5 665.8,461.5 664.1,461.5 662.5,461.5 660.9,461.5 659.2,461.5 657.6,461.5 655.9,461.5 654.3,461.5 652.7,461.5 651.0,461.5 649.4,461.5 647.7,461.5 646.1,461.5 644.5,461.3 642.8,461.3 641.2,461.3 639.5,461.3 637.9,461.3 636.3,461.3 634.6,461.3 633.0,461.3 631.3,461.3 629.7,461.2 628.1,461.2 626.4,461.2 624.8,461.2 623.1,461.2 621.5,461.2 619.9,461.2 618.2,461.2 616.6,461.2 614.9,461.2 613.3,461.1 611.7,461.2 610.0,461.1 608.4,461.1 606.7,461.1 605.1,461.1 603.5,461.1 601.8,461.1 600.2,461.2 598.5,461.2 596.9,461.3 595.3,461.3 593.6,461.3 592.0,461.3 590.3,461.4 588.7,461.4 587.1,461.4 585.4,461.5 583.8,461.3 582.1,461.0 580.5,461.0 578.9,460.9 577.2,460.9 575.6,460.9 573.9,461.0 572.3,460.9 570.7,460.9 569.0,460.9 567.4,460.9 565.7,460.9 564.1,460.9 562.5,460.9 560.8,460.8 559.2,460.9 557.5,460.8 555.9,460.9 554.3,460.8 552.6,460.9 551.0,460.8 549.3,460.8 547.7,460.9 546.1,460.8 544.4,460.8 542.8,460.8 541.1,460.8 539.5,460.7 537.9,460.7 536.2,460.7 534.6,460.7 532.9,460.7 531.3,460.7 529.7,460.7 528.0,460.7 526.4,460.7 524.7,460.7 523.1,460.7 521.5,460.7 519.8,460.7 518.2,460.6 516.5,460.6 514.9,460.6 513.3,460.7 511.6,460.6 510.0,460.5 508.3,460.6 506.7,460.5 505.1,460.5 503.4,460.4 501.8,460.3 500.1,460.2 498.5,460.2 496.9,460.1 495.2,460.1 493.6,460.0 491.9,459.9 490.3,459.8 488.7,459.7 487.0,459.6 485.4,459.5 483.7,459.6 482.1,459.4 480.5,459.4 478.8,459.1 477.2,458.6 475.5,458.1 473.9,458.2 472.3,457.9 470.6,457.8 469.0,457.6 467.3,457.6 465.7,457.0 464.1,456.8 462.4,456.2 460.8,456.5 459.1,456.4 457.5,455.4 455.9,455.3 454.2,455.3 452.6,455.3 450.9,455.2 449.3,454.9 447.7,454.7 446.0,454.7 444.4,454.2 442.7,453.5 441.1,453.2 439.5,452.1 437.8,451.9 436.2,450.6 434.5,450.3 432.9,450.3 431.3,449.1 429.6,448.3 428.0,447.8 426.3,448.2 424.7,445.9 423.1,446.7 421.4,445.1 419.8,444.3 418.1,441.0 416.5,440.7 414.9,440.5 413.2,439.5 411.6,437.7 409.9,437.7 408.3,435.2 406.7,431.5 405.0,433.2 403.4,430.0 401.7,430.7 400.1,427.3 398.5,424.4 396.8,424.3 395.2,424.5 393.5,422.5 391.9,419.4 390.3,418.0 388.6,418.8 387.0,415.6 385.3,415.6 383.7,412.7 382.1,412.9 380.4,416.1 378.8,409.3 377.1,412.0 375.5,411.6 373.9,410.5 372.2,408.9 370.6,408.6 368.9,404.2 367.3,404.5 365.7,405.9 364.0,399.7 362.4,397.0 360.7,398.9 359.1,391.4 357.5,381.8 355.8,378.4 354.2,376.8 352.5,372.2 350.9,373.9 349.3,368.7 347.6,367.4 346.0,368.4 344.3,361.2 342.7,361.6 341.1,357.6 339.4,361.3 337.8,352.6 336.1,355.0 334.5,354.7 332.9,353.1 331.2,349.1 329.6,350.5 327.9,344.2 326.3,343.3 324.7,354.8 323.0,348.2 321.4,351.4 319.7,339.8 318.1,345.8 316.5,349.1 314.8,344.5 313.2,344.5 311.5,342.0 309.9,333.7 308.3,338.3 306.6,339.3 305.0,342.0 303.3,352.9 301.7,342.4" fill="#8ed4a3"/>
<polygon points="301.7,342.4 303.3,352.9 305.0,342.0 306.6,339.3 308.3,338.3 309.9,333.7 311.5,342.0 313.2,344.5 314.8,344.5 316.5,349.1 318.1,345.8 319.7,339.8 321.4,351.4 323.0,348.2 324.7,354.8 326.3,343.3 327.9,344.2 329.6,350.5 331.2,349.1 332.9,353.1 334.5,354.7 336.1,355.0 337.8,352.6 339.4,361.3 341.1,357.6 342.7,361.6 344.3,361.2 346.0,368.4 347.6,367.4 349.3,368.7 350.9,373.9 352.5,372.2 354.2,376.8 355.8,378.4 357.5,381.8 359.1,391.4 360.7,398.9 362.4,397.0 364.0,399.7 365.7,405.9 367.3,404.5 368.9,404.2 370.6,408.6 372.2,408.9 373.9,410.5 375.5,411.6 377.1,412.0 378.8,409.3 380.4,416.1 382.1,412.9 383.7,412.7 385.3,415.6 387.0,415.6 388.6,418.8 390.3,418.0 391.9,419.4 393.5,422.5 395.2,424.5 396.8,424.3 398.5,424.4 400.1,427.3 401.7,430.7 403.4,430.0 405.0,433.2 406.7,431.5 408.3,435.2 409.9,437.7 411.6,437.7 413.2,439.5 414.9,440.5 416.5,440.7 418.1,441.0 419.8,444.3 421.4,445.1 423.1,446.7 424.7,445.9 426.3,448.2 428.0,447.8 429.6,448.3 431.3,449.1 432.9,450.3 434.5,450.3 436.2,450.6 437.8,451.9 439.5,452.1 441.1,453.2 442.7,453.5 444.4,454.2 446.0,454.7 447.7,454.7 449.3,454.9 450.9,455.2 452.6,455.3 454.2,455.3 455.9,455.3 457.5,455.4 459.1,456.4 460.8,456.5 462.4,456.2 464.1,456.8 465.7,457.0 467.3,457.6 469.0,457.6 470.6,457.8 472.3,457.9 473.9,458.2 475.5,458.1 477.2,458.6 478.8,459.1 480.5,459.4 482.1,459.4 483.7,459.6 485.4,459.5 487.0,459.6 488.7,459.7 490.3,459.8 491.9,459.9 493.6,460.0 495.2,460.1 496.9,460.1 498.5,460.2 500.1,460.2 501.8,460.3 503.4,460.4 505.1,460.5 506.7,460.5 508.3,460.6 510.0,460.5 511.6,460.6 513.3,460.7 514.9,460.6 516.5,460.6 518.2,460.6 519.8,460.7 521.5,460.7 523.1,460.7 524.7,460.7 526.4,460.7 528.0,460.7 529.7,460.7 531.3,460.7 532.9,460.7 534.6,460.7 536.2,460.7 537.9,460.7 539.5,460.7 541.1,460.8 542.8,460.8 544.4,460.8 546.1,460.8 547.7,460.9 549.3,460.8 551.0,460.8 552.6,460.9 554.3,460.8 555.9,460.9 557.5,460.8 559.2,460.9 560.8,460.8 562.5,460.9 564.1,460.9 565.7,460.9 567.4,460.9 569.0,460.9 570.7,460.9 572.3,460.9 573.9,461.0 575.6,460.9 577.2,460.9 578.9,460.9 580.5,461.0 582.1,461.0 583.8,461.3 585.4,461.5 587.1,461.4 588.7,461.4 590.3,461.4 592.0,461.3 593.6,461.3 595.3,461.3 596.9,461.3 598.5,461.2 600.2,461.2 601.8,461.1 603.5,461.1 605.1,461.1 606.7,461.1 608.4,461.1 610.0,461.1 611.7,461.2 613.3,461.1 614.9,461.2 616.6,461.2 618.2,461.2 619.9,461.2 621.5,461.2 623.1,461.2 624.8,461.2 626.4,461.2 628.1,461.2 629.7,461.2 631.3,461.3 633.0,461.3 634.6,461.3 636.3,461.3 637.9,461.3 639.5,461.3 641.2,461.3 642.8,461.3 644.5,461.3 646.1,461.5 647.7,461.5 649.4,461.5 651.0,461.5 652.7,461.5 654.3,461.5 655.9,461.5 657.6,461.5 659.2,461.5 660.9,461.5 662.5,461.5 664.1,461.5 665.8,461.5 667.4,461.5 669.1,461.5 670.7,461.5 672.3,461.5 674.0,461.5 675.6,461.5 677.3,461.5 678.9,461.5 680.5,461.5 680.5,461.5 678.9,461.5 677.3,461.5 675.6,461.5 674.0,461.5 672.3,461.5 670.7,461.5 669.1,461.5 667.4,461.5 665.8,461.5 664.1,461.5 662.5,461.5 660.9,461.5 659.2,461.5 657.6,461.5 655.9,461.5 654.3,461.5 652.7,461.5 651.0,461.5 649.4,461.5 647.7,461.5 646.1,461.5 644.5,461.3 642.8,461.3 641.2,461.3 639.5,461.3 637.9,461.3 636.3,461.3 634.6,461.3 633.0,461.3 631.3,461.3 629.7,461.2 628.1,461.2 626.4,461.2 624.8,461.2 623.1,461.2 621.5,461.2 619.9,461.2 618.2,461.2 616.6,461.2 614.9,461.2 613.3,461.1 611.7,461.2 610.0,461.1 608.4,461.1 606.7,461.1 605.1,461.1 603.5,461.1 601.8,461.1 600.2,461.2 598.5,461.2 596.9,461.3 595.3,461.3 593.6,461.3 592.0,461.3 590.3,461.4 588.7,461.4 587.1,461.4 585.4,461.5 583.8,461.3 582.1,461.0 580.5,461.0 578.9,460.9 577.2,460.9 575.6,460.9 573.9,461.0 572.3,460.9 570.7,460.9 569.0,460.9 567.4,460.9 565.7,460.9 564.1,460.9 562.5,460.9 560.8,460.8 559.2,460.9 557.5,460.8 555.9,460.9 554.3,460.8 552.6,460.9 551.0,460.8 549.3,460.8 547.7,460.9 546.1,460.8 544.4,460.8 542.8,460.8 541.1,460.8 539.5,460.7 537.9,460.7 536.2,460.7 534.6,460.7 532.9,460.7 531.3,460.7 529.7,460.7 528.0,460.7 526.4,460.7 524.7,460.7 523.1,460.7 521.5,460.7 519.8,460.7 518.2,460.6 516.5,460.6 514.9,460.6 513.3,460.7 511.6,460.6 510.0,460.5 508.3,460.6 506.7,460.5 505.1,460.5 503.4,460.4 501.8,460.3 500.1,460.3 498.5,460.2 496.9,460.1 495.2,460.1 493.6,460.1 491.9,459.9 490.3,459.9 488.7,459.8 487.0,459.7 485.4,459.6 483.7,459.7 482.1,459.5 480.5,459.4 478.8,459.2 477.2,458.7 475.5,458.3 473.9,458.5 472.3,458.0 470.6,458.0 469.0,457.9 467.3,457.8 465.7,457.3 464.1,457.2 462.4,456.6 460.8,456.8 459.1,456.7 457.5,455.8 455.9,455.7 454.2,455.7 452.6,455.7 450.9,455.5 449.3,455.1 447.7,455.0 446.0,455.0 444.4,454.5 442.7,453.8 441.1,453.5 439.5,452.4 437.8,452.2 436.2,451.0 434.5,450.7 432.9,450.6 431.3,449.5 429.6,448.7 428.0,448.1 426.3,448.6 424.7,446.4 423.1,447.1 421.4,445.3 419.8,444.5 418.1,441.5 416.5,440.9 414.9,440.8 413.2,440.1 411.6,438.2 409.9,438.3 408.3,435.6 406.7,432.1 405.0,433.9 403.4,430.7 401.7,431.5 400.1,428.2 398.5,425.3 396.8,425.1 395.2,425.2 393.5,423.3 391.9,420.4 390.3,419.2 388.6,420.1 387.0,416.1 385.3,416.6 383.7,413.7 382.1,414.0 380.4,416.9 378.8,410.0 377.1,412.8 375.5,412.2 373.9,411.2 372.2,409.9 370.6,409.3 368.9,405.2 367.3,405.1 365.7,406.8 364.0,400.5 362.4,398.3 360.7,400.4 359.1,393.5 357.5,382.9 355.8,379.3 354.2,377.5 352.5,372.9 350.9,374.7 349.3,369.6 347.6,368.2 346.0,369.0 344.3,362.1 342.7,362.6 341.1,358.5 339.4,362.2 337.8,353.5 336.1,356.0 334.5,355.4 332.9,354.1 331.2,350.1 329.6,351.2 327.9,345.3 326.3,343.8 324.7,355.6 323.0,348.9 321.4,352.5 319.7,340.8 318.1,347.0 316.5,349.9 314.8,345.4 313.2,345.4 311.5,342.8 309.9,334.8 308.3,339.0 306.6,340.1 305.0,342.8 303.3,353.7 301.7,343.4" fill="#9db8e0"/>
<polygon points="301.7,343.4 303.3,353.7 305.0,342.8 306.6,340.1 308.3,339.0 309.9,334.8 311.5,342.8 313.2,345.4 314.8,345.4 316.5,349.9 318.1,347.0 319.7,340.8 321.4,352.5 323.0,348.9 324.7,355.6 326.3,343.8 327.9,345.3 329.6,351.2 331.2,350.1 332.9,354.1 334.5,355.4 336.1,356.0 337.8,353.5 339.4,362.2 341.1,358.5 342.7,362.6 344.3,362.1 346.0,369.0 347.6,368.2 349.3,369.6 350.9,374.7 352.5,372.9 354.2,377.5 355.8,379.3 357.5,382.9 359.1,393.5 360.7,400.4 362.4,398.3 364.0,400.5 365.7,406.8 367.3,405.1 368.9,405.2 370.6,409.3 372.2,409.9 373.9,411.2 375.5,412.2 377.1,412.8 378.8,410.0 380.4,416.9 382.1,414.0 383.7,413.7 385.3,416.6 387.0,416.1 388.6,420.1 390.3,419.2 391.9,420.4 393.5,423.3 395.2,425.2 396.8,425.1 398.5,425.3 400.1,428.2 401.7,431.5 403.4,430.7 405.0,433.9 406.7,432.1 408.3,435.6 409.9,438.3 411.6,438.2 413.2,440.1 414.9,440.8 416.5,440.9 418.1,441.5 419.8,444.5 421.4,445.3 423.1,447.1 424.7,446.4 426.3,448.6 428.0,448.1 429.6,448.7 431.3,449.5 432.9,450.6 434.5,450.7 436.2,451.0 437.8,452.2 439.5,452.4 441.1,453.5 442.7,453.8 444.4,454.5 446.0,455.0 447.7,455.0 449.3,455.1 450.9,455.5 452.6,455.7 454.2,455.7 455.9,455.7 457.5,455.8 459.1,456.7 460.8,456.8 462.4,456.6 464.1,457.2 465.7,457.3 467.3,457.8 469.0,457.9 470.6,458.0 472.3,458.0 473.9,458.5 475.5,458.3 477.2,458.7 478.8,459.2 480.5,459.4 482.1,459.5 483.7,459.7 485.4,459.6 487.0,459.7 488.7,459.8 490.3,459.9 491.9,459.9 493.6,460.1 495.2,460.1 496.9,460.1 498.5,460.2 500.1,460.3 501.8,460.3 503.4,460.4 505.1,460.5 506.7,460.5 508.3,460.6 510.0,460.5 511.6,460.6 513.3,460.7 514.9,460.6 516.5,460.6 518.2,460.6 519.8,460.7 521.5,460.7 523.1,460.7 524.7,460.7 526.4,460.7 528.0,460.7 529.7,460.7 531.3,460.7 532.9,460.7 534.6,460.7 536.2,460.7 537.9,460.7 539.5,460.7 541.1,460.8 542.8,460.8 544.4,460.8 546.1,460.8 547.7,460.9 549.3,460.8 551.0,460.8 552.6,460.9 554.3,460.8 555.9,460.9 557.5,460.8 559.2,460.9 560.8,460.8 562.5,460.9 564.1,460.9 565.7,460.9 567.4,460.9 569.0,460.9 570.7,460.9 572.3,460.9 573.9,461.0 575.6,460.9 577.2,460.9 578.9,460.9 580.5,461.0 582.1,461.0 583.8,461.3 585.4,461.5 587.1,461.4 588.7,461.4 590.3,461.4 592.0,461.3 593.6,461.3 595.3,461.3 596.9,461.3 598.5,461.2 600.2,461.2 601.8,461.1 603.5,461.1 605.1,461.1 606.7,461.1 608.4,461.1 610.0,461.1 611.7,461.2 613.3,461.1 614.9,461.2 616.6,461.2 618.2,461.2 619.9,461.2 621.5,461.2 623.1,461.2 624.8,461.2 626.4,461.2 628.1,461.2 629.7,461.2 631.3,461.3 633.0,461.3 634.6,461.3 636.3,461.3 637.9,461.3 639.5,461.3 641.2,461.3 642.8,461.3 644.5,461.3 646.1,461.5 647.7,461.5 649.4,461.5 651.0,461.5 652.7,461.5 654.3,461.5 655.9,461.5 657.6,461.5 659.2,461.5 660.9,461.5 662.5,461.5 664.1,461.5 665.8,461.5 667.4,461.5 669.1,461.5 670.7,461.5 672.3,461.5 674.0,461.5 675.6,461.5 677.3,461.5 678.9,461.5 680.5,461.5 680.5,461.5 678.9,461.5 677.3,461.5 675.6,461.5 674.0,461.5 672.3,461.5 670.7,461.5 669.1,461.5 667.4,461.5 665.8,461.5 664.1,461.5 662.5,461.5 660.9,461.5 659.2,461.5 657.6,461.5 655.9,461.5 654.3,461.5 652.7,461.5 651.0,461.5 649.4,461.5 647.7,461.5 646.1,461.5 644.5,461.3 642.8,461.3 641.2,461.3 639.5,461.3 637.9,461.3 636.3,461.3 634.6,461.3 633.0,461.3 631.3,461.3 629.7,461.2 628.1,461.2 626.4,461.2 624.8,461.2 623.1,461.2 621.5,461.2 619.9,461.2 618.2,461.2 616.6,461.2 614.9,461.2 613.3,461.1 611.7,461.2 610.0,461.1 608.4,461.1 606.7,461.1 605.1,461.1 603.5,461.1 601.8,461.1 600.2,461.2 598.5,461.2 596.9,461.3 595.3,461.3 593.6,461.3 592.0,461.3 590.3,461.4 588.7,461.4 587.1,461.4 585.4,461.5 583.8,461.3 582.1,461.0 580.5,461.0 578.9,460.9 577.2,460.9 575.6,460.9 573.9,461.0 572.3,460.9 570.7,460.9 569.0,460.9 567.4,460.9 565.7,460.9 564.1,460.9 562.5,460.9 560.8,460.8 559.2,460.9 557.5,460.8 555.9,460.9 554.3,460.8 552.6,460.9 551.0,460.8 549.3,460.8 547.7,460.9 546.1,460.8 544.4,460.8 542.8,460.8 541.1,460.8 539.5,460.7 537.9,460.7 536.2,460.7 534.6,460.7 532.9,460.7 531.3,460.7 529.7,460.7 528.0,460.7 526.4,460.7 524.7,460.7 523.1,460.7 521.5,460.7 519.8,460.7 518.2,460.6 516.5,460.6 514.9,460.6 513.3,460.7 511.6,460.6 510.0,460.5 508.3,460.6 506.7,460.5 505.1,460.6 503.4,460.5 501.8,460.4 500.1,460.4 498.5,460.3 496.9,460.2 495.2,460.2 493.6,460.2 491.9,460.1 490.3,460.0 488.7,459.8 487.0,459.8 485.4,459.6 483.7,459.8 482.1,459.6 480.5,459.5 478.8,459.5 477.2,459.0 475.5,458.8 473.9,459.0 472.3,458.5 470.6,458.6 469.0,458.6 467.3,458.2 465.7,458.0 464.1,458.1 462.4,457.5 460.8,457.6 459.1,457.4 457.5,456.6 455.9,456.6 454.2,456.5 452.6,456.5 450.9,456.2 449.3,456.2 447.7,455.8 446.0,455.6 444.4,455.1 442.7,454.5 441.1,454.0 439.5,453.2 437.8,452.8 436.2,451.7 434.5,451.2 432.9,451.3 431.3,450.3 429.6,449.5 428.0,448.8 426.3,449.3 424.7,447.4 423.1,447.8 421.4,445.9 419.8,445.3 418.1,442.2 416.5,441.6 414.9,441.5 413.2,440.9 411.6,439.4 409.9,438.9 408.3,436.6 406.7,433.9 405.0,435.5 403.4,432.0 401.7,432.7 400.1,430.0 398.5,427.4 396.8,427.3 395.2,428.5 393.5,426.7 391.9,423.7 390.3,421.6 388.6,421.4 387.0,418.7 385.3,418.9 383.7,415.7 382.1,415.4 380.4,418.9 378.8,412.8 377.1,414.8 375.5,413.9 373.9,413.0 372.2,411.5 370.6,411.3 368.9,407.7 367.3,407.9 365.7,409.1 364.0,404.3 362.4,400.8 360.7,404.6 359.1,398.5 357.5,388.7 355.8,385.8 354.2,382.0 352.5,378.1 350.9,379.4 349.3,377.2 347.6,374.5 346.0,375.3 344.3,366.8 342.7,370.1 341.1,366.7 339.4,365.2 337.8,359.6 336.1,360.4 334.5,357.6 332.9,358.0 331.2,355.2 329.6,355.5 327.9,350.5 326.3,348.2 324.7,358.4 323.0,352.4 321.4,356.2 319.7,345.5 318.1,351.0 316.5,353.0 314.8,349.2 313.2,349.9 311.5,348.6 309.9,342.6 308.3,346.6 306.6,345.1 305.0,350.2 303.3,359.4 301.7,350.3" fill="#bcc072"/>
<polygon points="301.7,350.3 303.3,359.4 305.0,350.2 306.6,345.1 308.3,346.6 309.9,342.6 311.5,348.6 313.2,349.9 314.8,349.2 316.5,353.0 318.1,351.0 319.7,345.5 321.4,356.2 323.0,352.4 324.7,358.4 326.3,348.2 327.9,350.5 329.6,355.5 331.2,355.2 332.9,358.0 334.5,357.6 336.1,360.4 337.8,359.6 339.4,365.2 341.1,366.7 342.7,370.1 344.3,366.8 346.0,375.3 347.6,374.5 349.3,377.2 350.9,379.4 352.5,378.1 354.2,382.0 355.8,385.8 357.5,388.7 359.1,398.5 360.7,404.6 362.4,400.8 364.0,404.3 365.7,409.1 367.3,407.9 368.9,407.7 370.6,411.3 372.2,411.5 373.9,413.0 375.5,413.9 377.1,414.8 378.8,412.8 380.4,418.9 382.1,415.4 383.7,415.7 385.3,418.9 387.0,418.7 388.6,421.4 390.3,421.6 391.9,423.7 393.5,426.7 395.2,428.5 396.8,427.3 398.5,427.4 400.1,430.0 401.7,432.7 403.4,432.0 405.0,435.5 406.7,433.9 408.3,436.6 409.9,438.9 411.6,439.4 413.2,440.9 414.9,441.5 416.5,441.6 418.1,442.2 419.8,445.3 421.4,445.9 423.1,447.8 424.7,447.4 426.3,449.3 428.0,448.8 429.6,449.5 431.3,450.3 432.9,451.3 434.5,451.2 436.2,451.7 437.8,452.8 439.5,453.2 441.1,454.0 442.7,454.5 444.4,455.1 446.0,455.6 447.7,455.8 449.3,456.2 450.9,456.2 452.6,456.5 454.2,456.5 455.9,456.6 457.5,456.6 459.1,457.4 460.8,457.6 462.4,457.5 464.1,458.1 465.7,458.0 467.3,458.2 469.0,458.6 470.6,458.6 472.3,458.5 473.9,459.0 475.5,458.8 477.2,459.0 478.8,459.5 480.5,459.5 482.1,459.6 483.7,459.8 485.4,459.6 487.0,459.8 488.7,459.8 490.3,460.0 491.9,460.1 493.6,460.2 495.2,460.2 496.9,460.2 498.5,460.3 500.1,460.4 501.8,460.4 503.4,460.5 505.1,460.6 506.7,460.5 508.3,460.6 510.0,460.5 511.6,460.6 513.3,460.7 514.9,460.6 516.5,460.6 518.2,460.6 519.8,460.7 521.5,460.7 523.1,460.7 524.7,460.7 526.4,460.7 528.0,460.7 529.7,460.7 531.3,460.7 532.9,460.7 534.6,460.7 536.2,460.7 537.9,460.7 539.5,460.7 541.1,460.8 542.8,460.8 544.4,460.8 546.1,460.8 547.7,460.9 549.3,460.8 551.0,460.8 552.6,460.9 554.3,460.8 555.9,460.9 557.5,460.8 559.2,460.9 560.8,460.8 562.5,460.9 564.1,460.9 565.7,460.9 567.4,460.9 569.0,460.9 570.7,460.9 572.3,460.9 573.9,461.0 575.6,460.9 577.2,460.9 578.9,460.9 580.5,461.0 582.1,461.0 583.8,461.3 585.4,461.5 587.1,461.4 588.7,461.4 590.3,461.4 592.0,461.3 593.6,461.3 595.3,461.3 596.9,461.3 598.5,461.2 600.2,461.2 601.8,461.1 603.5,461.1 605.1,461.1 606.7,461.1 608.4,461.1 610.0,461.1 611.7,461.2 613.3,461.1 614.9,461.2 616.6,461.2 618.2,461.2 619.9,461.2 621.5,461.2 623.1,461.2 624.8,461.2 626.4,461.2 628.1,461.2 629.7,461.2 631.3,461.3 633.0,461.3 634.6,461.3 636.3,461.3 637.9,461.3 639.5,461.3 641.2,461.3 642.8,461.3 644.5,461.3 646.1,461.5 647.7,461.5 649.4,461.5 651.0,461.5 652.7,461.5 654.3,461.5 655.9,461.5 657.6,461.5 659.2,461.5 660.9,461.5 662.5,461.5 664.1,461.5 665.8,461.5 667.4,461.5 669.1,461.5 670.7,461.5 672.3,461.5 674.0,461.5 675.6,461.5 677.3,461.5 678.9,461.5 680.5,461.5 680.5,461.5 678.9,461.5 677.3,461.5 675.6,461.5 674.0,461.5 672.3,461.5 670.7,461.5 669.1,461.5 667.4,461.5 665.8,461.5 664.1,461.5 662.5,461.5 660.9,461.5 659.2,461.5 657.6,461.5 655.9,461.5 654.3,461.5 652.7,461.5 651.0,461.5 649.4,461.5 647.7,461.5 646.1,461.5 644.5,461.3 642.8,461.3 641.2,461.3 639.5,461.3 637.9,461.3 636.3,461.3 634.6,461.3 633.0,461.3 631.3,461.3 629.7,461.2 628.1,461.2 626.4,461.2 624.8,461.2 623.1,461.2 621.5,461.2 619.9,461.2 618.2,461.2 616.6,461.2 614.9,461.2 613.3,461.1 611.7,461.2 610.0,461.1 608.4,461.1 606.7,461.1 605.1,461.1 603.5,461.1 601.8,461.1 600.2,461.2 598.5,461.2 596.9,461.3 595.3,461.3 593.6,461.3 592.0,461.3 590.3,461.4 588.7,461.4 587.1,461.4 585.4,461.5 583.8,461.3 582.1,461.0 580.5,461.0 578.9,460.9 577.2,460.9 575.6,460.9 573.9,461.0 572.3,460.9 570.7,460.9 569.0,460.9 567.4,460.9 565.7,460.9 564.1,460.9 562.5,460.9 560.8,460.8 559.2,460.9 557.5,460.8 555.9,460.9 554.3,460.8 552.6,460.9 551.0,460.8 549.3,460.8 547.7,460.9 546.1,460.8 544.4,460.8 542.8,460.8 541.1,460.8 539.5,460.7 537.9,460.7 536.2,460.7 534.6,460.7 532.9,460.7 531.3,460.7 529.7,460.7 528.0,460.7 526.4,460.7 524.7,460.7 523.1,460.7 521.5,460.7 519.8,460.7 518.2,460.6 516.5,460.6 514.9,460.6 513.3,460.7 511.6,460.6 510.0,460.5 508.3,460.6 506.7,460.6 505.1,460.6 503.4,460.6 501.8,460.5 500.1,460.5 498.5,460.4 496.9,460.3 495.2,460.3 493.6,460.3 491.9,460.2 490.3,460.0 488.7,459.9 487.0,459.9 485.4,459.7 483.7,459.8 482.1,459.7 480.5,459.6 478.8,459.6 477.2,459.4 475.5,459.4 473.9,459.4 472.3,459.1 470.6,459.2 469.0,459.1 467.3,459.0 465.7,458.9 464.1,459.0 462.4,458.6 460.8,458.6 459.1,458.1 457.5,457.6 455.9,457.5 454.2,457.3 452.6,457.3 450.9,457.0 449.3,456.8 447.7,456.5 446.0,456.3 444.4,455.8 442.7,455.2 441.1,454.7 439.5,454.0 437.8,453.4 436.2,452.5 434.5,452.0 432.9,452.2 431.3,451.2 429.6,450.3 428.0,449.6 426.3,450.3 424.7,448.4 423.1,448.4 421.4,446.7 419.8,446.2 418.1,442.9 416.5,442.5 414.9,442.6 413.2,442.1 411.6,440.8 409.9,440.0 408.3,437.7 406.7,435.9 405.0,436.6 403.4,433.9 401.7,434.9 400.1,432.2 398.5,429.7 396.8,430.0 395.2,430.7 393.5,429.3 391.9,426.8 390.3,424.2 388.6,424.1 387.0,421.4 385.3,421.2 383.7,418.3 382.1,417.7 380.4,420.5 378.8,415.1 377.1,416.5 375.5,415.6 373.9,415.1 372.2,413.4 370.6,413.4 368.9,409.8 367.3,409.7 365.7,411.6 364.0,406.9 362.4,403.9 360.7,409.2 359.1,405.0 357.5,400.0 355.8,393.2 354.2,389.4 352.5,384.0 350.9,383.2 349.3,380.4 347.6,378.3 346.0,379.0 344.3,372.2 342.7,374.1 341.1,373.0 339.4,370.7 337.8,365.0 336.1,365.8 334.5,367.2 332.9,367.2 331.2,362.9 329.6,365.4 327.9,362.6 326.3,364.2 324.7,372.6 323.0,363.9 321.4,364.4 319.7,355.1 318.1,359.0 316.5,361.7 314.8,358.9 313.2,360.1 311.5,359.7 309.9,354.5 308.3,355.4 306.6,355.3 305.0,362.2 303.3,367.7 301.7,361.9" fill="#eb9c8c"/>
<polygon points="301.7,361.9 303.3,367.7 305.0,362.2 306.6,355.3 308.3,355.4 309.9,354.5 311.5,359.7 313.2,360.1 314.8,358.9 316.5,361.7 318.1,359.0 319.7,355.1 321.4,364.4 323.0,363.9 324.7,372.6 326.3,364.2 327.9,362.6 329.6,365.4 331.2,362.9 332.9,367.2 334.5,367.2 336.1,365.8 337.8,365.0 339.4,370.7 341.1,373.0 342.7,374.1 344.3,372.2 346.0,379.0 347.6,378.3 349.3,380.4 350.9,383.2 352.5,384.0 354.2,389.4 355.8,393.2 357.5,400.0 359.1,405.0 360.7,409.2 362.4,403.9 364.0,406.9 365.7,411.6 367.3,409.7 368.9,409.8 370.6,413.4 372.2,413.4 373.9,415.1 375.5,415.6 377.1,416.5 378.8,415.1 380.4,420.5 382.1,417.7 383.7,418.3 385.3,421.2 387.0,421.4 388.6,424.1 390.3,424.2 391.9,426.8 393.5,429.3 395.2,430.7 396.8,430.0 398.5,429.7 400.1,432.2 401.7,434.9 403.4,433.9 405.0,436.6 406.7,435.9 408.3,437.7 409.9,440.0 411.6,440.8 413.2,442.1 414.9,442.6 416.5,442.5 418.1,442.9 419.8,446.2 421.4,446.7 423.1,448.4 424.7,448.4 426.3,450.3 428.0,449.6 429.6,450.3 431.3,451.2 432.9,452.2 434.5,452.0 436.2,452.5 437.8,453.4 439.5,454.0 441.1,454.7 442.7,455.2 444.4,455.8 446.0,456.3 447.7,456.5 449.3,456.8 450.9,457.0 452.6,457.3 454.2,457.3 455.9,457.5 457.5,457.6 459.1,458.1 460.8,458.6 462.4,458.6 464.1,459.0 465.7,458.9 467.3,459.0 469.0,459.1 470.6,459.2 472.3,459.1 473.9,459.4 475.5,459.4 477.2,459.4 478.8,459.6 480.5,459.6 482.1,459.7 483.7,459.8 485.4,459.7 487.0,459.9 488.7,459.9 490.3,460.0 491.9,460.2 493.6,460.3 495.2,460.3 496.9,460.3 498.5,460.4 500.1,460.5 501.8,460.5 503.4,460.6 505.1,460.6 506.7,460.6 508.3,460.6 510.0,460.5 511.6,460.6 513.3,460.7 514.9,460.6 516.5,460.6 518.2,460.6 519.8,460.7 521.5,460.7 523.1,460.7 524.7,460.7 526.4,460.7 528.0,460.7 529.7,460.7 531.3,460.7 532.9,460.7 534.6,460.7 536.2,460.7 537.9,460.7 539.5,460.7 541.1,460.8 542.8,460.8 544.4,460.8 546.1,460.8 547.7,460.9 549.3,460.8 551.0,460.8 552.6,460.9 554.3,460.8 555.9,460.9 557.5,460.8 559.2,460.9 560.8,460.8 562.5,460.9 564.1,460.9 565.7,460.9 567.4,460.9 569.0,460.9 570.7,460.9 572.3,460.9 573.9,461.0 575.6,460.9 577.2,460.9 578.9,460.9 580.5,461.0 582.1,461.0 583.8,461.3 585.4,461.5 587.1,461.4 588.7,461.4 590.3,461.4 592.0,461.3 593.6,461.3 595.3,461.3 596.9,461.3 598.5,461.2 600.2,461.2 601.8,461.1 603.5,461.1 605.1,461.1 606.7,461.1 608.4,461.1 610.0,461.1 611.7,461.2 613.3,461.1 614.9,461.2 616.6,461.2 618.2,461.2 619.9,461.2 621.5,461.2 623.1,461.2 624.8,461.2 626.4,461.2 628.1,461.2 629.7,461.2 631.3,461.3 633.0,461.3 634.6,461.3 636.3,461.3 637.9,461.3 639.5,461.3 641.2,461.3 642.8,461.3 644.5,461.3 646.1,461.5 647.7,461.5 649.4,461.5 651.0,461.5 652.7,461.5 654.3,461.5 655.9,461.5 657.6,461.5 659.2,461.5 660.9,461.5 662.5,461.5 664.1,461.5 665.8,461.5 667.4,461.5 669.1,461.5 670.7,461.5 672.3,461.5 674.0,461.5 675.6,461.5 677.3,461.5 678.9,461.5 680.5,461.5 680.5,461.5 678.9,461.5 677.3,461.5 675.6,461.5 674.0,461.5 672.3,461.5 670.7,461.5 669.1,461.5 667.4,461.5 665.8,461.5 664.1,461.5 662.5,461.5 660.9,461.5 659.2,461.5 657.6,461.5 655.9,461.5 654.3,461.5 652.7,461.5 651.0,461.5 649.4,461.5 647.7,461.5 646.1,461.5 644.5,461.4 642.8,461.4 641.2,461.4 639.5,461.4 637.9,461.4 636.3,461.4 634.6,461.4 633.0,461.4 631.3,461.4 629.7,461.4 628.1,461.4 626.4,461.4 624.8,461.4 623.1,461.4 621.5,461.4 619.9,461.4 618.2,461.4 616.6,461.4 614.9,461.4 613.3,461.4 611.7,461.4 610.0,461.4 608.4,461.4 606.7,461.4 605.1,461.4 603.5,461.4 601.8,461.4 600.2,461.4 598.5,461.4 596.9,461.4 595.3,461.4 593.6,461.4 592.0,461.3 590.3,461.4 588.7,461.4 587.1,461.4 585.4,461.5 583.8,461.3 582.1,461.3 580.5,461.3 578.9,461.3 577.2,461.3 575.6,461.3 573.9,461.3 572.3,461.3 570.7,461.3 569.0,461.3 567.4,461.3 565.7,461.3 564.1,461.3 562.5,461.3 560.8,461.3 559.2,461.3 557.5,461.3 555.9,461.3 554.3,461.3 552.6,461.3 551.0,461.3 549.3,461.3 547.7,461.3 546.1,461.3 544.4,461.3 542.8,461.3 541.1,461.3 539.5,461.3 537.9,461.2 536.2,461.2 534.6,461.3 532.9,461.2 531.3,461.3 529.7,461.2 528.0,461.2 526.4,461.3 524.7,461.2 523.1,461.3 521.5,461.2 519.8,461.2 518.2,461.2 516.5,461.2 514.9,461.2 513.3,461.3 511.6,461.2 510.0,461.2 508.3,461.2 506.7,461.2 505.1,461.3 503.4,461.2 501.8,461.2 500.1,461.2 498.5,461.2 496.9,461.1 495.2,461.1 493.6,461.1 491.9,461.1 490.3,461.0 488.7,461.1 487.0,461.0 485.4,460.9 483.7,461.0 482.1,460.9 480.5,460.8 478.8,460.9 477.2,460.8 475.5,460.8 473.9,460.8 472.3,460.7 470.6,460.8 469.0,460.8 467.3,460.7 465.7,460.6 464.1,460.7 462.4,460.4 460.8,460.5 459.1,460.3 457.5,460.2 455.9,460.1 454.2,460.1 452.6,460.1 450.9,460.1 449.3,460.0 447.7,459.8 446.0,460.0 444.4,459.5 442.7,459.4 441.1,459.0 439.5,458.9 437.8,458.5 436.2,458.1 434.5,458.0 432.9,458.5 431.3,457.7 429.6,457.6 428.0,456.9 426.3,457.3 424.7,456.7 423.1,457.3 421.4,456.1 419.8,455.8 418.1,455.0 416.5,454.6 414.9,454.8 413.2,454.9 411.6,454.4 409.9,454.3 408.3,453.5 406.7,452.9 405.0,453.9 403.4,452.7 401.7,453.2 400.1,452.6 398.5,450.9 396.8,450.2 395.2,452.5 393.5,450.7 391.9,449.1 390.3,447.8 388.6,449.3 387.0,447.7 385.3,446.4 383.7,445.5 382.1,445.9 380.4,447.8 378.8,445.1 377.1,445.3 375.5,444.8 373.9,445.2 372.2,444.5 370.6,444.8 368.9,443.3 367.3,443.7 365.7,444.5 364.0,443.0 362.4,442.1 360.7,443.9 359.1,444.8 357.5,434.7 355.8,426.5 354.2,424.8 352.5,424.0 350.9,425.2 349.3,423.9 347.6,426.7 346.0,429.1 344.3,426.5 342.7,426.4 341.1,430.6 339.4,429.9 337.8,430.4 336.1,432.1 334.5,433.5 332.9,422.8 331.2,418.7 329.6,420.7 327.9,427.2 326.3,423.5 324.7,429.8 323.0,425.9 321.4,427.5 319.7,423.4 318.1,424.2 316.5,425.7 314.8,424.4 313.2,424.7 311.5,423.9 309.9,420.1 308.3,421.7 306.6,424.9 305.0,428.0 303.3,433.7 301.7,430.0" fill="#8ccd8c"/>
<polygon points="301.7,430.0 303.3,433.7 305.0,428.0 306.6,424.9 308.3,421.7 309.9,420.1 311.5,423.9 313.2,424.7 314.8,424.4 316.5,425.7 318.1,424.2 319.7,423.4 321.4,427.5 323.0,425.9 324.7,429.8 326.3,423.5 327.9,427.2 329.6,420.7 331.2,418.7 332.9,422.8 334.5,433.5 336.1,432.1 337.8,430.4 339.4,429.9 341.1,430.6 342.7,426.4 344.3,426.5 346.0,429.1 347.6,426.7 349.3,423.9 350.9,425.2 352.5,424.0 354.2,424.8 355.8,426.5 357.5,434.7 359.1,444.8 360.7,443.9 362.4,442.1 364.0,443.0 365.7,444.5 367.3,443.7 368.9,443.3 370.6,444.8 372.2,444.5 373.9,445.2 375.5,444.8 377.1,445.3 378.8,445.1 380.4,447.8 382.1,445.9 383.7,445.5 385.3,446.4 387.0,447.7 388.6,449.3 390.3,447.8 391.9,449.1 393.5,450.7 395.2,452.5 396.8,450.2 398.5,450.9 400.1,452.6 401.7,453.2 403.4,452.7 405.0,453.9 406.7,452.9 408.3,453.5 409.9,454.3 411.6,454.4 413.2,454.9 414.9,454.8 416.5,454.6 418.1,455.0 419.8,455.8 421.4,456.1 423.1,457.3 424.7,456.7 426.3,457.3 428.0,456.9 429.6,457.6 431.3,457.7 432.9,458.5 434.5,458.0 436.2,458.1 437.8,458.5 439.5,458.9 441.1,459.0 442.7,459.4 444.4,459.5 446.0,460.0 447.7,459.8 449.3,460.0 450.9,460.1 452.6,460.1 454.2,460.1 455.9,460.1 457.5,460.2 459.1,460.3 460.8,460.5 462.4,460.4 464.1,460.7 465.7,460.6 467.3,460.7 469.0,460.8 470.6,460.8 472.3,460.7 473.9,460.8 475.5,460.8 477.2,460.8 478.8,460.9 480.5,460.8 482.1,460.9 483.7,461.0 485.4,460.9 487.0,461.0 488.7,461.1 490.3,461.0 491.9,461.1 493.6,461.1 495.2,461.1 496.9,461.1 498.5,461.2 500.1,461.2 501.8,461.2 503.4,461.2 505.1,461.3 506.7,461.2 508.3,461.2 510.0,461.2 511.6,461.2 513.3,461.3 514.9,461.2 516.5,461.2 518.2,461.2 519.8,461.2 521.5,461.2 523.1,461.3 524.7,461.2 526.4,461.3 528.0,461.2 529.7,461.2 531.3,461.3 532.9,461.2 534.6,461.3 536.2,461.2 537.9,461.2 539.5,461.3 541.1,461.3 542.8,461.3 544.4,461.3 546.1,461.3 547.7,461.3 549.3,461.3 551.0,461.3 552.6,461.3 554.3,461.3 555.9,461.3 557.5,461.3 559.2,461.3 560.8,461.3 562.5,461.3 564.1,461.3 565.7,461.3 567.4,461.3 569.0,461.3 570.7,461.3 572.3,461.3 573.9,461.3 575.6,461.3 577.2,461.3 578.9,461.3 580.5,461.3 582.1,461.3 583.8,461.3 585.4,461.5 587.1,461.4 588.7,461.4 590.3,461.4 592.0,461.3 593.6,461.4 595.3,461.4 596.9,461.4 598.5,461.4 600.2,461.4 601.8,461.4 603.5,461.4 605.1,461.4 606.7,461.4 608.4,461.4 610.0,461.4 611.7,461.4 613.3,461.4 614.9,461.4 616.6,461.4 618.2,461.4 619.9,461.4 621.5,461.4 623.1,461.4 624.8,461.4 626.4,461.4 628.1,461.4 629.7,461.4 631.3,461.4 633.0,461.4 634.6,461.4 636.3,461.4 637.9,461.4 639.5,461.4 641.2,461.4 642.8,461.4 644.5,461.4 646.1,461.5 647.7,461.5 649.4,461.5 651.0,461.5 652.7,461.5 654.3,461.5 655.9,461.5 657.6,461.5 659.2,461.5 660.9,461.5 662.5,461.5 664.1,461.5 665.8,461.5 667.4,461.5 669.1,461.5 670.7,461.5 672.3,461.5 674.0,461.5 675.6,461.5 677.3,461.5 678.9,461.5 680.5,461.5 680.5,461.5 678.9,461.5 677.3,461.5 675.6,461.5 674.0,461.5 672.3,461.5 670.7,461.5 669.1,461.5 667.4,461.5 665.8,461.5 664.1,461.5 662.5,461.5 660.9,461.5 659.2,461.5 657.6,461.5 655.9,461.5 654.3,461.5 652.7,461.5 651.0,461.5 649.4,461.5 647.7,461.5 646.1,461.5 644.5,461.5 642.8,461.5 641.2,461.5 639.5,461.5 637.9,461.5 636.3,461.4 634.6,461.4 633.0,461.5 631.3,461.5 629.7,461.4 628.1,461.4 626.4,461.4 624.8,461.4 623.1,461.4 621.5,461.4 619.9,461.4 618.2,461.4 616.6,461.4 614.9,461.4 613.3,461.4 611.7,461.4 610.0,461.4 608.4,461.4 606.7,461.4 605.1,461.4 603.5,461.4 601.8,461.4 600.2,461.4 598.5,461.4 596.9,461.4 595.3,461.4 593.6,461.4 592.0,461.4 590.3,461.4 588.7,461.4 587.1,461.4 585.4,461.5 583.8,461.4 582.1,461.4 580.5,461.4 578.9,461.4 577.2,461.4 575.6,461.4 573.9,461.4 572.3,461.4 570.7,461.4 569.0,461.4 567.4,461.4 565.7,461.4 564.1,461.4 562.5,461.4 560.8,461.4 559.2,461.4 557.5,461.3 555.9,461.4 554.3,461.4 552.6,461.4 551.0,461.4 549.3,461.3 547.7,461.4 546.1,461.3 544.4,461.3 542.8,461.3 541.1,461.4 539.5,461.3 537.9,461.3 536.2,461.3 534.6,461.3 532.9,461.3 531.3,461.3 529.7,461.3 528.0,461.3 526.4,461.4 524.7,461.3 523.1,461.3 521.5,461.3 519.8,461.3 518.2,461.3 516.5,461.3 514.9,461.3 513.3,461.4 511.6,461.3 510.0,461.3 508.3,461.3 506.7,461.3 505.1,461.4 503.4,461.3 501.8,461.3 500.1,461.3 498.5,461.3 496.9,461.2 495.2,461.3 493.6,461.2 491.9,461.2 490.3,461.2 488.7,461.2 487.0,461.1 485.4,461.1 483.7,461.1 482.1,461.1 480.5,461.0 478.8,461.1 477.2,461.1 475.5,461.0 473.9,461.0 472.3,460.9 470.6,461.1 469.0,461.0 467.3,460.9 465.7,460.9 464.1,460.9 462.4,460.7 460.8,460.9 459.1,460.7 457.5,460.8 455.9,460.7 454.2,460.7 452.6,460.7 450.9,460.8 449.3,460.8 447.7,460.7 446.0,460.8 444.4,460.6 442.7,460.5 441.1,460.5 439.5,460.5 437.8,460.5 436.2,460.5 434.5,460.5 432.9,460.6 431.3,460.5 429.6,460.5 428.0,460.4 426.3,460.5 424.7,460.3 423.1,460.3 421.4,459.8 419.8,459.8 418.1,459.8 416.5,459.5 414.9,459.7 413.2,459.4 411.6,459.6 409.9,459.6 408.3,459.0 406.7,458.9 405.0,459.4 403.4,458.9 401.7,458.8 400.1,458.8 398.5,458.1 396.8,458.2 395.2,458.8 393.5,458.0 391.9,457.9 390.3,457.8 388.6,458.3 387.0,457.0 385.3,457.0 383.7,456.1 382.1,456.0 380.4,456.9 378.8,455.8 377.1,456.6 375.5,456.0 373.9,455.9 372.2,455.9 370.6,456.3 368.9,455.9 367.3,455.2 365.7,455.1 364.0,454.5 362.4,454.9 360.7,455.6 359.1,454.6 357.5,452.2 355.8,451.3 354.2,447.6 352.5,446.1 350.9,446.4 349.3,444.8 347.6,446.2 346.0,449.6 344.3,447.4 342.7,448.9 341.1,450.1 339.4,451.4 337.8,450.9 336.1,451.7 334.5,450.0 332.9,448.5 331.2,441.8 329.6,441.5 327.9,445.1 326.3,444.1 324.7,448.0 323.0,448.5 321.4,449.4 319.7,448.9 318.1,449.1 316.5,452.7 314.8,453.1 313.2,452.7 311.5,451.4 309.9,452.8 308.3,452.6 306.6,453.5 305.0,454.5 303.3,454.4 301.7,454.1" fill="#e99494"/>
<polygon points="301.7,454.1 303.3,454.4 305.0,454.5 306.6,453.5 308.3,452.6 309.9,452.8 311.5,451.4 313.2,452.7 314.8,453.1 316.5,452.7 318.1,449.1 319.7,448.9 321.4,449.4 323.0,448.5 324.7,448.0 326.3,444.1 327.9,445.1 329.6,441.5 331.2,441.8 332.9,448.5 334.5,450.0 336.1,451.7 337.8,450.9 339.4,451.4 341.1,450.1 342.7,448.9 344.3,447.4 346.0,449.6 347.6,446.2 349.3,444.8 350.9,446.4 352.5,446.1 354.2,447.6 355.8,451.3 357.5,452.2 359.1,454.6 360.7,455.6 362.4,454.9 364.0,454.5 365.7,455.1 367.3,455.2 368.9,455.9 370.6,456.3 372.2,455.9 373.9,455.9 375.5,456.0 377.1,456.6 378.8,455.8 380.4,456.9 382.1,456.0 383.7,456.1 385.3,457.0 387.0,457.0 388.6,458.3 390.3,457.8 391.9,457.9 393.5,458.0 395.2,458.8 396.8,458.2 398.5,458.1 400.1,458.8 401.7,458.8 403.4,458.9 405.0,459.4 406.7,458.9 408.3,459.0 409.9,459.6 411.6,459.6 413.2,459.4 414.9,459.7 416.5,459.5 418.1,459.8 419.8,459.8 421.4,459.8 423.1,460.3 424.7,460.3 426.3,460.5 428.0,460.4 429.6,460.5 431.3,460.5 432.9,460.6 434.5,460.5 436.2,460.5 437.8,460.5 439.5,460.5 441.1,460.5 442.7,460.5 444.4,460.6 446.0,460.8 447.7,460.7 449.3,460.8 450.9,460.8 452.6,460.7 454.2,460.7 455.9,460.7 457.5,460.8 459.1,460.7 460.8,460.9 462.4,460.7 464.1,460.9 465.7,460.9 467.3,460.9 469.0,461.0 470.6,461.1 472.3,460.9 473.9,461.0 475.5,461.0 477.2,461.1 478.8,461.1 480.5,461.0 482.1,461.1 483.7,461.1 485.4,461.1 487.0,461.1 488.7,461.2 490.3,461.2 491.9,461.2 493.6,461.2 495.2,461.3 496.9,461.2 498.5,461.3 500.1,461.3 501.8,461.3 503.4,461.3 505.1,461.4 506.7,461.3 508.3,461.3 510.0,461.3 511.6,461.3 513.3,461.4 514.9,461.3 516.5,461.3 518.2,461.3 519.8,461.3 521.5,461.3 523.1,461.3 524.7,461.3 526.4,461.4 528.0,461.3 529.7,461.3 531.3,461.3 532.9,461.3 534.6,461.3 536.2,461.3 537.9,461.3 539.5,461.3 541.1,461.4 542.8,461.3 544.4,461.3 546.1,461.3 547.7,461.4 549.3,461.3 551.0,461.4 552.6,461.4 554.3,461.4 555.9,461.4 557.5,461.3 559.2,461.4 560.8,461.4 562.5,461.4 564.1,461.4 565.7,461.4 567.4,461.4 569.0,461.4 570.7,461.4 572.3,461.4 573.9,461.4 575.6,461.4 577.2,461.4 578.9,461.4 580.5,461.4 582.1,461.4 583.8,461.4 585.4,461.5 587.1,461.4 588.7,461.4 590.3,461.4 592.0,461.4 593.6,461.4 595.3,461.4 596.9,461.4 598.5,461.4 600.2,461.4 601.8,461.4 603.5,461.4 605.1,461.4 606.7,461.4 608.4,461.4 610.0,461.4 611.7,461.4 613.3,461.4 614.9,461.4 616.6,461.4 618.2,461.4 619.9,461.4 621.5,461.4 623.1,461.4 624.8,461.4 626.4,461.4 628.1,461.4 629.7,461.4 631.3,461.5 633.0,461.5 634.6,461.4 636.3,461.4 637.9,461.5 639.5,461.5 641.2,461.5 642.8,461.5 644.5,461.5 646.1,461.5 647.7,461.5 649.4,461.5 651.0,461.5 652.7,461.5 654.3,461.5 655.9,461.5 657.6,461.5 659.2,461.5 660.9,461.5 662.5,461.5 664.1,461.5 665.8,461.5 667.4,461.5 669.1,461.5 670.7,461.5 672.3,461.5 674.0,461.5 675.6,461.5 677.3,461.5 678.9,461.5 680.5,461.5 680.5,461.5 678.9,461.5 677.3,461.5 675.6,461.5 674.0,461.5 672.3,461.5 670.7,461.5 669.1,461.5 667.4,461.5 665.8,461.5 664.1,461.5 662.5,461.5 660.9,461.5 659.2,461.5 657.6,461.5 655.9,461.5 654.3,461.5 652.7,461.5 651.0,461.5 649.4,461.5 647.7,461.5 646.1,461.5 644.5,461.5 642.8,461.5 641.2,461.5 639.5,461.5 637.9,461.5 636.3,461.5 634.6,461.5 633.0,461.5 631.3,461.5 629.7,461.5 628.1,461.5 626.4,461.5 624.8,461.5 623.1,461.5 621.5,461.5 619.9,461.5 618.2,461.5 616.6,461.5 614.9,461.5 613.3,461.5 611.7,461.5 610.0,461.5 608.4,461.5 606.7,461.5 605.1,461.5 603.5,461.5 601.8,461.5 600.2,461.5 598.5,461.5 596.9,461.5 595.3,461.5 593.6,461.5 592.0,461.5 590.3,461.5 588.7,461.5 587.1,461.5 585.4,461.5 583.8,461.5 582.1,461.5 580.5,461.5 578.9,461.5 577.2,461.5 575.6,461.5 573.9,461.5 572.3,461.5 570.7,461.5 569.0,461.5 567.4,461.5 565.7,461.5 564.1,461.5 562.5,461.5 560.8,461.5 559.2,461.5 557.5,461.5 555.9,461.5 554.3,461.5 552.6,461.5 551.0,461.5 549.3,461.5 547.7,461.5 546.1,461.5 544.4,461.5 542.8,461.5 541.1,461.5 539.5,461.5 537.9,461.5 536.2,461.5 534.6,461.5 532.9,461.5 531.3,461.5 529.7,461.5 528.0,461.5 526.4,461.5 524.7,461.5 523.1,461.5 521.5,461.5 519.8,461.5 518.2,461.5 516.5,461.5 514.9,461.5 513.3,461.5 511.6,461.5 510.0,461.5 508.3,461.5 506.7,461.5 505.1,461.5 503.4,461.5 501.8,461.5 500.1,461.5 498.5,461.5 496.9,461.5 495.2,461.5 493.6,461.5 491.9,461.5 490.3,461.5 488.7,461.5 487.0,461.5 485.4,461.5 483.7,461.5 482.1,461.5 480.5,461.5 478.8,461.5 477.2,461.5 475.5,461.5 473.9,461.5 472.3,461.5 470.6,461.5 469.0,461.5 467.3,461.5 465.7,461.5 464.1,461.5 462.4,461.5 460.8,461.5 459.1,461.5 457.5,461.5 455.9,461.5 454.2,461.5 452.6,461.5 450.9,461.5 449.3,461.5 447.7,461.5 446.0,461.5 444.4,461.5 442.7,461.5 441.1,461.5 439.5,461.5 437.8,461.5 436.2,461.5 434.5,461.5 432.9,461.5 431.3,461.5 429.6,461.5 428.0,461.5 426.3,461.5 424.7,461.5 423.1,461.5 421.4,461.5 419.8,461.5 418.1,461.5 416.5,461.5 414.9,461.5 413.2,461.5 411.6,461.5 409.9,461.5 408.3,461.5 406.7,461.5 405.0,461.5 403.4,461.5 401.7,461.5 400.1,461.5 398.5,461.5 396.8,461.5 395.2,461.5 393.5,461.5 391.9,461.5 390.3,461.5 388.6,461.5 387.0,461.5 385.3,461.5 383.7,461.5 382.1,461.5 380.4,461.5 378.8,461.5 377.1,461.5 375.5,461.5 373.9,461.5 372.2,461.5 370.6,461.5 368.9,461.5 367.3,461.5 365.7,461.5 364.0,461.5 362.4,461.5 360.7,461.5 359.1,461.5 357.5,461.5 355.8,461.5 354.2,461.5 352.5,461.5 350.9,461.5 349.3,461.5 347.6,461.5 346.0,461.5 344.3,461.5 342.7,461.5 341.1,461.5 339.4,461.5 337.8,461.5 336.1,461.5 334.5,461.5 332.9,461.5 331.2,461.5 329.6,461.5 327.9,461.5 326.3,461.5 324.7,461.5 323.0,461.5 321.4,461.5 319.7,461.5 318.1,461.5 316.5,461.5 314.8,461.5 313.2,461.5 311.5,461.5 309.9,461.5 308.3,461.5 306.6,461.5 305.0,461.5 303.3,461.5 301.7,461.5" fill="#dd9ed1"/>
<line x1="301.0" y1="461.8" x2="301.0" y2="463.8" stroke="#e2e2e2" stroke-width="0.8"/>
<line x1="312.3" y1="461.8" x2="312.3" y2="463.8" stroke="#e2e2e2" stroke-width="0.8"/>
<line x1="323.7" y1="461.8" x2="323.7" y2="463.8" stroke="#e2e2e2" stroke-width="0.8"/>
<line x1="335.0" y1="461.8" x2="335.0" y2="463.8" stroke="#e2e2e2" stroke-width="0.8"/>
<line x1="346.3" y1="461.8" x2="346.3" y2="463.8" stroke="#e2e2e2" stroke-width="0.8"/>
<line x1="357.6" y1="461.8" x2="357.6" y2="463.8" stroke="#e2e2e2" stroke-width="0.8"/>
<line x1="369.0" y1="461.8" x2="369.0" y2="463.8" stroke="#e2e2e2" stroke-width="0.8"/>
<line x1="380.3" y1="461.8" x2="380.3" y2="463.8" stroke="#e2e2e2" stroke-width="0.8"/>
<line x1="391.6" y1="461.8" x2="391.6" y2="463.8" stroke="#e2e2e2" stroke-width="0.8"/>
<line x1="403.0" y1="461.8" x2="403.0" y2="463.8" stroke="#e2e2e2" stroke-width="0.8"/>
<line x1="414.3" y1="461.8" x2="414.3" y2="463.8" stroke="#e2e2e2" stroke-width="0.8"/>
<line x1="425.6" y1="461.8" x2="425.6" y2="463.8" stroke="#e2e2e2" stroke-width="0.8"/>
<line x1="437.0" y1="461.8" x2="437.0" y2="463.8" stroke="#e2e2e2" stroke-width="0.8"/>
<line x1="448.3" y1="461.8" x2="448.3" y2="463.8" stroke="#e2e2e2" stroke-width="0.8"/>
<line x1="459.6" y1="461.8" x2="459.6" y2="463.8" stroke="#e2e2e2" stroke-width="0.8"/>
<line x1="470.9" y1="461.8" x2="470.9" y2="463.8" stroke="#e2e2e2" stroke-width="0.8"/>
<line x1="482.3" y1="461.8" x2="482.3" y2="463.8" stroke="#e2e2e2" stroke-width="0.8"/>
<line x1="493.6" y1="461.8" x2="493.6" y2="463.8" stroke="#e2e2e2" stroke-width="0.8"/>
<line x1="504.9" y1="461.8" x2="504.9" y2="463.8" stroke="#e2e2e2" stroke-width="0.8"/>
<line x1="516.3" y1="461.8" x2="516.3" y2="463.8" stroke="#e2e2e2" stroke-width="0.8"/>
<line x1="527.6" y1="461.8" x2="527.6" y2="463.8" stroke="#e2e2e2" stroke-width="0.8"/>
<line x1="538.9" y1="461.8" x2="538.9" y2="463.8" stroke="#e2e2e2" stroke-width="0.8"/>
<line x1="550.3" y1="461.8" x2="550.3" y2="463.8" stroke="#e2e2e2" stroke-width="0.8"/>
<line x1="561.6" y1="461.8" x2="561.6" y2="463.8" stroke="#e2e2e2" stroke-width="0.8"/>
<line x1="572.9" y1="461.8" x2="572.9" y2="463.8" stroke="#e2e2e2" stroke-width="0.8"/>
<line x1="584.2" y1="461.8" x2="584.2" y2="463.8" stroke="#e2e2e2" stroke-width="0.8"/>
<line x1="595.6" y1="461.8" x2="595.6" y2="463.8" stroke="#e2e2e2" stroke-width="0.8"/>
<line x1="606.9" y1="461.8" x2="606.9" y2="463.8" stroke="#e2e2e2" stroke-width="0.8"/>
<line x1="618.2" y1="461.8" x2="618.2" y2="463.8" stroke="#e2e2e2" stroke-width="0.8"/>
<line x1="629.6" y1="461.8" x2="629.6" y2="463.8" stroke="#e2e2e2" stroke-width="0.8"/>
<line x1="640.9" y1="461.8" x2="640.9" y2="463.8" stroke="#e2e2e2" stroke-width="0.8"/>
<line x1="652.2" y1="461.8" x2="652.2" y2="463.8" stroke="#e2e2e2" stroke-width="0.8"/>
<line x1="663.6" y1="461.8" x2="663.6" y2="463.8" stroke="#e2e2e2" stroke-width="0.8"/>
<line x1="674.9" y1="461.8" x2="674.9" y2="463.8" stroke="#e2e2e2" stroke-width="0.8"/>
<text x="297.9" y="463.2" font-size="9.3" text-anchor="end" fill="#222">0</text>
<text x="297.9" y="435.9" font-size="9.3" text-anchor="end" fill="#222">0.1</text>
<text x="297.9" y="408.6" font-size="9.3" text-anchor="end" fill="#222">0.2</text>
<text x="297.9" y="381.3" font-size="9.3" text-anchor="end" fill="#222">0.3</text>
<text x="297.9" y="354.0" font-size="9.3" text-anchor="end" fill="#222">0.4</text>
<text x="297.9" y="326.7" font-size="9.3" text-anchor="end" fill="#222">0.5</text>
<text x="297.9" y="299.4" font-size="9.3" text-anchor="end" fill="#222">0.6</text>
<text x="304.2" y="468.8" font-size="8.65" text-anchor="end" fill="#222" transform="rotate(-45 304.2 468.8)">2022/9/16</text>
<text x="315.5" y="468.8" font-size="8.65" text-anchor="end" fill="#222" transform="rotate(-45 315.5 468.8)">2022/9/23</text>
<text x="330.4" y="468.8" font-size="8.65" text-anchor="end" fill="#222" transform="rotate(-45 330.4 468.8)">2022/9/30</text>
<text x="338.2" y="468.8" font-size="8.65" text-anchor="end" fill="#222" transform="rotate(-45 338.2 468.8)">2022/10/7</text>
<text x="349.5" y="468.8" font-size="8.65" text-anchor="end" fill="#222" transform="rotate(-45 349.5 468.8)">2022/10/14</text>
<text x="360.8" y="468.8" font-size="8.65" text-anchor="end" fill="#222" transform="rotate(-45 360.8 468.8)">2022/10/21</text>
<text x="372.2" y="468.8" font-size="8.65" text-anchor="end" fill="#222" transform="rotate(-45 372.2 468.8)">2022/10/28</text>
<text x="383.5" y="468.8" font-size="8.65" text-anchor="end" fill="#222" transform="rotate(-45 383.5 468.8)">2022/11/4</text>
<text x="394.8" y="468.8" font-size="8.65" text-anchor="end" fill="#222" transform="rotate(-45 394.8 468.8)">2022/11/11</text>
<text x="406.7" y="468.8" font-size="8.65" text-anchor="end" fill="#222" transform="rotate(-45 406.7 468.8)">2022/11/18</text>
<text x="417.5" y="468.8" font-size="8.65" text-anchor="end" fill="#222" transform="rotate(-45 417.5 468.8)">2022/11/25</text>
<text x="427.9" y="468.8" font-size="8.65" text-anchor="end" fill="#222" transform="rotate(-45 427.9 468.8)">2022/12/2</text>
<text x="438.0" y="468.8" font-size="8.65" text-anchor="end" fill="#222" transform="rotate(-45 438.0 468.8)">2022/12/9</text>
<text x="448.5" y="468.8" font-size="8.65" text-anchor="end" fill="#222" transform="rotate(-45 448.5 468.8)">2022/12/16</text>
<text x="461.5" y="468.8" font-size="8.65" text-anchor="end" fill="#222" transform="rotate(-45 461.5 468.8)">2022/12/23</text>
<text x="474.1" y="468.8" font-size="8.65" text-anchor="end" fill="#222" transform="rotate(-45 474.1 468.8)">2022/12/30</text>
<text x="485.5" y="468.8" font-size="8.65" text-anchor="end" fill="#222" transform="rotate(-45 485.5 468.8)">2023/1/6</text>
<text x="496.8" y="468.8" font-size="8.65" text-anchor="end" fill="#222" transform="rotate(-45 496.8 468.8)">2023/1/13</text>
<text x="508.1" y="468.8" font-size="8.65" text-anchor="end" fill="#222" transform="rotate(-45 508.1 468.8)">2023/1/20</text>
<text x="519.5" y="468.8" font-size="8.65" text-anchor="end" fill="#222" transform="rotate(-45 519.5 468.8)">2023/1/27</text>
<text x="530.8" y="468.8" font-size="8.65" text-anchor="end" fill="#222" transform="rotate(-45 530.8 468.8)">2023/2/3</text>
<text x="542.1" y="468.8" font-size="8.65" text-anchor="end" fill="#222" transform="rotate(-45 542.1 468.8)">2023/2/10</text>
<text x="551.8" y="468.8" font-size="8.65" text-anchor="end" fill="#222" transform="rotate(-45 551.8 468.8)">2023/2/17</text>
<text x="563.0" y="468.8" font-size="8.65" text-anchor="end" fill="#222" transform="rotate(-45 563.0 468.8)">2023/2/24</text>
<text x="576.1" y="468.8" font-size="8.65" text-anchor="end" fill="#222" transform="rotate(-45 576.1 468.8)">2023/3/3</text>
<text x="587.5" y="468.8" font-size="8.65" text-anchor="end" fill="#222" transform="rotate(-45 587.5 468.8)">2023/3/10</text>
<text x="598.8" y="468.8" font-size="8.65" text-anchor="end" fill="#222" transform="rotate(-45 598.8 468.8)">2023/3/17</text>
<text x="610.1" y="468.8" font-size="8.65" text-anchor="end" fill="#222" transform="rotate(-45 610.1 468.8)">2023/3/24</text>
<text x="621.4" y="468.8" font-size="8.65" text-anchor="end" fill="#222" transform="rotate(-45 621.4 468.8)">2023/3/31</text>
<text x="632.8" y="468.8" font-size="8.65" text-anchor="end" fill="#222" transform="rotate(-45 632.8 468.8)">2023/4/7</text>
<text x="644.1" y="468.8" font-size="8.65" text-anchor="end" fill="#222" transform="rotate(-45 644.1 468.8)">2023/4/14</text>
<text x="655.4" y="468.8" font-size="8.65" text-anchor="end" fill="#222" transform="rotate(-45 655.4 468.8)">2023/4/21</text>
<text x="666.8" y="468.8" font-size="8.65" text-anchor="end" fill="#222" transform="rotate(-45 666.8 468.8)">2023/4/28</text>
<text x="678.1" y="468.8" font-size="8.65" text-anchor="end" fill="#222" transform="rotate(-45 678.1 468.8)">2023/5/5</text>
<circle cx="5.3" cy="229.8" r="2.50" fill="#8ccd8c"/>
<text x="9.8" y="232.7" font-size="9.33" text-anchor="start" font-weight="normal" fill="#333" >BA.5.2.1</text>
<circle cx="54.7" cy="229.8" r="2.50" fill="#d69fcc"/>
<text x="60.3" y="232.7" font-size="9.33" text-anchor="start" font-weight="normal" fill="#333" >BA.5.1.10</text>
<circle cx="109.2" cy="229.8" r="2.50" fill="#c8a9d4"/>
<text x="115.1" y="232.7" font-size="9.33" text-anchor="start" font-weight="normal" fill="#333" >BA.2.12.1</text>
<circle cx="164.2" cy="229.8" r="2.50" fill="#e2c66f"/>
<text x="170.0" y="232.7" font-size="9.33" text-anchor="start" font-weight="normal" fill="#333" >BA.2</text>
<circle cx="214.6" cy="229.8" r="2.50" fill="#c8ae7c"/>
<text x="221.3" y="232.7" font-size="9.33" text-anchor="start" font-weight="normal" fill="#333" >BA.4.1</text>
<circle cx="5.3" cy="244.7" r="2.50" fill="#a9bd6f"/>
<text x="9.8" y="247.6" font-size="9.33" text-anchor="start" font-weight="normal" fill="#333" >BA.5.1.1</text>
<circle cx="54.7" cy="244.7" r="2.50" fill="#a48cc6"/>
<text x="60.3" y="247.6" font-size="9.33" text-anchor="start" font-weight="normal" fill="#333" >BA.4</text>
<circle cx="109.2" cy="244.7" r="2.50" fill="#e09a6c"/>
<text x="115.1" y="247.6" font-size="9.33" text-anchor="start" font-weight="normal" fill="#333" >BA.5.16</text>
<circle cx="164.2" cy="244.7" r="2.50" fill="#9fb9e0"/>
<text x="170.0" y="247.6" font-size="9.33" text-anchor="start" font-weight="normal" fill="#333" >BA.5.2</text>
<circle cx="214.6" cy="244.7" r="2.50" fill="#8fb0e0"/>
<text x="221.3" y="247.6" font-size="9.33" text-anchor="start" font-weight="normal" fill="#333" >BA.2.21</text>
<circle cx="5.3" cy="259.6" r="2.50" fill="#c8a9d4"/>
<text x="9.8" y="262.5" font-size="9.33" text-anchor="start" font-weight="normal" fill="#333" >BA.5.3</text>
<circle cx="54.7" cy="259.6" r="2.50" fill="#bedb78"/>
<text x="60.3" y="262.5" font-size="9.33" text-anchor="start" font-weight="normal" fill="#333" >BA.2.3</text>
<circle cx="109.2" cy="259.6" r="2.50" fill="#a9a9a9"/>
<text x="115.1" y="262.5" font-size="9.33" text-anchor="start" font-weight="normal" fill="#333" >BA.4.1.6</text>
<circle cx="164.2" cy="259.6" r="2.50" fill="#6fcaa8"/>
<text x="170.0" y="262.5" font-size="9.33" text-anchor="start" font-weight="normal" fill="#333" >BA.5.3.1</text>
<circle cx="214.6" cy="259.6" r="2.50" fill="#cbcbcb"/>
<text x="221.3" y="262.5" font-size="9.33" text-anchor="start" font-weight="normal" fill="#333" >Others</text>
<rect x="302.8" y="228.7" width="3.6" height="3.6" fill="#a0a0a0"/>
<text x="308.2" y="232.9" font-size="9.33" text-anchor="start" font-weight="normal" fill="#333" >BA.2.9</text>
<rect x="356.1" y="228.7" width="3.6" height="3.6" fill="#bcbcbc"/>
<text x="361.5" y="232.9" font-size="9.33" text-anchor="start" font-weight="normal" fill="#333" >BA.4.2</text>
<rect x="409.3" y="228.7" width="3.6" height="3.6" fill="#cccccc"/>
<text x="414.7" y="232.9" font-size="9.33" text-anchor="start" font-weight="normal" fill="#333" >BA.4.4</text>
<rect x="462.6" y="228.7" width="3.6" height="3.6" fill="#e6e6e6"/>
<text x="468.0" y="232.9" font-size="9.33" text-anchor="start" font-weight="normal" fill="#333" >BA.4.6</text>
<rect x="515.9" y="228.7" width="3.6" height="3.6" fill="#f0f0f0"/>
<text x="521.3" y="232.9" font-size="9.33" text-anchor="start" font-weight="normal" fill="#333" >BA.5</text>
<rect x="569.2" y="228.7" width="3.6" height="3.6" fill="#d3d3d3"/>
<text x="574.5" y="232.9" font-size="9.33" text-anchor="start" font-weight="normal" fill="#333" >BA.5.1</text>
<rect x="622.4" y="228.7" width="3.6" height="3.6" fill="#aaaaaa"/>
<text x="627.8" y="232.9" font-size="9.33" text-anchor="start" font-weight="normal" fill="#333" >BA.5.1.3</text>
<rect x="302.8" y="243.5" width="3.6" height="3.6" fill="#7a7676"/>
<text x="308.2" y="247.7" font-size="9.33" text-anchor="start" font-weight="normal" fill="#333" >BA.5.5</text>
<rect x="356.1" y="243.5" width="3.6" height="3.6" fill="#3b393a"/>
<text x="361.5" y="247.7" font-size="9.33" text-anchor="start" font-weight="normal" fill="#333" >BA.5.6</text>
<rect x="409.3" y="243.5" width="3.6" height="3.6" fill="#d5dde5"/>
<text x="414.7" y="247.7" font-size="9.33" text-anchor="start" font-weight="normal" fill="#333" >others</text>
<rect x="462.6" y="243.5" width="3.6" height="3.6" fill="#e2c66f"/>
<text x="468.0" y="247.7" font-size="9.33" text-anchor="start" font-weight="normal" fill="#333" >BA.2</text>
<rect x="515.9" y="243.5" width="3.6" height="3.6" fill="#d8a0cf"/>
<text x="521.3" y="247.7" font-size="9.33" text-anchor="start" font-weight="normal" fill="#333" >BA.2.12.1</text>
<rect x="569.2" y="243.5" width="3.6" height="3.6" fill="#bfd979"/>
<text x="574.5" y="247.7" font-size="9.33" text-anchor="start" font-weight="normal" fill="#333" >BA.2.3</text>
<rect x="622.4" y="243.5" width="3.6" height="3.6" fill="#a58cc8"/>
<text x="627.8" y="247.7" font-size="9.33" text-anchor="start" font-weight="normal" fill="#333" >BA.4</text>
<rect x="302.8" y="258.0" width="3.6" height="3.6" fill="#c8ae7c"/>
<text x="308.2" y="262.2" font-size="9.33" text-anchor="start" font-weight="normal" fill="#333" >BA.4.1</text>
<rect x="356.1" y="258.0" width="3.6" height="3.6" fill="#a9c070"/>
<text x="361.5" y="262.2" font-size="9.33" text-anchor="start" font-weight="normal" fill="#333" >BA.5.1.1</text>
<rect x="409.3" y="258.0" width="3.6" height="3.6" fill="#d8a0cf"/>
<text x="414.7" y="262.2" font-size="9.33" text-anchor="start" font-weight="normal" fill="#333" >BA.5.1.10</text>
<rect x="462.6" y="258.0" width="3.6" height="3.6" fill="#a3b1dc"/>
<text x="468.0" y="262.2" font-size="9.33" text-anchor="start" font-weight="normal" fill="#333" >BA.5.2</text>
<rect x="515.9" y="258.0" width="3.6" height="3.6" fill="#8ccd8c"/>
<text x="521.3" y="262.2" font-size="9.33" text-anchor="start" font-weight="normal" fill="#333" >BA.5.2.1</text>
<circle cx="6.6" cy="509.9" r="1.90" fill="#e2c66f"/>
<text x="15.4" y="511.6" font-size="9.33" text-anchor="start" font-weight="normal" fill="#333" >BA.2</text>
<circle cx="66.8" cy="509.9" r="1.90" fill="#e08868"/>
<text x="73.3" y="511.6" font-size="9.33" text-anchor="start" font-weight="normal" fill="#333" >BA.2.12</text>
<circle cx="117.7" cy="509.9" r="1.90" fill="#c8a9d4"/>
<text x="126.1" y="511.6" font-size="9.33" text-anchor="start" font-weight="normal" fill="#333" >BA.2.12.1</text>
<circle cx="174.5" cy="509.9" r="1.90" fill="#a48cc6"/>
<text x="182.1" y="511.6" font-size="9.33" text-anchor="start" font-weight="normal" fill="#333" >BA.4</text>
<circle cx="218.3" cy="509.9" r="1.90" fill="#cbcbcb"/>
<text x="224.2" y="511.6" font-size="9.33" text-anchor="start" font-weight="normal" fill="#333" >BA.4.1.6</text>
<circle cx="6.6" cy="521.7" r="1.90" fill="#c8ae7c"/>
<text x="15.4" y="523.4" font-size="9.33" text-anchor="start" font-weight="normal" fill="#333" >BA.4.1</text>
<circle cx="66.8" cy="521.7" r="1.90" fill="#7fd08f"/>
<text x="73.3" y="523.4" font-size="9.33" text-anchor="start" font-weight="normal" fill="#333" >BA.4.4</text>
<circle cx="117.7" cy="521.7" r="1.90" fill="#e99494"/>
<text x="126.1" y="523.4" font-size="9.33" text-anchor="start" font-weight="normal" fill="#333" >BA.4.6</text>
<circle cx="174.5" cy="521.7" r="1.90" fill="#72bfe6"/>
<text x="182.1" y="523.4" font-size="9.33" text-anchor="start" font-weight="normal" fill="#333" >BA.5</text>
<circle cx="218.3" cy="521.7" r="1.90" fill="#a9bd6f"/>
<text x="224.2" y="523.4" font-size="9.33" text-anchor="start" font-weight="normal" fill="#333" >BA.5.1.1</text>
<circle cx="6.6" cy="533.4" r="1.90" fill="#d69fcc"/>
<text x="15.4" y="535.1" font-size="9.33" text-anchor="start" font-weight="normal" fill="#333" >BA.5.1.10</text>
<circle cx="66.8" cy="533.4" r="1.90" fill="#e09a6c"/>
<text x="73.3" y="535.1" font-size="9.33" text-anchor="start" font-weight="normal" fill="#333" >BA.5.16</text>
<circle cx="117.7" cy="533.4" r="1.90" fill="#7fd08f"/>
<text x="126.1" y="535.1" font-size="9.33" text-anchor="start" font-weight="normal" fill="#333" >BA.5.2.1</text>
<circle cx="174.5" cy="533.4" r="1.90" fill="#c8a9d4"/>
<text x="182.1" y="535.1" font-size="9.33" text-anchor="start" font-weight="normal" fill="#333" >BA.5.3</text>
<circle cx="218.3" cy="533.4" r="1.90" fill="#6fcaa8"/>
<text x="224.2" y="535.1" font-size="9.33" text-anchor="start" font-weight="normal" fill="#333" >BA.5.3.1</text>
<circle cx="6.6" cy="545.2" r="1.90" fill="#e99494"/>
<text x="15.4" y="546.9" font-size="9.33" text-anchor="start" font-weight="normal" fill="#333" >BA.5.5</text>
<circle cx="66.8" cy="545.2" r="1.90" fill="#7fb0e6"/>
<text x="73.3" y="546.9" font-size="9.33" text-anchor="start" font-weight="normal" fill="#333" >BA.5.5.1</text>
<circle cx="117.7" cy="545.2" r="1.90" fill="#e99ad4"/>
<text x="126.1" y="546.9" font-size="9.33" text-anchor="start" font-weight="normal" fill="#333" >BE.1.1</text>
<circle cx="174.5" cy="545.2" r="1.90" fill="#b0a0dc"/>
<text x="182.1" y="546.9" font-size="9.33" text-anchor="start" font-weight="normal" fill="#333" >BF.1</text>
<circle cx="218.3" cy="545.2" r="1.90" fill="#a9bd6f"/>
<text x="224.2" y="546.9" font-size="9.33" text-anchor="start" font-weight="normal" fill="#333" >BF.5</text>
<circle cx="6.6" cy="556.9" r="1.90" fill="#c8a9d4"/>
<text x="15.4" y="558.6" font-size="9.33" text-anchor="start" font-weight="normal" fill="#333" >BF.7</text>
<circle cx="66.8" cy="556.9" r="1.90" fill="#9fb9e0"/>
<text x="73.3" y="558.6" font-size="9.33" text-anchor="start" font-weight="normal" fill="#333" >BF.8</text>
<circle cx="117.7" cy="556.9" r="1.90" fill="#7fd08f"/>
<text x="126.1" y="558.6" font-size="9.33" text-anchor="start" font-weight="normal" fill="#333" >BF.10</text>
<circle cx="174.5" cy="556.9" r="1.90" fill="#e99494"/>
<text x="182.1" y="558.6" font-size="9.33" text-anchor="start" font-weight="normal" fill="#333" >BF.13</text>
<circle cx="218.3" cy="556.9" r="1.90" fill="#6fcbd8"/>
<text x="224.2" y="558.6" font-size="9.33" text-anchor="start" font-weight="normal" fill="#333" >BQ.1</text>
<circle cx="6.6" cy="568.7" r="1.90" fill="#b49ad8"/>
<text x="15.4" y="570.4" font-size="9.33" text-anchor="start" font-weight="normal" fill="#333" >BQ.1.1.3</text>
<circle cx="66.8" cy="568.7" r="1.90" fill="#cbcbcb"/>
<text x="73.3" y="570.4" font-size="9.33" text-anchor="start" font-weight="normal" fill="#333" >Others</text>
<rect x="298.5" y="536.4" width="3.6" height="3.6" fill="#dd9ed1"/>
<text x="305.4" y="541.0" font-size="9.33" text-anchor="start" font-weight="normal" fill="#333" >BE.1.1</text>
<rect x="337.9" y="536.4" width="3.6" height="3.6" fill="#e99494"/>
<text x="344.5" y="541.0" font-size="9.33" text-anchor="start" font-weight="normal" fill="#333" >BA.4.6</text>
<rect x="377.0" y="536.4" width="3.6" height="3.6" fill="#8ccd8c"/>
<text x="383.3" y="541.0" font-size="9.33" text-anchor="start" font-weight="normal" fill="#333" >BA.5.2.1</text>
<rect x="424.6" y="536.4" width="3.6" height="3.6" fill="#eb9c8c"/>
<text x="431.5" y="541.0" font-size="9.33" text-anchor="start" font-weight="normal" fill="#333" >BA.5.5</text>
<rect x="464.6" y="536.4" width="3.6" height="3.6" fill="#bcc072"/>
<text x="470.9" y="541.0" font-size="9.33" text-anchor="start" font-weight="normal" fill="#333" >BF.5</text>
<rect x="494.7" y="536.4" width="3.6" height="3.6" fill="#9db8e0"/>
<text x="501.3" y="541.0" font-size="9.33" text-anchor="start" font-weight="normal" fill="#333" >BF.8</text>
<rect x="525.3" y="536.4" width="3.6" height="3.6" fill="#8ed4a3"/>
<text x="531.9" y="541.0" font-size="9.33" text-anchor="start" font-weight="normal" fill="#333" >BF.10</text>
<rect x="561.5" y="536.4" width="3.6" height="3.6" fill="#6ccbd6"/>
<text x="567.8" y="541.0" font-size="9.33" text-anchor="start" font-weight="normal" fill="#333" >BQ.1</text>
<rect x="593.4" y="536.4" width="3.6" height="3.6" fill="#b9a2d8"/>
<text x="600.0" y="541.0" font-size="9.33" text-anchor="start" font-weight="normal" fill="#333" >BQ.1.1.3</text>
<rect x="640.6" y="536.4" width="3.6" height="3.6" fill="#d7a2d6"/>
<text x="646.9" y="541.0" font-size="9.33" text-anchor="start" font-weight="normal" fill="#333" >BF.7</text>
</svg></body></html>
